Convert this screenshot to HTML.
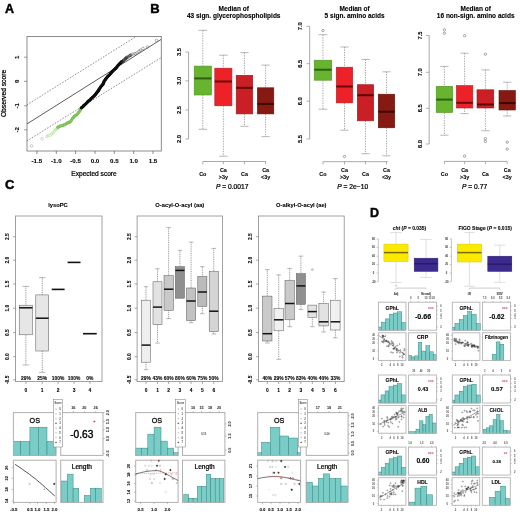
<!DOCTYPE html>
<html><head><meta charset="utf-8"><style>
html,body{margin:0;padding:0;background:#fff;}
svg{display:block;will-change:transform;font-family:"Liberation Sans",sans-serif;}
</style></head><body>
<svg width="520" height="515" viewBox="0 0 520 515">
<rect width="520" height="515" fill="#fff"/>
<text x="9.6" y="13.4" font-size="12.5" font-weight="bold" text-anchor="middle" fill="#000" stroke="#000" stroke-width="0.446">A</text>
<rect x="27" y="36.5" width="134.3" height="114.5" fill="none" stroke="#808080" stroke-width="0.9"/>
<line x1="24" y1="57.2" x2="27" y2="57.2" stroke="#555" stroke-width="0.6"/>
<text x="18.8" y="57.2" font-size="6.2" font-weight="bold" text-anchor="middle" fill="#000" stroke="#000" stroke-width="0.100" transform="rotate(-90 18.8 57.2)">1</text>
<line x1="24" y1="81.3" x2="27" y2="81.3" stroke="#555" stroke-width="0.6"/>
<text x="18.8" y="81.3" font-size="6.2" font-weight="bold" text-anchor="middle" fill="#000" stroke="#000" stroke-width="0.100" transform="rotate(-90 18.8 81.3)">0</text>
<line x1="24" y1="105.8" x2="27" y2="105.8" stroke="#555" stroke-width="0.6"/>
<text x="18.8" y="105.8" font-size="6.2" font-weight="bold" text-anchor="middle" fill="#000" stroke="#000" stroke-width="0.100" transform="rotate(-90 18.8 105.8)">-1</text>
<line x1="24" y1="129.8" x2="27" y2="129.8" stroke="#555" stroke-width="0.6"/>
<text x="18.8" y="129.8" font-size="6.2" font-weight="bold" text-anchor="middle" fill="#000" stroke="#000" stroke-width="0.100" transform="rotate(-90 18.8 129.8)">-2</text>
<line x1="36.9" y1="151" x2="36.9" y2="154" stroke="#444" stroke-width="0.6"/>
<text x="36.9" y="163.2" font-size="6.2" font-weight="bold" text-anchor="middle" fill="#000" stroke="#000" stroke-width="0.100">-1.5</text>
<line x1="56.3" y1="151" x2="56.3" y2="154" stroke="#444" stroke-width="0.6"/>
<text x="56.3" y="163.2" font-size="6.2" font-weight="bold" text-anchor="middle" fill="#000" stroke="#000" stroke-width="0.100">-1.0</text>
<line x1="75.6" y1="151" x2="75.6" y2="154" stroke="#444" stroke-width="0.6"/>
<text x="75.6" y="163.2" font-size="6.2" font-weight="bold" text-anchor="middle" fill="#000" stroke="#000" stroke-width="0.100">-0.5</text>
<line x1="95" y1="151" x2="95" y2="154" stroke="#444" stroke-width="0.6"/>
<text x="95" y="163.2" font-size="6.2" font-weight="bold" text-anchor="middle" fill="#000" stroke="#000" stroke-width="0.100">0.0</text>
<line x1="114.3" y1="151" x2="114.3" y2="154" stroke="#444" stroke-width="0.6"/>
<text x="114.3" y="163.2" font-size="6.2" font-weight="bold" text-anchor="middle" fill="#000" stroke="#000" stroke-width="0.100">0.5</text>
<line x1="133.7" y1="151" x2="133.7" y2="154" stroke="#444" stroke-width="0.6"/>
<text x="133.7" y="163.2" font-size="6.2" font-weight="bold" text-anchor="middle" fill="#000" stroke="#000" stroke-width="0.100">1.0</text>
<line x1="153" y1="151" x2="153" y2="154" stroke="#444" stroke-width="0.6"/>
<text x="153" y="163.2" font-size="6.2" font-weight="bold" text-anchor="middle" fill="#000" stroke="#000" stroke-width="0.100">1.5</text>
<text x="94" y="175.7" font-size="6.6" text-anchor="middle" fill="#000" stroke="#000" stroke-width="0.236">Expected score</text>
<text x="6.3" y="93.5" font-size="6.7" text-anchor="middle" fill="#000" stroke="#000" stroke-width="0.239" transform="rotate(-90 6.3 93.5)">Observed score</text>
<clipPath id="ca"><rect x="27" y="37" width="134" height="113.6"/></clipPath>
<g clip-path="url(#ca)">
<line x1="26.7" y1="124.1" x2="161.6" y2="39.1" stroke="#333" stroke-width="0.8"/>
<line x1="26.7" y1="105" x2="137" y2="36" stroke="#444" stroke-width="0.6" stroke-dasharray="1.6 1.4"/>
<line x1="26.7" y1="141" x2="161.3" y2="57.5" stroke="#444" stroke-width="0.6" stroke-dasharray="1.6 1.4"/>
<circle cx="46.77" cy="136.67" r="1.25" fill="none" stroke="#a8d890" stroke-width="0.55"/>
<circle cx="48.03" cy="135.55" r="1.25" fill="none" stroke="#a8d890" stroke-width="0.55"/>
<circle cx="50.3" cy="135.34" r="1.25" fill="none" stroke="#a8d890" stroke-width="0.55"/>
<circle cx="51.65" cy="133.88" r="1.25" fill="none" stroke="#a8d890" stroke-width="0.55"/>
<circle cx="53.06" cy="132.86" r="1.25" fill="none" stroke="#a8d890" stroke-width="0.55"/>
<circle cx="54.25" cy="131.1" r="1.25" fill="none" stroke="#a8d890" stroke-width="0.55"/>
<circle cx="55.36" cy="129.74" r="1.25" fill="none" stroke="#a8d890" stroke-width="0.55"/>
<circle cx="56.73" cy="128.9" r="1.25" fill="none" stroke="#a8d890" stroke-width="0.55"/>
<circle cx="57.8" cy="127.4" r="1.25" fill="none" stroke="#a8d890" stroke-width="0.55"/>
<circle cx="57.64" cy="127.43" r="1.2" fill="#a6d985" stroke="#5aaa30" stroke-width="0.5"/>
<circle cx="58.52" cy="127.06" r="1.2" fill="#a6d985" stroke="#5aaa30" stroke-width="0.5"/>
<circle cx="59.48" cy="126.34" r="1.2" fill="#a6d985" stroke="#5aaa30" stroke-width="0.5"/>
<circle cx="59.91" cy="126.4" r="1.2" fill="#a6d985" stroke="#5aaa30" stroke-width="0.5"/>
<circle cx="60.96" cy="125.74" r="1.2" fill="#a6d985" stroke="#5aaa30" stroke-width="0.5"/>
<circle cx="62.3" cy="125.58" r="1.2" fill="#a6d985" stroke="#5aaa30" stroke-width="0.5"/>
<circle cx="63.1" cy="125.29" r="1.2" fill="#a6d985" stroke="#5aaa30" stroke-width="0.5"/>
<circle cx="63.88" cy="124.79" r="1.2" fill="#a6d985" stroke="#5aaa30" stroke-width="0.5"/>
<circle cx="64.76" cy="124.77" r="1.2" fill="#a6d985" stroke="#5aaa30" stroke-width="0.5"/>
<circle cx="65.56" cy="124.24" r="1.2" fill="#a6d985" stroke="#5aaa30" stroke-width="0.5"/>
<circle cx="66.53" cy="123.39" r="1.2" fill="#a6d985" stroke="#5aaa30" stroke-width="0.5"/>
<circle cx="67.45" cy="123.25" r="1.2" fill="#a6d985" stroke="#5aaa30" stroke-width="0.5"/>
<circle cx="67.93" cy="122.49" r="1.2" fill="#a6d985" stroke="#5aaa30" stroke-width="0.5"/>
<circle cx="69.02" cy="122.33" r="1.2" fill="#a6d985" stroke="#5aaa30" stroke-width="0.5"/>
<circle cx="69.68" cy="122.15" r="1.2" fill="#a6d985" stroke="#5aaa30" stroke-width="0.5"/>
<circle cx="70.43" cy="121.75" r="1.2" fill="#a6d985" stroke="#5aaa30" stroke-width="0.5"/>
<circle cx="70.84" cy="120.88" r="1.2" fill="#a6d985" stroke="#5aaa30" stroke-width="0.5"/>
<circle cx="71.47" cy="120.16" r="1.2" fill="#a6d985" stroke="#5aaa30" stroke-width="0.5"/>
<circle cx="72.33" cy="118.86" r="1.2" fill="#a6d985" stroke="#5aaa30" stroke-width="0.5"/>
<circle cx="72.48" cy="118.13" r="1.2" fill="#a6d985" stroke="#5aaa30" stroke-width="0.5"/>
<circle cx="73.58" cy="117.46" r="1.2" fill="#a6d985" stroke="#5aaa30" stroke-width="0.5"/>
<circle cx="73.98" cy="116.58" r="1.2" fill="#a6d985" stroke="#5aaa30" stroke-width="0.5"/>
<circle cx="74.65" cy="116.03" r="1.2" fill="#a6d985" stroke="#5aaa30" stroke-width="0.5"/>
<circle cx="75.31" cy="115.55" r="1.2" fill="#a6d985" stroke="#5aaa30" stroke-width="0.5"/>
<circle cx="76.2" cy="115.14" r="1.2" fill="#a6d985" stroke="#5aaa30" stroke-width="0.5"/>
<circle cx="77.01" cy="114.56" r="1.2" fill="#a6d985" stroke="#5aaa30" stroke-width="0.5"/>
<circle cx="77.71" cy="113.82" r="1.2" fill="#a6d985" stroke="#5aaa30" stroke-width="0.5"/>
<circle cx="78.2" cy="112.55" r="1.2" fill="#a6d985" stroke="#5aaa30" stroke-width="0.5"/>
<circle cx="78.92" cy="112.25" r="1.2" fill="#a6d985" stroke="#5aaa30" stroke-width="0.5"/>
<circle cx="79.54" cy="111.24" r="1.2" fill="#a6d985" stroke="#5aaa30" stroke-width="0.5"/>
<circle cx="79.95" cy="110.25" r="1.2" fill="#a6d985" stroke="#5aaa30" stroke-width="0.5"/>
<circle cx="80.55" cy="109.69" r="1.2" fill="#a6d985" stroke="#5aaa30" stroke-width="0.5"/>
<circle cx="80.75" cy="108.61" r="1.2" fill="#a6d985" stroke="#5aaa30" stroke-width="0.5"/>
<circle cx="81.4" cy="108.1" r="1.2" fill="#a6d985" stroke="#5aaa30" stroke-width="0.5"/>
<circle cx="81.27" cy="107.9" r="1.2" fill="#222" stroke="#000" stroke-width="0.5"/>
<circle cx="81.79" cy="107.48" r="1.2" fill="#222" stroke="#000" stroke-width="0.5"/>
<circle cx="82.07" cy="107.17" r="1.2" fill="#222" stroke="#000" stroke-width="0.5"/>
<circle cx="82.94" cy="106.92" r="1.2" fill="#222" stroke="#000" stroke-width="0.5"/>
<circle cx="83.3" cy="106.19" r="1.2" fill="#222" stroke="#000" stroke-width="0.5"/>
<circle cx="83.63" cy="105.77" r="1.2" fill="#222" stroke="#000" stroke-width="0.5"/>
<circle cx="83.89" cy="105.25" r="1.2" fill="#222" stroke="#000" stroke-width="0.5"/>
<circle cx="84.36" cy="105.21" r="1.2" fill="#222" stroke="#000" stroke-width="0.5"/>
<circle cx="85.14" cy="104.68" r="1.2" fill="#222" stroke="#000" stroke-width="0.5"/>
<circle cx="85.59" cy="103.9" r="1.2" fill="#222" stroke="#000" stroke-width="0.5"/>
<circle cx="85.82" cy="103.65" r="1.2" fill="#222" stroke="#000" stroke-width="0.5"/>
<circle cx="86.5" cy="103.29" r="1.2" fill="#222" stroke="#000" stroke-width="0.5"/>
<circle cx="87.05" cy="102.44" r="1.2" fill="#222" stroke="#000" stroke-width="0.5"/>
<circle cx="87.38" cy="102.26" r="1.2" fill="#222" stroke="#000" stroke-width="0.5"/>
<circle cx="87.8" cy="101.54" r="1.2" fill="#222" stroke="#000" stroke-width="0.5"/>
<circle cx="88.24" cy="101.09" r="1.2" fill="#222" stroke="#000" stroke-width="0.5"/>
<circle cx="88.92" cy="101.08" r="1.2" fill="#222" stroke="#000" stroke-width="0.5"/>
<circle cx="89.17" cy="100.4" r="1.2" fill="#222" stroke="#000" stroke-width="0.5"/>
<circle cx="89.8" cy="100.14" r="1.2" fill="#222" stroke="#000" stroke-width="0.5"/>
<circle cx="90.24" cy="99.87" r="1.2" fill="#222" stroke="#000" stroke-width="0.5"/>
<circle cx="90.5" cy="99.26" r="1.2" fill="#222" stroke="#000" stroke-width="0.5"/>
<circle cx="91" cy="98.87" r="1.2" fill="#222" stroke="#000" stroke-width="0.5"/>
<circle cx="91.23" cy="98.4" r="1.2" fill="#222" stroke="#000" stroke-width="0.5"/>
<circle cx="92.01" cy="97.87" r="1.2" fill="#222" stroke="#000" stroke-width="0.5"/>
<circle cx="92.07" cy="97.76" r="1.2" fill="#222" stroke="#000" stroke-width="0.5"/>
<circle cx="92.64" cy="97.32" r="1.2" fill="#222" stroke="#000" stroke-width="0.5"/>
<circle cx="93.19" cy="96.82" r="1.2" fill="#222" stroke="#000" stroke-width="0.5"/>
<circle cx="93.91" cy="96.27" r="1.2" fill="#222" stroke="#000" stroke-width="0.5"/>
<circle cx="94.08" cy="95.79" r="1.2" fill="#222" stroke="#000" stroke-width="0.5"/>
<circle cx="94.65" cy="95.35" r="1.2" fill="#222" stroke="#000" stroke-width="0.5"/>
<circle cx="94.97" cy="95.1" r="1.2" fill="#222" stroke="#000" stroke-width="0.5"/>
<circle cx="95.41" cy="94.53" r="1.2" fill="#222" stroke="#000" stroke-width="0.5"/>
<circle cx="96.08" cy="93.8" r="1.2" fill="#222" stroke="#000" stroke-width="0.5"/>
<circle cx="96.04" cy="93.36" r="1.2" fill="#222" stroke="#000" stroke-width="0.5"/>
<circle cx="96.77" cy="93.06" r="1.2" fill="#222" stroke="#000" stroke-width="0.5"/>
<circle cx="96.89" cy="92.42" r="1.2" fill="#222" stroke="#000" stroke-width="0.5"/>
<circle cx="97.24" cy="91.98" r="1.2" fill="#222" stroke="#000" stroke-width="0.5"/>
<circle cx="97.51" cy="91.57" r="1.2" fill="#222" stroke="#000" stroke-width="0.5"/>
<circle cx="98.27" cy="91.18" r="1.2" fill="#222" stroke="#000" stroke-width="0.5"/>
<circle cx="98.53" cy="90.65" r="1.2" fill="#222" stroke="#000" stroke-width="0.5"/>
<circle cx="98.51" cy="89.79" r="1.2" fill="#222" stroke="#000" stroke-width="0.5"/>
<circle cx="99.32" cy="89.51" r="1.2" fill="#222" stroke="#000" stroke-width="0.5"/>
<circle cx="99.38" cy="89.07" r="1.2" fill="#222" stroke="#000" stroke-width="0.5"/>
<circle cx="99.82" cy="88.48" r="1.2" fill="#222" stroke="#000" stroke-width="0.5"/>
<circle cx="100" cy="87.65" r="1.2" fill="#222" stroke="#000" stroke-width="0.5"/>
<circle cx="100.47" cy="87.14" r="1.2" fill="#222" stroke="#000" stroke-width="0.5"/>
<circle cx="100.84" cy="87.08" r="1.2" fill="#222" stroke="#000" stroke-width="0.5"/>
<circle cx="101.22" cy="86.13" r="1.2" fill="#222" stroke="#000" stroke-width="0.5"/>
<circle cx="101.47" cy="85.73" r="1.2" fill="#222" stroke="#000" stroke-width="0.5"/>
<circle cx="102.24" cy="85.36" r="1.2" fill="#222" stroke="#000" stroke-width="0.5"/>
<circle cx="102.4" cy="84.75" r="1.2" fill="#222" stroke="#000" stroke-width="0.5"/>
<circle cx="103.14" cy="84.44" r="1.2" fill="#222" stroke="#000" stroke-width="0.5"/>
<circle cx="103.15" cy="83.78" r="1.2" fill="#222" stroke="#000" stroke-width="0.5"/>
<circle cx="103.3" cy="83.19" r="1.2" fill="#222" stroke="#000" stroke-width="0.5"/>
<circle cx="103.83" cy="82.54" r="1.2" fill="#222" stroke="#000" stroke-width="0.5"/>
<circle cx="103.73" cy="82.08" r="1.2" fill="#222" stroke="#000" stroke-width="0.5"/>
<circle cx="104.05" cy="81.69" r="1.2" fill="#222" stroke="#000" stroke-width="0.5"/>
<circle cx="104.21" cy="80.81" r="1.2" fill="#222" stroke="#000" stroke-width="0.5"/>
<circle cx="104.94" cy="80.23" r="1.2" fill="#222" stroke="#000" stroke-width="0.5"/>
<circle cx="105.44" cy="79.74" r="1.2" fill="#222" stroke="#000" stroke-width="0.5"/>
<circle cx="105.47" cy="79.18" r="1.2" fill="#222" stroke="#000" stroke-width="0.5"/>
<circle cx="105.77" cy="78.66" r="1.2" fill="#222" stroke="#000" stroke-width="0.5"/>
<circle cx="106.27" cy="78.43" r="1.2" fill="#222" stroke="#000" stroke-width="0.5"/>
<circle cx="106.97" cy="77.77" r="1.2" fill="#222" stroke="#000" stroke-width="0.5"/>
<circle cx="106.97" cy="77.19" r="1.2" fill="#222" stroke="#000" stroke-width="0.5"/>
<circle cx="107.47" cy="76.7" r="1.2" fill="#222" stroke="#000" stroke-width="0.5"/>
<circle cx="107.87" cy="76.57" r="1.2" fill="#222" stroke="#000" stroke-width="0.5"/>
<circle cx="108.22" cy="75.7" r="1.2" fill="#222" stroke="#000" stroke-width="0.5"/>
<circle cx="109.01" cy="75.5" r="1.2" fill="#222" stroke="#000" stroke-width="0.5"/>
<circle cx="109.45" cy="74.95" r="1.2" fill="#222" stroke="#000" stroke-width="0.5"/>
<circle cx="109.8" cy="74.6" r="1.2" fill="#222" stroke="#000" stroke-width="0.5"/>
<circle cx="110.15" cy="74.17" r="1.2" fill="#222" stroke="#000" stroke-width="0.5"/>
<circle cx="110.4" cy="73.37" r="1.2" fill="#222" stroke="#000" stroke-width="0.5"/>
<circle cx="110.66" cy="73.29" r="1.2" fill="#222" stroke="#000" stroke-width="0.5"/>
<circle cx="111.4" cy="72.84" r="1.2" fill="#222" stroke="#000" stroke-width="0.5"/>
<circle cx="111.52" cy="72.23" r="1.2" fill="#222" stroke="#000" stroke-width="0.5"/>
<circle cx="112.15" cy="71.75" r="1.2" fill="#222" stroke="#000" stroke-width="0.5"/>
<circle cx="112.56" cy="71.21" r="1.2" fill="#222" stroke="#000" stroke-width="0.5"/>
<circle cx="112.94" cy="70.89" r="1.2" fill="#222" stroke="#000" stroke-width="0.5"/>
<circle cx="113.21" cy="70.61" r="1.2" fill="#222" stroke="#000" stroke-width="0.5"/>
<circle cx="114.02" cy="69.79" r="1.2" fill="#222" stroke="#000" stroke-width="0.5"/>
<circle cx="114.49" cy="69.83" r="1.2" fill="#222" stroke="#000" stroke-width="0.5"/>
<circle cx="114.8" cy="68.97" r="1.2" fill="#222" stroke="#000" stroke-width="0.5"/>
<circle cx="115.37" cy="68.61" r="1.2" fill="#222" stroke="#000" stroke-width="0.5"/>
<circle cx="115.87" cy="68.48" r="1.2" fill="#222" stroke="#000" stroke-width="0.5"/>
<circle cx="115.88" cy="67.83" r="1.2" fill="#222" stroke="#000" stroke-width="0.5"/>
<circle cx="116.55" cy="67.51" r="1.2" fill="#222" stroke="#000" stroke-width="0.5"/>
<circle cx="116.99" cy="67.16" r="1.2" fill="#222" stroke="#000" stroke-width="0.5"/>
<circle cx="117.12" cy="66.17" r="1.2" fill="#222" stroke="#000" stroke-width="0.5"/>
<circle cx="117.85" cy="65.64" r="1.2" fill="#222" stroke="#000" stroke-width="0.5"/>
<circle cx="118.22" cy="65.17" r="1.2" fill="#222" stroke="#000" stroke-width="0.5"/>
<circle cx="118.57" cy="64.97" r="1.2" fill="#222" stroke="#000" stroke-width="0.5"/>
<circle cx="118.99" cy="64.33" r="1.2" fill="#222" stroke="#000" stroke-width="0.5"/>
<circle cx="119.52" cy="63.7" r="1.2" fill="#222" stroke="#000" stroke-width="0.5"/>
<circle cx="119.95" cy="63.32" r="1.2" fill="#222" stroke="#000" stroke-width="0.5"/>
<circle cx="120.6" cy="63.09" r="1.2" fill="#222" stroke="#000" stroke-width="0.5"/>
<circle cx="120.92" cy="62.51" r="1.2" fill="#222" stroke="#000" stroke-width="0.5"/>
<circle cx="121.23" cy="61.82" r="1.2" fill="#222" stroke="#000" stroke-width="0.5"/>
<circle cx="122" cy="61.6" r="1.2" fill="#222" stroke="#000" stroke-width="0.5"/>
<circle cx="122.07" cy="61.75" r="1.25" fill="none" stroke="#222" stroke-width="0.55"/>
<circle cx="122.8" cy="61.34" r="1.25" fill="none" stroke="#222" stroke-width="0.55"/>
<circle cx="123.39" cy="60.8" r="1.25" fill="none" stroke="#222" stroke-width="0.55"/>
<circle cx="123.59" cy="60" r="1.25" fill="none" stroke="#222" stroke-width="0.55"/>
<circle cx="124.77" cy="59.59" r="1.25" fill="none" stroke="#222" stroke-width="0.55"/>
<circle cx="125.37" cy="58.77" r="1.25" fill="none" stroke="#222" stroke-width="0.55"/>
<circle cx="125.73" cy="58.35" r="1.25" fill="none" stroke="#222" stroke-width="0.55"/>
<circle cx="126.4" cy="58.04" r="1.25" fill="none" stroke="#222" stroke-width="0.55"/>
<circle cx="126.71" cy="57.33" r="1.25" fill="none" stroke="#222" stroke-width="0.55"/>
<circle cx="127.87" cy="57.1" r="1.25" fill="none" stroke="#222" stroke-width="0.55"/>
<circle cx="129.16" cy="56" r="1.25" fill="none" stroke="#222" stroke-width="0.55"/>
<circle cx="130.18" cy="55.38" r="1.25" fill="none" stroke="#222" stroke-width="0.55"/>
<circle cx="131" cy="55" r="1.25" fill="none" stroke="#222" stroke-width="0.55"/>
<circle cx="133" cy="54" r="1.3" fill="none" stroke="#666" stroke-width="0.5"/>
<circle cx="135" cy="53.6" r="1.3" fill="none" stroke="#666" stroke-width="0.5"/>
<circle cx="137" cy="53" r="1.3" fill="none" stroke="#666" stroke-width="0.5"/>
<circle cx="139" cy="51.2" r="1.3" fill="none" stroke="#666" stroke-width="0.5"/>
<circle cx="140.5" cy="50" r="1.3" fill="none" stroke="#666" stroke-width="0.5"/>
<circle cx="143" cy="48.5" r="1.3" fill="none" stroke="#666" stroke-width="0.5"/>
<circle cx="147.5" cy="47" r="1.3" fill="none" stroke="#666" stroke-width="0.5"/>
<circle cx="156.5" cy="40.5" r="1.3" fill="none" stroke="#666" stroke-width="0.5"/>
<circle cx="31.6" cy="145.9" r="1.35" fill="none" stroke="#999" stroke-width="0.5"/>
<circle cx="42.1" cy="138.8" r="1.35" fill="none" stroke="#b0c8a8" stroke-width="0.6"/>
</g>
<text x="154.9" y="13.3" font-size="13" font-weight="bold" text-anchor="middle" fill="#000" stroke="#000" stroke-width="0.464">B</text>
<text x="233.7" y="10.6" font-size="6.5" font-weight="bold" text-anchor="middle" fill="#000" stroke="#000" stroke-width="0.104">Median of</text>
<text x="233.7" y="18" font-size="6.5" font-weight="bold" text-anchor="middle" fill="#000" stroke="#000" stroke-width="0.104">43 sign. glycerophospholipids</text>
<line x1="188.6" y1="52" x2="188.6" y2="139" stroke="#a8a8a8" stroke-width="1.0"/>
<line x1="185.4" y1="52" x2="188.6" y2="52" stroke="#999" stroke-width="0.8"/>
<text x="181.3" y="52" font-size="5.8" font-weight="bold" text-anchor="middle" fill="#000" stroke="#000" stroke-width="0.093" transform="rotate(-90 181.3 52)">3.5</text>
<line x1="185.4" y1="80.8" x2="188.6" y2="80.8" stroke="#999" stroke-width="0.8"/>
<text x="181.3" y="80.8" font-size="5.8" font-weight="bold" text-anchor="middle" fill="#000" stroke="#000" stroke-width="0.093" transform="rotate(-90 181.3 80.8)">3.0</text>
<line x1="185.4" y1="110" x2="188.6" y2="110" stroke="#999" stroke-width="0.8"/>
<text x="181.3" y="110" font-size="5.8" font-weight="bold" text-anchor="middle" fill="#000" stroke="#000" stroke-width="0.093" transform="rotate(-90 181.3 110)">2.5</text>
<line x1="185.4" y1="139" x2="188.6" y2="139" stroke="#999" stroke-width="0.8"/>
<text x="181.3" y="139" font-size="5.8" font-weight="bold" text-anchor="middle" fill="#000" stroke="#000" stroke-width="0.093" transform="rotate(-90 181.3 139)">2.0</text>
<line x1="202.8" y1="30.3" x2="202.8" y2="66.1" stroke="#707070" stroke-width="0.6" stroke-dasharray="1.4 1.1"/>
<line x1="198.5" y1="30.3" x2="207.1" y2="30.3" stroke="#888" stroke-width="0.6"/>
<line x1="202.8" y1="95" x2="202.8" y2="129.3" stroke="#707070" stroke-width="0.6" stroke-dasharray="1.4 1.1"/>
<line x1="198.5" y1="129.3" x2="207.1" y2="129.3" stroke="#888" stroke-width="0.6"/>
<rect x="194.2" y="66.1" width="17.2" height="28.9" fill="#67b52f" stroke="#4f8f22" stroke-width="0.6"/>
<line x1="194.2" y1="78.4" x2="211.4" y2="78.4" stroke="#2f5e12" stroke-width="2.0"/>
<line x1="223.35" y1="55.2" x2="223.35" y2="68.2" stroke="#707070" stroke-width="0.6" stroke-dasharray="1.4 1.1"/>
<line x1="219.08" y1="55.2" x2="227.63" y2="55.2" stroke="#888" stroke-width="0.6"/>
<line x1="223.35" y1="105.8" x2="223.35" y2="156.2" stroke="#707070" stroke-width="0.6" stroke-dasharray="1.4 1.1"/>
<line x1="219.08" y1="156.2" x2="227.63" y2="156.2" stroke="#888" stroke-width="0.6"/>
<rect x="214.8" y="68.2" width="17.1" height="37.6" fill="#ec2228" stroke="#b81a1e" stroke-width="0.6"/>
<line x1="214.8" y1="81.5" x2="231.9" y2="81.5" stroke="#6a0808" stroke-width="2.0"/>
<line x1="244.45" y1="52.6" x2="244.45" y2="75.3" stroke="#707070" stroke-width="0.6" stroke-dasharray="1.4 1.1"/>
<line x1="240.32" y1="52.6" x2="248.57" y2="52.6" stroke="#888" stroke-width="0.6"/>
<line x1="244.45" y1="113.9" x2="244.45" y2="126.3" stroke="#707070" stroke-width="0.6" stroke-dasharray="1.4 1.1"/>
<line x1="240.32" y1="126.3" x2="248.57" y2="126.3" stroke="#888" stroke-width="0.6"/>
<rect x="236.2" y="75.3" width="16.5" height="38.6" fill="#cb1f26" stroke="#9c161c" stroke-width="0.6"/>
<line x1="236.2" y1="87.8" x2="252.7" y2="87.8" stroke="#5a0606" stroke-width="2.0"/>
<line x1="265.6" y1="65.1" x2="265.6" y2="87.8" stroke="#707070" stroke-width="0.6" stroke-dasharray="1.4 1.1"/>
<line x1="261.5" y1="65.1" x2="269.7" y2="65.1" stroke="#888" stroke-width="0.6"/>
<line x1="265.6" y1="113.9" x2="265.6" y2="136.6" stroke="#707070" stroke-width="0.6" stroke-dasharray="1.4 1.1"/>
<line x1="261.5" y1="136.6" x2="269.7" y2="136.6" stroke="#888" stroke-width="0.6"/>
<rect x="257.4" y="87.8" width="16.4" height="26.1" fill="#861a12" stroke="#5e120c" stroke-width="0.6"/>
<line x1="257.4" y1="103.9" x2="273.8" y2="103.9" stroke="#3a0804" stroke-width="2.0"/>
<line x1="203" y1="161.5" x2="265.8" y2="161.5" stroke="#a8a8a8" stroke-width="1.0"/>
<line x1="202.8" y1="161.5" x2="202.8" y2="164.3" stroke="#999" stroke-width="0.8"/>
<line x1="223.35" y1="161.5" x2="223.35" y2="164.3" stroke="#999" stroke-width="0.8"/>
<line x1="244.45" y1="161.5" x2="244.45" y2="164.3" stroke="#999" stroke-width="0.8"/>
<line x1="265.6" y1="161.5" x2="265.6" y2="164.3" stroke="#999" stroke-width="0.8"/>
<text x="202.8" y="175.6" font-size="5.4" font-weight="bold" text-anchor="middle" fill="#000" stroke="#000" stroke-width="0.087">Co</text>
<text x="223.35" y="172.1" font-size="5.4" font-weight="bold" text-anchor="middle" fill="#000" stroke="#000" stroke-width="0.087">Ca</text>
<text x="223.35" y="179.2" font-size="5.4" font-weight="bold" text-anchor="middle" fill="#000" stroke="#000" stroke-width="0.087">&gt;3y</text>
<text x="244.45" y="175.6" font-size="5.4" font-weight="bold" text-anchor="middle" fill="#000" stroke="#000" stroke-width="0.087">Ca</text>
<text x="265.6" y="172.1" font-size="5.4" font-weight="bold" text-anchor="middle" fill="#000" stroke="#000" stroke-width="0.087">Ca</text>
<text x="265.6" y="179.2" font-size="5.4" font-weight="bold" text-anchor="middle" fill="#000" stroke="#000" stroke-width="0.087">&lt;3y</text>
<text x="232.2" y="188.7" font-size="6.7" text-anchor="middle" stroke="#000" stroke-width="0.24"><tspan font-style="italic">P</tspan> = 0.0017</text>
<text x="354.6" y="10.6" font-size="6.5" font-weight="bold" text-anchor="middle" fill="#000" stroke="#000" stroke-width="0.104">Median of</text>
<text x="354.6" y="18" font-size="6.5" font-weight="bold" text-anchor="middle" fill="#000" stroke="#000" stroke-width="0.104">5 sign. amino acids</text>
<line x1="309.7" y1="26.3" x2="309.7" y2="139" stroke="#a8a8a8" stroke-width="1.0"/>
<line x1="306.5" y1="26.3" x2="309.7" y2="26.3" stroke="#999" stroke-width="0.8"/>
<text x="302.4" y="26.3" font-size="5.8" font-weight="bold" text-anchor="middle" fill="#000" stroke="#000" stroke-width="0.093" transform="rotate(-90 302.4 26.3)">7.0</text>
<line x1="306.5" y1="63.7" x2="309.7" y2="63.7" stroke="#999" stroke-width="0.8"/>
<text x="302.4" y="63.7" font-size="5.8" font-weight="bold" text-anchor="middle" fill="#000" stroke="#000" stroke-width="0.093" transform="rotate(-90 302.4 63.7)">6.5</text>
<line x1="306.5" y1="101.2" x2="309.7" y2="101.2" stroke="#999" stroke-width="0.8"/>
<text x="302.4" y="101.2" font-size="5.8" font-weight="bold" text-anchor="middle" fill="#000" stroke="#000" stroke-width="0.093" transform="rotate(-90 302.4 101.2)">6.0</text>
<line x1="306.5" y1="139" x2="309.7" y2="139" stroke="#999" stroke-width="0.8"/>
<text x="302.4" y="139" font-size="5.8" font-weight="bold" text-anchor="middle" fill="#000" stroke="#000" stroke-width="0.093" transform="rotate(-90 302.4 139)">5.5</text>
<line x1="322.95" y1="34.7" x2="322.95" y2="60.2" stroke="#707070" stroke-width="0.6" stroke-dasharray="1.4 1.1"/>
<line x1="318.57" y1="34.7" x2="327.32" y2="34.7" stroke="#888" stroke-width="0.6"/>
<line x1="322.95" y1="80.2" x2="322.95" y2="109.2" stroke="#707070" stroke-width="0.6" stroke-dasharray="1.4 1.1"/>
<line x1="318.57" y1="109.2" x2="327.32" y2="109.2" stroke="#888" stroke-width="0.6"/>
<rect x="314.2" y="60.2" width="17.5" height="20" fill="#67b52f" stroke="#4f8f22" stroke-width="0.6"/>
<line x1="314.2" y1="69.7" x2="331.7" y2="69.7" stroke="#2f5e12" stroke-width="2.0"/>
<circle cx="322.95" cy="30.5" r="1.2" fill="none" stroke="#555" stroke-width="0.5"/>
<line x1="344.5" y1="47" x2="344.5" y2="67.2" stroke="#707070" stroke-width="0.6" stroke-dasharray="1.4 1.1"/>
<line x1="340.4" y1="47" x2="348.6" y2="47" stroke="#888" stroke-width="0.6"/>
<line x1="344.5" y1="102.9" x2="344.5" y2="130.2" stroke="#707070" stroke-width="0.6" stroke-dasharray="1.4 1.1"/>
<line x1="340.4" y1="130.2" x2="348.6" y2="130.2" stroke="#888" stroke-width="0.6"/>
<rect x="336.3" y="67.2" width="16.4" height="35.7" fill="#ec2228" stroke="#b81a1e" stroke-width="0.6"/>
<line x1="336.3" y1="86.5" x2="352.7" y2="86.5" stroke="#6a0808" stroke-width="2.0"/>
<circle cx="344.5" cy="156.5" r="1.2" fill="none" stroke="#555" stroke-width="0.5"/>
<line x1="365.5" y1="59.5" x2="365.5" y2="84.7" stroke="#707070" stroke-width="0.6" stroke-dasharray="1.4 1.1"/>
<line x1="361.4" y1="59.5" x2="369.6" y2="59.5" stroke="#888" stroke-width="0.6"/>
<line x1="365.5" y1="120.8" x2="365.5" y2="153.7" stroke="#707070" stroke-width="0.6" stroke-dasharray="1.4 1.1"/>
<line x1="361.4" y1="153.7" x2="369.6" y2="153.7" stroke="#888" stroke-width="0.6"/>
<rect x="357.3" y="84.7" width="16.4" height="36.1" fill="#cb1f26" stroke="#9c161c" stroke-width="0.6"/>
<line x1="357.3" y1="95.2" x2="373.7" y2="95.2" stroke="#5a0606" stroke-width="2.0"/>
<line x1="386.5" y1="71.8" x2="386.5" y2="94.2" stroke="#707070" stroke-width="0.6" stroke-dasharray="1.4 1.1"/>
<line x1="382.4" y1="71.8" x2="390.6" y2="71.8" stroke="#888" stroke-width="0.6"/>
<line x1="386.5" y1="127.8" x2="386.5" y2="155.8" stroke="#707070" stroke-width="0.6" stroke-dasharray="1.4 1.1"/>
<line x1="382.4" y1="155.8" x2="390.6" y2="155.8" stroke="#888" stroke-width="0.6"/>
<rect x="378.3" y="94.2" width="16.4" height="33.6" fill="#861a12" stroke="#5e120c" stroke-width="0.6"/>
<line x1="378.3" y1="111.7" x2="394.7" y2="111.7" stroke="#3a0804" stroke-width="2.0"/>
<line x1="323" y1="161.7" x2="387.7" y2="161.7" stroke="#a8a8a8" stroke-width="1.0"/>
<line x1="322.95" y1="161.7" x2="322.95" y2="164.5" stroke="#999" stroke-width="0.8"/>
<line x1="344.5" y1="161.7" x2="344.5" y2="164.5" stroke="#999" stroke-width="0.8"/>
<line x1="365.5" y1="161.7" x2="365.5" y2="164.5" stroke="#999" stroke-width="0.8"/>
<line x1="386.5" y1="161.7" x2="386.5" y2="164.5" stroke="#999" stroke-width="0.8"/>
<text x="322.95" y="175.6" font-size="5.4" font-weight="bold" text-anchor="middle" fill="#000" stroke="#000" stroke-width="0.087">Co</text>
<text x="344.5" y="172.1" font-size="5.4" font-weight="bold" text-anchor="middle" fill="#000" stroke="#000" stroke-width="0.087">Ca</text>
<text x="344.5" y="179.2" font-size="5.4" font-weight="bold" text-anchor="middle" fill="#000" stroke="#000" stroke-width="0.087">&gt;3y</text>
<text x="365.5" y="175.6" font-size="5.4" font-weight="bold" text-anchor="middle" fill="#000" stroke="#000" stroke-width="0.087">Ca</text>
<text x="386.5" y="172.1" font-size="5.4" font-weight="bold" text-anchor="middle" fill="#000" stroke="#000" stroke-width="0.087">Ca</text>
<text x="386.5" y="179.2" font-size="5.4" font-weight="bold" text-anchor="middle" fill="#000" stroke="#000" stroke-width="0.087">&lt;3y</text>
<text x="352.7" y="188.7" font-size="6.7" text-anchor="middle" stroke="#000" stroke-width="0.24"><tspan font-style="italic">P</tspan> = 2e−10</text>
<text x="475.7" y="10.6" font-size="6.5" font-weight="bold" text-anchor="middle" fill="#000" stroke="#000" stroke-width="0.104">Median of</text>
<text x="475.7" y="18" font-size="6.5" font-weight="bold" text-anchor="middle" fill="#000" stroke="#000" stroke-width="0.104">16 non-sign. amino acids</text>
<line x1="429.2" y1="35.5" x2="429.2" y2="144" stroke="#a8a8a8" stroke-width="1.0"/>
<line x1="426" y1="35.5" x2="429.2" y2="35.5" stroke="#999" stroke-width="0.8"/>
<text x="421.9" y="35.5" font-size="5.8" font-weight="bold" text-anchor="middle" fill="#000" stroke="#000" stroke-width="0.093" transform="rotate(-90 421.9 35.5)">7.5</text>
<line x1="426" y1="72.3" x2="429.2" y2="72.3" stroke="#999" stroke-width="0.8"/>
<text x="421.9" y="72.3" font-size="5.8" font-weight="bold" text-anchor="middle" fill="#000" stroke="#000" stroke-width="0.093" transform="rotate(-90 421.9 72.3)">7.0</text>
<line x1="426" y1="108.3" x2="429.2" y2="108.3" stroke="#999" stroke-width="0.8"/>
<text x="421.9" y="108.3" font-size="5.8" font-weight="bold" text-anchor="middle" fill="#000" stroke="#000" stroke-width="0.093" transform="rotate(-90 421.9 108.3)">6.5</text>
<line x1="426" y1="144" x2="429.2" y2="144" stroke="#999" stroke-width="0.8"/>
<text x="421.9" y="144" font-size="5.8" font-weight="bold" text-anchor="middle" fill="#000" stroke="#000" stroke-width="0.093" transform="rotate(-90 421.9 144)">6.0</text>
<line x1="444.4" y1="66.4" x2="444.4" y2="86.3" stroke="#707070" stroke-width="0.6" stroke-dasharray="1.4 1.1"/>
<line x1="440.3" y1="66.4" x2="448.5" y2="66.4" stroke="#888" stroke-width="0.6"/>
<line x1="444.4" y1="112.5" x2="444.4" y2="135.2" stroke="#707070" stroke-width="0.6" stroke-dasharray="1.4 1.1"/>
<line x1="440.3" y1="135.2" x2="448.5" y2="135.2" stroke="#888" stroke-width="0.6"/>
<rect x="436.2" y="86.3" width="16.4" height="26.2" fill="#67b52f" stroke="#4f8f22" stroke-width="0.6"/>
<line x1="436.2" y1="99.6" x2="452.6" y2="99.6" stroke="#2f5e12" stroke-width="2.0"/>
<circle cx="444.4" cy="29.8" r="1.2" fill="none" stroke="#555" stroke-width="0.5"/>
<circle cx="444.4" cy="33.3" r="1.2" fill="none" stroke="#555" stroke-width="0.5"/>
<line x1="464.6" y1="53.2" x2="464.6" y2="85.6" stroke="#707070" stroke-width="0.6" stroke-dasharray="1.4 1.1"/>
<line x1="460.5" y1="53.2" x2="468.7" y2="53.2" stroke="#888" stroke-width="0.6"/>
<line x1="464.6" y1="108" x2="464.6" y2="113.6" stroke="#707070" stroke-width="0.6" stroke-dasharray="1.4 1.1"/>
<line x1="460.5" y1="113.6" x2="468.7" y2="113.6" stroke="#888" stroke-width="0.6"/>
<rect x="456.4" y="85.6" width="16.4" height="22.4" fill="#ec2228" stroke="#b81a1e" stroke-width="0.6"/>
<line x1="456.4" y1="102.8" x2="472.8" y2="102.8" stroke="#6a0808" stroke-width="2.0"/>
<circle cx="464.6" cy="35.7" r="1.2" fill="none" stroke="#555" stroke-width="0.5"/>
<circle cx="464.6" cy="156.2" r="1.2" fill="none" stroke="#555" stroke-width="0.5"/>
<line x1="485.4" y1="69.9" x2="485.4" y2="89.8" stroke="#707070" stroke-width="0.6" stroke-dasharray="1.4 1.1"/>
<line x1="481.2" y1="69.9" x2="489.6" y2="69.9" stroke="#888" stroke-width="0.6"/>
<line x1="485.4" y1="108" x2="485.4" y2="130.7" stroke="#707070" stroke-width="0.6" stroke-dasharray="1.4 1.1"/>
<line x1="481.2" y1="130.7" x2="489.6" y2="130.7" stroke="#888" stroke-width="0.6"/>
<rect x="477" y="89.8" width="16.8" height="18.2" fill="#cb1f26" stroke="#9c161c" stroke-width="0.6"/>
<line x1="477" y1="104.5" x2="493.8" y2="104.5" stroke="#5a0606" stroke-width="2.0"/>
<circle cx="485.4" cy="54.2" r="1.2" fill="none" stroke="#555" stroke-width="0.5"/>
<circle cx="485.4" cy="138.7" r="1.2" fill="none" stroke="#555" stroke-width="0.5"/>
<circle cx="485.4" cy="141.5" r="1.2" fill="none" stroke="#555" stroke-width="0.5"/>
<line x1="507.2" y1="82.2" x2="507.2" y2="90.5" stroke="#707070" stroke-width="0.6" stroke-dasharray="1.4 1.1"/>
<line x1="503.1" y1="82.2" x2="511.3" y2="82.2" stroke="#888" stroke-width="0.6"/>
<line x1="507.2" y1="110" x2="507.2" y2="116" stroke="#707070" stroke-width="0.6" stroke-dasharray="1.4 1.1"/>
<line x1="503.1" y1="116" x2="511.3" y2="116" stroke="#888" stroke-width="0.6"/>
<rect x="499" y="90.5" width="16.4" height="19.5" fill="#861a12" stroke="#5e120c" stroke-width="0.6"/>
<line x1="499" y1="103.1" x2="515.4" y2="103.1" stroke="#3a0804" stroke-width="2.0"/>
<circle cx="507.2" cy="142.2" r="1.2" fill="none" stroke="#555" stroke-width="0.5"/>
<circle cx="507.2" cy="149.2" r="1.2" fill="none" stroke="#555" stroke-width="0.5"/>
<line x1="444.2" y1="161.4" x2="507" y2="161.4" stroke="#a8a8a8" stroke-width="1.0"/>
<line x1="444.4" y1="161.4" x2="444.4" y2="164.2" stroke="#999" stroke-width="0.8"/>
<line x1="464.6" y1="161.4" x2="464.6" y2="164.2" stroke="#999" stroke-width="0.8"/>
<line x1="485.4" y1="161.4" x2="485.4" y2="164.2" stroke="#999" stroke-width="0.8"/>
<line x1="507.2" y1="161.4" x2="507.2" y2="164.2" stroke="#999" stroke-width="0.8"/>
<text x="444.4" y="175.6" font-size="5.4" font-weight="bold" text-anchor="middle" fill="#000" stroke="#000" stroke-width="0.087">Co</text>
<text x="464.6" y="172.1" font-size="5.4" font-weight="bold" text-anchor="middle" fill="#000" stroke="#000" stroke-width="0.087">Ca</text>
<text x="464.6" y="179.2" font-size="5.4" font-weight="bold" text-anchor="middle" fill="#000" stroke="#000" stroke-width="0.087">&gt;3y</text>
<text x="485.4" y="175.6" font-size="5.4" font-weight="bold" text-anchor="middle" fill="#000" stroke="#000" stroke-width="0.087">Ca</text>
<text x="507.2" y="172.1" font-size="5.4" font-weight="bold" text-anchor="middle" fill="#000" stroke="#000" stroke-width="0.087">Ca</text>
<text x="507.2" y="179.2" font-size="5.4" font-weight="bold" text-anchor="middle" fill="#000" stroke="#000" stroke-width="0.087">&lt;3y</text>
<text x="474.6" y="188.7" font-size="6.7" text-anchor="middle" stroke="#000" stroke-width="0.24"><tspan font-style="italic">P</tspan> = 0.77</text>
<text x="9.8" y="188.6" font-size="13" font-weight="bold" text-anchor="middle" fill="#000" stroke="#000" stroke-width="0.464">C</text>
<text x="58" y="206.8" font-size="5.75" font-weight="bold" text-anchor="middle" fill="#000" stroke="#000" stroke-width="0.092">lysoPC</text>
<rect x="15.5" y="216" width="86.5" height="165.6" fill="none" stroke="#8a8a8a" stroke-width="0.8"/>
<line x1="13" y1="236.7" x2="15.5" y2="236.7" stroke="#555" stroke-width="0.5"/>
<text x="9.2" y="236.7" font-size="4.9" font-weight="bold" text-anchor="middle" fill="#000" stroke="#000" stroke-width="0.079" transform="rotate(-90 9.2 236.7)">2.5</text>
<line x1="13" y1="260.2" x2="15.5" y2="260.2" stroke="#555" stroke-width="0.5"/>
<text x="9.2" y="260.2" font-size="4.9" font-weight="bold" text-anchor="middle" fill="#000" stroke="#000" stroke-width="0.079" transform="rotate(-90 9.2 260.2)">2.0</text>
<line x1="13" y1="284" x2="15.5" y2="284" stroke="#555" stroke-width="0.5"/>
<text x="9.2" y="284" font-size="4.9" font-weight="bold" text-anchor="middle" fill="#000" stroke="#000" stroke-width="0.079" transform="rotate(-90 9.2 284)">1.5</text>
<line x1="13" y1="308.2" x2="15.5" y2="308.2" stroke="#555" stroke-width="0.5"/>
<text x="9.2" y="308.2" font-size="4.9" font-weight="bold" text-anchor="middle" fill="#000" stroke="#000" stroke-width="0.079" transform="rotate(-90 9.2 308.2)">1.0</text>
<line x1="13" y1="332.6" x2="15.5" y2="332.6" stroke="#555" stroke-width="0.5"/>
<text x="9.2" y="332.6" font-size="4.9" font-weight="bold" text-anchor="middle" fill="#000" stroke="#000" stroke-width="0.079" transform="rotate(-90 9.2 332.6)">0.5</text>
<line x1="13" y1="356.7" x2="15.5" y2="356.7" stroke="#555" stroke-width="0.5"/>
<text x="9.2" y="356.7" font-size="4.9" font-weight="bold" text-anchor="middle" fill="#000" stroke="#000" stroke-width="0.079" transform="rotate(-90 9.2 356.7)">0.0</text>
<line x1="13" y1="379.8" x2="15.5" y2="379.8" stroke="#555" stroke-width="0.5"/>
<text x="9.2" y="379.8" font-size="4.9" font-weight="bold" text-anchor="middle" fill="#000" stroke="#000" stroke-width="0.079" transform="rotate(-90 9.2 379.8)">-0.5</text>
<line x1="25.85" y1="286.4" x2="25.85" y2="305.2" stroke="#555" stroke-width="0.6" stroke-dasharray="1 0.8"/>
<line x1="22.53" y1="286.4" x2="29.18" y2="286.4" stroke="#888" stroke-width="0.6"/>
<line x1="25.85" y1="334.8" x2="25.85" y2="365" stroke="#555" stroke-width="0.6" stroke-dasharray="1 0.8"/>
<line x1="22.53" y1="365" x2="29.18" y2="365" stroke="#888" stroke-width="0.6"/>
<rect x="19.2" y="305.2" width="13.3" height="29.6" fill="#e6e6e6" stroke="#555" stroke-width="0.5"/>
<line x1="19.2" y1="307.8" x2="32.5" y2="307.8" stroke="#111" stroke-width="1.5"/>
<line x1="42.25" y1="277.6" x2="42.25" y2="294.9" stroke="#555" stroke-width="0.6" stroke-dasharray="1 0.8"/>
<line x1="39.02" y1="277.6" x2="45.48" y2="277.6" stroke="#888" stroke-width="0.6"/>
<line x1="42.25" y1="351" x2="42.25" y2="372.4" stroke="#555" stroke-width="0.6" stroke-dasharray="1 0.8"/>
<line x1="39.02" y1="372.4" x2="45.48" y2="372.4" stroke="#888" stroke-width="0.6"/>
<rect x="35.8" y="294.9" width="12.9" height="56.1" fill="#e6e6e6" stroke="#555" stroke-width="0.5"/>
<line x1="35.8" y1="318.2" x2="48.7" y2="318.2" stroke="#111" stroke-width="1.5"/>
<line x1="51.7" y1="289.4" x2="64.6" y2="289.4" stroke="#111" stroke-width="1.6"/>
<line x1="67.6" y1="262.4" x2="80.5" y2="262.4" stroke="#111" stroke-width="1.6"/>
<line x1="83" y1="333.7" x2="96.7" y2="333.7" stroke="#111" stroke-width="1.6"/>
<text x="25.9" y="380" font-size="4.9" font-weight="bold" text-anchor="middle" fill="#000" stroke="#000" stroke-width="0.079">29%</text>
<line x1="25.9" y1="381.6" x2="25.9" y2="384" stroke="#555" stroke-width="0.5"/>
<text x="25.9" y="392.4" font-size="4.9" font-weight="bold" text-anchor="middle" fill="#000" stroke="#000" stroke-width="0.079">0</text>
<text x="42.2" y="380" font-size="4.9" font-weight="bold" text-anchor="middle" fill="#000" stroke="#000" stroke-width="0.079">25%</text>
<line x1="42.2" y1="381.6" x2="42.2" y2="384" stroke="#555" stroke-width="0.5"/>
<text x="42.2" y="392.4" font-size="4.9" font-weight="bold" text-anchor="middle" fill="#000" stroke="#000" stroke-width="0.079">1</text>
<text x="58.1" y="380" font-size="4.9" font-weight="bold" text-anchor="middle" fill="#000" stroke="#000" stroke-width="0.079">100%</text>
<line x1="58.1" y1="381.6" x2="58.1" y2="384" stroke="#555" stroke-width="0.5"/>
<text x="58.1" y="392.4" font-size="4.9" font-weight="bold" text-anchor="middle" fill="#000" stroke="#000" stroke-width="0.079">2</text>
<text x="74" y="380" font-size="4.9" font-weight="bold" text-anchor="middle" fill="#000" stroke="#000" stroke-width="0.079">100%</text>
<line x1="74" y1="381.6" x2="74" y2="384" stroke="#555" stroke-width="0.5"/>
<text x="74" y="392.4" font-size="4.9" font-weight="bold" text-anchor="middle" fill="#000" stroke="#000" stroke-width="0.079">3</text>
<text x="89.9" y="380" font-size="4.9" font-weight="bold" text-anchor="middle" fill="#000" stroke="#000" stroke-width="0.079">0%</text>
<line x1="89.9" y1="381.6" x2="89.9" y2="384" stroke="#555" stroke-width="0.5"/>
<text x="89.9" y="392.4" font-size="4.9" font-weight="bold" text-anchor="middle" fill="#000" stroke="#000" stroke-width="0.079">4</text>
<text x="179.8" y="206.8" font-size="5.75" font-weight="bold" text-anchor="middle" fill="#000" stroke="#000" stroke-width="0.092">O-acyl-O-acyl (aa)</text>
<rect x="137.1" y="216" width="85.3" height="165.6" fill="none" stroke="#8a8a8a" stroke-width="0.8"/>
<line x1="134.6" y1="236.7" x2="137.1" y2="236.7" stroke="#555" stroke-width="0.5"/>
<text x="130.8" y="236.7" font-size="4.9" font-weight="bold" text-anchor="middle" fill="#000" stroke="#000" stroke-width="0.079" transform="rotate(-90 130.8 236.7)">2.5</text>
<line x1="134.6" y1="260.2" x2="137.1" y2="260.2" stroke="#555" stroke-width="0.5"/>
<text x="130.8" y="260.2" font-size="4.9" font-weight="bold" text-anchor="middle" fill="#000" stroke="#000" stroke-width="0.079" transform="rotate(-90 130.8 260.2)">2.0</text>
<line x1="134.6" y1="284" x2="137.1" y2="284" stroke="#555" stroke-width="0.5"/>
<text x="130.8" y="284" font-size="4.9" font-weight="bold" text-anchor="middle" fill="#000" stroke="#000" stroke-width="0.079" transform="rotate(-90 130.8 284)">1.5</text>
<line x1="134.6" y1="308.2" x2="137.1" y2="308.2" stroke="#555" stroke-width="0.5"/>
<text x="130.8" y="308.2" font-size="4.9" font-weight="bold" text-anchor="middle" fill="#000" stroke="#000" stroke-width="0.079" transform="rotate(-90 130.8 308.2)">1.0</text>
<line x1="134.6" y1="332.6" x2="137.1" y2="332.6" stroke="#555" stroke-width="0.5"/>
<text x="130.8" y="332.6" font-size="4.9" font-weight="bold" text-anchor="middle" fill="#000" stroke="#000" stroke-width="0.079" transform="rotate(-90 130.8 332.6)">0.5</text>
<line x1="134.6" y1="356.7" x2="137.1" y2="356.7" stroke="#555" stroke-width="0.5"/>
<text x="130.8" y="356.7" font-size="4.9" font-weight="bold" text-anchor="middle" fill="#000" stroke="#000" stroke-width="0.079" transform="rotate(-90 130.8 356.7)">0.0</text>
<line x1="134.6" y1="379.8" x2="137.1" y2="379.8" stroke="#555" stroke-width="0.5"/>
<text x="130.8" y="379.8" font-size="4.9" font-weight="bold" text-anchor="middle" fill="#000" stroke="#000" stroke-width="0.079" transform="rotate(-90 130.8 379.8)">-0.5</text>
<line x1="146" y1="286.7" x2="146" y2="300.2" stroke="#555" stroke-width="0.6" stroke-dasharray="1 0.8"/>
<line x1="143.8" y1="286.7" x2="148.2" y2="286.7" stroke="#888" stroke-width="0.6"/>
<line x1="146" y1="362.2" x2="146" y2="369.6" stroke="#555" stroke-width="0.6" stroke-dasharray="1 0.8"/>
<line x1="143.8" y1="369.6" x2="148.2" y2="369.6" stroke="#888" stroke-width="0.6"/>
<rect x="141.6" y="300.2" width="8.8" height="62" fill="#eeeeee" stroke="#555" stroke-width="0.5"/>
<line x1="141.6" y1="345.1" x2="150.4" y2="345.1" stroke="#111" stroke-width="1.5"/>
<line x1="157.5" y1="268.8" x2="157.5" y2="281.8" stroke="#555" stroke-width="0.6" stroke-dasharray="1 0.8"/>
<line x1="155.25" y1="268.8" x2="159.75" y2="268.8" stroke="#888" stroke-width="0.6"/>
<line x1="157.5" y1="324.7" x2="157.5" y2="343.1" stroke="#555" stroke-width="0.6" stroke-dasharray="1 0.8"/>
<line x1="155.25" y1="343.1" x2="159.75" y2="343.1" stroke="#888" stroke-width="0.6"/>
<rect x="153" y="281.8" width="9" height="42.9" fill="#e2e2e2" stroke="#555" stroke-width="0.5"/>
<line x1="153" y1="307.1" x2="162" y2="307.1" stroke="#111" stroke-width="1.5"/>
<line x1="168.65" y1="227.6" x2="168.65" y2="275.7" stroke="#555" stroke-width="0.6" stroke-dasharray="1 0.8"/>
<line x1="166.32" y1="227.6" x2="170.98" y2="227.6" stroke="#888" stroke-width="0.6"/>
<line x1="168.65" y1="310.4" x2="168.65" y2="318.6" stroke="#555" stroke-width="0.6" stroke-dasharray="1 0.8"/>
<line x1="166.32" y1="318.6" x2="170.98" y2="318.6" stroke="#888" stroke-width="0.6"/>
<rect x="164" y="275.7" width="9.3" height="34.7" fill="#c9c9c9" stroke="#555" stroke-width="0.5"/>
<line x1="164" y1="289.2" x2="173.3" y2="289.2" stroke="#111" stroke-width="1.5"/>
<line x1="179.9" y1="250.4" x2="179.9" y2="266.7" stroke="#555" stroke-width="0.6" stroke-dasharray="1 0.8"/>
<line x1="177.65" y1="250.4" x2="182.15" y2="250.4" stroke="#888" stroke-width="0.6"/>
<rect x="175.4" y="266.7" width="9" height="31.5" fill="#8f8f8f" stroke="#555" stroke-width="0.5"/>
<line x1="175.4" y1="270.4" x2="184.4" y2="270.4" stroke="#111" stroke-width="1.5"/>
<line x1="191.1" y1="242.2" x2="191.1" y2="288" stroke="#555" stroke-width="0.6" stroke-dasharray="1 0.8"/>
<line x1="188.8" y1="242.2" x2="193.4" y2="242.2" stroke="#888" stroke-width="0.6"/>
<line x1="191.1" y1="320.6" x2="191.1" y2="322.7" stroke="#555" stroke-width="0.6" stroke-dasharray="1 0.8"/>
<line x1="188.8" y1="322.7" x2="193.4" y2="322.7" stroke="#888" stroke-width="0.6"/>
<rect x="186.5" y="288" width="9.2" height="32.6" fill="#c2c2c2" stroke="#555" stroke-width="0.5"/>
<line x1="186.5" y1="301" x2="195.7" y2="301" stroke="#111" stroke-width="1.5"/>
<line x1="202.35" y1="266.7" x2="202.35" y2="276.5" stroke="#555" stroke-width="0.6" stroke-dasharray="1 0.8"/>
<line x1="200.08" y1="266.7" x2="204.63" y2="266.7" stroke="#888" stroke-width="0.6"/>
<line x1="202.35" y1="306.3" x2="202.35" y2="313.7" stroke="#555" stroke-width="0.6" stroke-dasharray="1 0.8"/>
<line x1="200.08" y1="313.7" x2="204.63" y2="313.7" stroke="#888" stroke-width="0.6"/>
<rect x="197.8" y="276.5" width="9.1" height="29.8" fill="#bbbbbb" stroke="#555" stroke-width="0.5"/>
<line x1="197.8" y1="292" x2="206.9" y2="292" stroke="#111" stroke-width="1.5"/>
<line x1="213.75" y1="248.4" x2="213.75" y2="271.6" stroke="#555" stroke-width="0.6" stroke-dasharray="1 0.8"/>
<line x1="211.47" y1="248.4" x2="216.03" y2="248.4" stroke="#888" stroke-width="0.6"/>
<line x1="213.75" y1="331.6" x2="213.75" y2="334" stroke="#555" stroke-width="0.6" stroke-dasharray="1 0.8"/>
<line x1="211.47" y1="334" x2="216.03" y2="334" stroke="#888" stroke-width="0.6"/>
<rect x="209.2" y="271.6" width="9.1" height="60" fill="#d4d4d4" stroke="#555" stroke-width="0.5"/>
<line x1="209.2" y1="311.2" x2="218.3" y2="311.2" stroke="#111" stroke-width="1.5"/>
<text x="146" y="380" font-size="4.9" font-weight="bold" text-anchor="middle" fill="#000" stroke="#000" stroke-width="0.079">29%</text>
<line x1="146" y1="381.6" x2="146" y2="384" stroke="#555" stroke-width="0.5"/>
<text x="146" y="392.4" font-size="4.9" font-weight="bold" text-anchor="middle" fill="#000" stroke="#000" stroke-width="0.079">0</text>
<text x="157.5" y="380" font-size="4.9" font-weight="bold" text-anchor="middle" fill="#000" stroke="#000" stroke-width="0.079">43%</text>
<line x1="157.5" y1="381.6" x2="157.5" y2="384" stroke="#555" stroke-width="0.5"/>
<text x="157.5" y="392.4" font-size="4.9" font-weight="bold" text-anchor="middle" fill="#000" stroke="#000" stroke-width="0.079">1</text>
<text x="168.65" y="380" font-size="4.9" font-weight="bold" text-anchor="middle" fill="#000" stroke="#000" stroke-width="0.079">60%</text>
<line x1="168.65" y1="381.6" x2="168.65" y2="384" stroke="#555" stroke-width="0.5"/>
<text x="168.65" y="392.4" font-size="4.9" font-weight="bold" text-anchor="middle" fill="#000" stroke="#000" stroke-width="0.079">2</text>
<text x="179.9" y="380" font-size="4.9" font-weight="bold" text-anchor="middle" fill="#000" stroke="#000" stroke-width="0.079">80%</text>
<line x1="179.9" y1="381.6" x2="179.9" y2="384" stroke="#555" stroke-width="0.5"/>
<text x="179.9" y="392.4" font-size="4.9" font-weight="bold" text-anchor="middle" fill="#000" stroke="#000" stroke-width="0.079">3</text>
<text x="191.1" y="380" font-size="4.9" font-weight="bold" text-anchor="middle" fill="#000" stroke="#000" stroke-width="0.079">60%</text>
<line x1="191.1" y1="381.6" x2="191.1" y2="384" stroke="#555" stroke-width="0.5"/>
<text x="191.1" y="392.4" font-size="4.9" font-weight="bold" text-anchor="middle" fill="#000" stroke="#000" stroke-width="0.079">4</text>
<text x="202.35" y="380" font-size="4.9" font-weight="bold" text-anchor="middle" fill="#000" stroke="#000" stroke-width="0.079">75%</text>
<line x1="202.35" y1="381.6" x2="202.35" y2="384" stroke="#555" stroke-width="0.5"/>
<text x="202.35" y="392.4" font-size="4.9" font-weight="bold" text-anchor="middle" fill="#000" stroke="#000" stroke-width="0.079">5</text>
<text x="213.75" y="380" font-size="4.9" font-weight="bold" text-anchor="middle" fill="#000" stroke="#000" stroke-width="0.079">50%</text>
<line x1="213.75" y1="381.6" x2="213.75" y2="384" stroke="#555" stroke-width="0.5"/>
<text x="213.75" y="392.4" font-size="4.9" font-weight="bold" text-anchor="middle" fill="#000" stroke="#000" stroke-width="0.079">6</text>
<text x="301.3" y="206.8" font-size="5.75" font-weight="bold" text-anchor="middle" fill="#000" stroke="#000" stroke-width="0.092">O-alkyl-O-acyl (ae)</text>
<rect x="258.5" y="216" width="85.7" height="165.6" fill="none" stroke="#8a8a8a" stroke-width="0.8"/>
<line x1="256" y1="236.7" x2="258.5" y2="236.7" stroke="#555" stroke-width="0.5"/>
<text x="252.2" y="236.7" font-size="4.9" font-weight="bold" text-anchor="middle" fill="#000" stroke="#000" stroke-width="0.079" transform="rotate(-90 252.2 236.7)">2.5</text>
<line x1="256" y1="260.2" x2="258.5" y2="260.2" stroke="#555" stroke-width="0.5"/>
<text x="252.2" y="260.2" font-size="4.9" font-weight="bold" text-anchor="middle" fill="#000" stroke="#000" stroke-width="0.079" transform="rotate(-90 252.2 260.2)">2.0</text>
<line x1="256" y1="284" x2="258.5" y2="284" stroke="#555" stroke-width="0.5"/>
<text x="252.2" y="284" font-size="4.9" font-weight="bold" text-anchor="middle" fill="#000" stroke="#000" stroke-width="0.079" transform="rotate(-90 252.2 284)">1.5</text>
<line x1="256" y1="308.2" x2="258.5" y2="308.2" stroke="#555" stroke-width="0.5"/>
<text x="252.2" y="308.2" font-size="4.9" font-weight="bold" text-anchor="middle" fill="#000" stroke="#000" stroke-width="0.079" transform="rotate(-90 252.2 308.2)">1.0</text>
<line x1="256" y1="332.6" x2="258.5" y2="332.6" stroke="#555" stroke-width="0.5"/>
<text x="252.2" y="332.6" font-size="4.9" font-weight="bold" text-anchor="middle" fill="#000" stroke="#000" stroke-width="0.079" transform="rotate(-90 252.2 332.6)">0.5</text>
<line x1="256" y1="356.7" x2="258.5" y2="356.7" stroke="#555" stroke-width="0.5"/>
<text x="252.2" y="356.7" font-size="4.9" font-weight="bold" text-anchor="middle" fill="#000" stroke="#000" stroke-width="0.079" transform="rotate(-90 252.2 356.7)">0.0</text>
<line x1="256" y1="379.8" x2="258.5" y2="379.8" stroke="#555" stroke-width="0.5"/>
<text x="252.2" y="379.8" font-size="4.9" font-weight="bold" text-anchor="middle" fill="#000" stroke="#000" stroke-width="0.079" transform="rotate(-90 252.2 379.8)">-0.5</text>
<line x1="267.3" y1="269.6" x2="267.3" y2="296.1" stroke="#555" stroke-width="0.6" stroke-dasharray="1 0.8"/>
<line x1="264.95" y1="269.6" x2="269.65" y2="269.6" stroke="#888" stroke-width="0.6"/>
<line x1="267.3" y1="341" x2="267.3" y2="343" stroke="#555" stroke-width="0.6" stroke-dasharray="1 0.8"/>
<line x1="264.95" y1="343" x2="269.65" y2="343" stroke="#888" stroke-width="0.6"/>
<rect x="262.6" y="296.1" width="9.4" height="44.9" fill="#cacaca" stroke="#555" stroke-width="0.5"/>
<line x1="262.6" y1="333.7" x2="272" y2="333.7" stroke="#111" stroke-width="1.5"/>
<line x1="278.7" y1="274.9" x2="278.7" y2="308.4" stroke="#555" stroke-width="0.6" stroke-dasharray="1 0.8"/>
<line x1="276.35" y1="274.9" x2="281.05" y2="274.9" stroke="#888" stroke-width="0.6"/>
<line x1="278.7" y1="330.8" x2="278.7" y2="359.4" stroke="#555" stroke-width="0.6" stroke-dasharray="1 0.8"/>
<line x1="276.35" y1="359.4" x2="281.05" y2="359.4" stroke="#888" stroke-width="0.6"/>
<rect x="274" y="308.4" width="9.4" height="22.4" fill="#f0f0f0" stroke="#555" stroke-width="0.5"/>
<line x1="274" y1="319.8" x2="283.4" y2="319.8" stroke="#111" stroke-width="1.5"/>
<line x1="289.7" y1="268.4" x2="289.7" y2="280.6" stroke="#555" stroke-width="0.6" stroke-dasharray="1 0.8"/>
<line x1="287.35" y1="268.4" x2="292.05" y2="268.4" stroke="#888" stroke-width="0.6"/>
<line x1="289.7" y1="319.8" x2="289.7" y2="326.7" stroke="#555" stroke-width="0.6" stroke-dasharray="1 0.8"/>
<line x1="287.35" y1="326.7" x2="292.05" y2="326.7" stroke="#888" stroke-width="0.6"/>
<rect x="285" y="280.6" width="9.4" height="39.2" fill="#cacaca" stroke="#555" stroke-width="0.5"/>
<line x1="285" y1="303.5" x2="294.4" y2="303.5" stroke="#111" stroke-width="1.5"/>
<line x1="300.9" y1="256.1" x2="300.9" y2="273.7" stroke="#555" stroke-width="0.6" stroke-dasharray="1 0.8"/>
<line x1="298.65" y1="256.1" x2="303.15" y2="256.1" stroke="#888" stroke-width="0.6"/>
<line x1="300.9" y1="304.3" x2="300.9" y2="309.6" stroke="#555" stroke-width="0.6" stroke-dasharray="1 0.8"/>
<line x1="298.65" y1="309.6" x2="303.15" y2="309.6" stroke="#888" stroke-width="0.6"/>
<rect x="296.4" y="273.7" width="9" height="30.6" fill="#8f8f8f" stroke="#555" stroke-width="0.5"/>
<line x1="296.4" y1="285.9" x2="305.4" y2="285.9" stroke="#111" stroke-width="1.5"/>
<line x1="312.35" y1="317.3" x2="312.35" y2="326.7" stroke="#555" stroke-width="0.6" stroke-dasharray="1 0.8"/>
<line x1="310.12" y1="326.7" x2="314.58" y2="326.7" stroke="#888" stroke-width="0.6"/>
<rect x="307.9" y="305.1" width="8.9" height="12.2" fill="#e2e2e2" stroke="#555" stroke-width="0.5"/>
<line x1="307.9" y1="311.6" x2="316.8" y2="311.6" stroke="#111" stroke-width="1.5"/>
<line x1="323.6" y1="292" x2="323.6" y2="303.5" stroke="#555" stroke-width="0.6" stroke-dasharray="1 0.8"/>
<line x1="321.25" y1="292" x2="325.95" y2="292" stroke="#888" stroke-width="0.6"/>
<line x1="323.6" y1="325.9" x2="323.6" y2="332" stroke="#555" stroke-width="0.6" stroke-dasharray="1 0.8"/>
<line x1="321.25" y1="332" x2="325.95" y2="332" stroke="#888" stroke-width="0.6"/>
<rect x="318.9" y="303.5" width="9.4" height="22.4" fill="#e2e2e2" stroke="#555" stroke-width="0.5"/>
<line x1="318.9" y1="321.8" x2="328.3" y2="321.8" stroke="#111" stroke-width="1.5"/>
<line x1="335.4" y1="278.6" x2="335.4" y2="300.2" stroke="#555" stroke-width="0.6" stroke-dasharray="1 0.8"/>
<line x1="333.05" y1="278.6" x2="337.75" y2="278.6" stroke="#888" stroke-width="0.6"/>
<line x1="335.4" y1="330" x2="335.4" y2="337.8" stroke="#555" stroke-width="0.6" stroke-dasharray="1 0.8"/>
<line x1="333.05" y1="337.8" x2="337.75" y2="337.8" stroke="#888" stroke-width="0.6"/>
<rect x="330.7" y="300.2" width="9.4" height="29.8" fill="#f0f0f0" stroke="#555" stroke-width="0.5"/>
<line x1="330.7" y1="321.8" x2="340.1" y2="321.8" stroke="#111" stroke-width="1.5"/>
<circle cx="312.35" cy="269.6" r="0.9" fill="none" stroke="#555" stroke-width="0.4"/>
<text x="267.3" y="380" font-size="4.9" font-weight="bold" text-anchor="middle" fill="#000" stroke="#000" stroke-width="0.079">40%</text>
<line x1="267.3" y1="381.6" x2="267.3" y2="384" stroke="#555" stroke-width="0.5"/>
<text x="267.3" y="392.4" font-size="4.9" font-weight="bold" text-anchor="middle" fill="#000" stroke="#000" stroke-width="0.079">0</text>
<text x="278.7" y="380" font-size="4.9" font-weight="bold" text-anchor="middle" fill="#000" stroke="#000" stroke-width="0.079">29%</text>
<line x1="278.7" y1="381.6" x2="278.7" y2="384" stroke="#555" stroke-width="0.5"/>
<text x="278.7" y="392.4" font-size="4.9" font-weight="bold" text-anchor="middle" fill="#000" stroke="#000" stroke-width="0.079">1</text>
<text x="289.7" y="380" font-size="4.9" font-weight="bold" text-anchor="middle" fill="#000" stroke="#000" stroke-width="0.079">57%</text>
<line x1="289.7" y1="381.6" x2="289.7" y2="384" stroke="#555" stroke-width="0.5"/>
<text x="289.7" y="392.4" font-size="4.9" font-weight="bold" text-anchor="middle" fill="#000" stroke="#000" stroke-width="0.079">2</text>
<text x="300.9" y="380" font-size="4.9" font-weight="bold" text-anchor="middle" fill="#000" stroke="#000" stroke-width="0.079">83%</text>
<line x1="300.9" y1="381.6" x2="300.9" y2="384" stroke="#555" stroke-width="0.5"/>
<text x="300.9" y="392.4" font-size="4.9" font-weight="bold" text-anchor="middle" fill="#000" stroke="#000" stroke-width="0.079">3</text>
<text x="312.35" y="380" font-size="4.9" font-weight="bold" text-anchor="middle" fill="#000" stroke="#000" stroke-width="0.079">40%</text>
<line x1="312.35" y1="381.6" x2="312.35" y2="384" stroke="#555" stroke-width="0.5"/>
<text x="312.35" y="392.4" font-size="4.9" font-weight="bold" text-anchor="middle" fill="#000" stroke="#000" stroke-width="0.079">4</text>
<text x="323.6" y="380" font-size="4.9" font-weight="bold" text-anchor="middle" fill="#000" stroke="#000" stroke-width="0.079">40%</text>
<line x1="323.6" y1="381.6" x2="323.6" y2="384" stroke="#555" stroke-width="0.5"/>
<text x="323.6" y="392.4" font-size="4.9" font-weight="bold" text-anchor="middle" fill="#000" stroke="#000" stroke-width="0.079">5</text>
<text x="335.4" y="380" font-size="4.9" font-weight="bold" text-anchor="middle" fill="#000" stroke="#000" stroke-width="0.079">33%</text>
<line x1="335.4" y1="381.6" x2="335.4" y2="384" stroke="#555" stroke-width="0.5"/>
<text x="335.4" y="392.4" font-size="4.9" font-weight="bold" text-anchor="middle" fill="#000" stroke="#000" stroke-width="0.079">6</text>
<rect x="13.4" y="441.4" width="7.4" height="14" fill="#7accc6" stroke="#2f7f7a" stroke-width="0.45"/>
<rect x="20.8" y="441.4" width="9.1" height="14" fill="#7accc6" stroke="#2f7f7a" stroke-width="0.45"/>
<rect x="29.9" y="427.2" width="8.6" height="28.2" fill="#7accc6" stroke="#2f7f7a" stroke-width="0.45"/>
<rect x="38.5" y="427.2" width="8.5" height="28.2" fill="#7accc6" stroke="#2f7f7a" stroke-width="0.45"/>
<rect x="47" y="441.4" width="8.6" height="14" fill="#7accc6" stroke="#2f7f7a" stroke-width="0.45"/>
<rect x="13.4" y="412.6" width="42.7" height="42.8" fill="none" stroke="#b0b0b0" stroke-width="1.0"/>
<text x="34.75" y="422.7" font-size="7.2" text-anchor="middle" fill="#000" stroke="#000" stroke-width="0.257">OS</text>
<rect x="60.7" y="412.6" width="42.3" height="42.8" fill="none" stroke="#b0b0b0" stroke-width="1.0"/>
<text x="81.85" y="437.7" font-size="10.2" text-anchor="middle" fill="#000" stroke="#000" stroke-width="0.364">-0.63</text>
<line x1="73.3" y1="412.6" x2="73.3" y2="410.8" stroke="#777" stroke-width="0.4"/>
<text x="73.3" y="408.6" font-size="3.8" font-weight="bold" text-anchor="middle" fill="#333" stroke="#333" stroke-width="0.061">16</text>
<line x1="84.3" y1="412.6" x2="84.3" y2="410.8" stroke="#777" stroke-width="0.4"/>
<text x="84.3" y="408.6" font-size="3.8" font-weight="bold" text-anchor="middle" fill="#333" stroke="#333" stroke-width="0.061">20</text>
<line x1="95.7" y1="412.6" x2="95.7" y2="410.8" stroke="#777" stroke-width="0.4"/>
<text x="95.7" y="408.6" font-size="3.8" font-weight="bold" text-anchor="middle" fill="#333" stroke="#333" stroke-width="0.061">26</text>
<line x1="103" y1="412.7" x2="104.8" y2="412.7" stroke="#777" stroke-width="0.4"/>
<text x="109" y="412.7" font-size="3.8" font-weight="bold" text-anchor="middle" fill="#333" stroke="#333" stroke-width="0.061" transform="rotate(-90 109 412.7)">2.0</text>
<line x1="103" y1="421.5" x2="104.8" y2="421.5" stroke="#777" stroke-width="0.4"/>
<text x="109" y="421.5" font-size="3.8" font-weight="bold" text-anchor="middle" fill="#333" stroke="#333" stroke-width="0.061" transform="rotate(-90 109 421.5)">1.5</text>
<line x1="103" y1="429.7" x2="104.8" y2="429.7" stroke="#777" stroke-width="0.4"/>
<text x="109" y="429.7" font-size="3.8" font-weight="bold" text-anchor="middle" fill="#333" stroke="#333" stroke-width="0.061" transform="rotate(-90 109 429.7)">1.0</text>
<line x1="103" y1="438.6" x2="104.8" y2="438.6" stroke="#777" stroke-width="0.4"/>
<text x="109" y="438.6" font-size="3.8" font-weight="bold" text-anchor="middle" fill="#333" stroke="#333" stroke-width="0.061" transform="rotate(-90 109 438.6)">0.5</text>
<line x1="103" y1="453.7" x2="104.8" y2="453.7" stroke="#777" stroke-width="0.4"/>
<text x="109" y="453.7" font-size="3.8" font-weight="bold" text-anchor="middle" fill="#333" stroke="#333" stroke-width="0.061" transform="rotate(-90 109 453.7)">-0.5</text>
<rect x="13.4" y="460.2" width="42.7" height="42.2" fill="none" stroke="#b0b0b0" stroke-width="1.0"/>
<path d="M15.1,464.3 C 25,471 35,478 42,484.5 C 47,489 51,492.5 54.8,496" stroke="#444" stroke-width="0.9" fill="none"/>
<circle cx="29.7" cy="483.9" r="0.7" fill="none" stroke="#888" stroke-width="0.4"/>
<circle cx="54.2" cy="483.9" r="0.8" fill="#333" stroke="#333" stroke-width="0.4"/>
<circle cx="44.3" cy="489.4" r="0.6" fill="none" stroke="#666" stroke-width="0.4"/>
<line x1="13.7" y1="502.4" x2="13.7" y2="504.2" stroke="#777" stroke-width="0.4"/>
<text x="13.7" y="510.6" font-size="4.3" font-weight="bold" text-anchor="middle" fill="#000" stroke="#000" stroke-width="0.069">-0.5</text>
<line x1="30" y1="502.4" x2="30" y2="504.2" stroke="#777" stroke-width="0.4"/>
<text x="30" y="510.6" font-size="4.3" font-weight="bold" text-anchor="middle" fill="#000" stroke="#000" stroke-width="0.069">0.5</text>
<line x1="37.5" y1="502.4" x2="37.5" y2="504.2" stroke="#777" stroke-width="0.4"/>
<text x="37.5" y="510.6" font-size="4.3" font-weight="bold" text-anchor="middle" fill="#000" stroke="#000" stroke-width="0.069">1.0</text>
<line x1="46.4" y1="502.4" x2="46.4" y2="504.2" stroke="#777" stroke-width="0.4"/>
<text x="46.4" y="510.6" font-size="4.3" font-weight="bold" text-anchor="middle" fill="#000" stroke="#000" stroke-width="0.069">1.5</text>
<line x1="54.5" y1="502.4" x2="54.5" y2="504.2" stroke="#777" stroke-width="0.4"/>
<text x="54.5" y="510.6" font-size="4.3" font-weight="bold" text-anchor="middle" fill="#000" stroke="#000" stroke-width="0.069">2.0</text>
<line x1="13.4" y1="467.8" x2="11.6" y2="467.8" stroke="#777" stroke-width="0.4"/>
<text x="7.6" y="467.8" font-size="4.0" font-weight="bold" text-anchor="middle" fill="#000" stroke="#000" stroke-width="0.064" transform="rotate(-90 7.6 467.8)">26</text>
<line x1="13.4" y1="478.3" x2="11.6" y2="478.3" stroke="#777" stroke-width="0.4"/>
<text x="7.6" y="478.3" font-size="4.0" font-weight="bold" text-anchor="middle" fill="#000" stroke="#000" stroke-width="0.064" transform="rotate(-90 7.6 478.3)">22</text>
<line x1="13.4" y1="489.4" x2="11.6" y2="489.4" stroke="#777" stroke-width="0.4"/>
<text x="7.6" y="489.4" font-size="4.0" font-weight="bold" text-anchor="middle" fill="#000" stroke="#000" stroke-width="0.064" transform="rotate(-90 7.6 489.4)">18</text>
<line x1="13.4" y1="501" x2="11.6" y2="501" stroke="#777" stroke-width="0.4"/>
<text x="7.6" y="501" font-size="4.0" font-weight="bold" text-anchor="middle" fill="#000" stroke="#000" stroke-width="0.064" transform="rotate(-90 7.6 501)">14</text>
<rect x="61.5" y="481" width="5.9" height="21.4" fill="#7accc6" stroke="#2f7f7a" stroke-width="0.45"/>
<rect x="67.4" y="474.1" width="5.7" height="28.3" fill="#7accc6" stroke="#2f7f7a" stroke-width="0.45"/>
<rect x="73.1" y="488.2" width="5.7" height="14.2" fill="#7accc6" stroke="#2f7f7a" stroke-width="0.45"/>
<rect x="84.2" y="495.4" width="6.1" height="7" fill="#7accc6" stroke="#2f7f7a" stroke-width="0.45"/>
<rect x="90.3" y="488.2" width="5.3" height="14.2" fill="#7accc6" stroke="#2f7f7a" stroke-width="0.45"/>
<rect x="95.6" y="488.2" width="5.7" height="14.2" fill="#7accc6" stroke="#2f7f7a" stroke-width="0.45"/>
<rect x="60.7" y="460.2" width="42.3" height="42.2" fill="none" stroke="#b0b0b0" stroke-width="1.0"/>
<text x="81.85" y="468.8" font-size="6.6" text-anchor="middle" fill="#000" stroke="#000" stroke-width="0.236">Length</text>
<rect x="53.4" y="399.5" width="9.3" height="47.5" fill="#fff" stroke="#777" stroke-width="0.5"/>
<text x="58.05" y="404" font-size="2.6" font-weight="bold" text-anchor="middle" fill="#555" stroke="#555" stroke-width="0.042">Score</text>
<circle cx="56" cy="409" r="0.4" fill="none" stroke="#777" stroke-width="0.35"/>
<text x="60" y="410" font-size="2.8" font-weight="bold" text-anchor="middle" fill="#666" stroke="#666" stroke-width="0.045">0</text>
<circle cx="56" cy="413.77" r="0.4" fill="none" stroke="#777" stroke-width="0.35"/>
<text x="60" y="414.77" font-size="2.8" font-weight="bold" text-anchor="middle" fill="#666" stroke="#666" stroke-width="0.045">1</text>
<circle cx="56" cy="418.54" r="0.4" fill="none" stroke="#777" stroke-width="0.35"/>
<text x="60" y="419.54" font-size="2.8" font-weight="bold" text-anchor="middle" fill="#666" stroke="#666" stroke-width="0.045">2</text>
<circle cx="56" cy="423.31" r="0.6" fill="#333" stroke="#777" stroke-width="0.35"/>
<text x="60" y="424.31" font-size="2.8" font-weight="bold" text-anchor="middle" fill="#666" stroke="#666" stroke-width="0.045">3</text>
<circle cx="56" cy="428.08" r="0.4" fill="none" stroke="#777" stroke-width="0.35"/>
<text x="60" y="429.08" font-size="2.8" font-weight="bold" text-anchor="middle" fill="#666" stroke="#666" stroke-width="0.045">4</text>
<circle cx="56" cy="432.85" r="0.4" fill="none" stroke="#777" stroke-width="0.35"/>
<text x="60" y="433.85" font-size="2.8" font-weight="bold" text-anchor="middle" fill="#666" stroke="#666" stroke-width="0.045">5</text>
<circle cx="56" cy="437.62" r="0.4" fill="none" stroke="#777" stroke-width="0.35"/>
<text x="60" y="438.62" font-size="2.8" font-weight="bold" text-anchor="middle" fill="#666" stroke="#666" stroke-width="0.045">6</text>
<circle cx="56" cy="442.39" r="0.6" fill="#333" stroke="#777" stroke-width="0.35"/>
<text x="60" y="443.39" font-size="2.8" font-weight="bold" text-anchor="middle" fill="#666" stroke="#666" stroke-width="0.045">7</text>
<circle cx="94.4" cy="421.5" r="0.8" fill="#d44" stroke="#c33" stroke-width="0.3"/>
<rect x="135.7" y="448.1" width="5.8" height="7.3" fill="#7accc6" stroke="#2f7f7a" stroke-width="0.45"/>
<rect x="141.5" y="448.1" width="6.3" height="7.3" fill="#7accc6" stroke="#2f7f7a" stroke-width="0.45"/>
<rect x="147.8" y="434.2" width="6.3" height="21.2" fill="#7accc6" stroke="#2f7f7a" stroke-width="0.45"/>
<rect x="154.1" y="427.2" width="6.9" height="28.2" fill="#7accc6" stroke="#2f7f7a" stroke-width="0.45"/>
<rect x="161" y="441.1" width="6.3" height="14.3" fill="#7accc6" stroke="#2f7f7a" stroke-width="0.45"/>
<rect x="167.3" y="448.1" width="6.3" height="7.3" fill="#7accc6" stroke="#2f7f7a" stroke-width="0.45"/>
<rect x="173.6" y="452.7" width="4.5" height="2.7" fill="#7accc6" stroke="#2f7f7a" stroke-width="0.45"/>
<rect x="135.7" y="412.6" width="42.4" height="42.8" fill="none" stroke="#b0b0b0" stroke-width="1.0"/>
<text x="156.9" y="422.7" font-size="7.2" text-anchor="middle" fill="#000" stroke="#000" stroke-width="0.257">OS</text>
<rect x="182.5" y="412.6" width="42.4" height="42.8" fill="none" stroke="#b0b0b0" stroke-width="1.0"/>
<text x="203.7" y="435.2" font-size="2.6" text-anchor="middle" fill="#555" stroke="#555" stroke-width="0.093">0.18</text>
<line x1="193.1" y1="412.6" x2="193.1" y2="410.8" stroke="#777" stroke-width="0.4"/>
<text x="193.1" y="408.6" font-size="3.8" font-weight="bold" text-anchor="middle" fill="#333" stroke="#333" stroke-width="0.061">10</text>
<line x1="201.6" y1="412.6" x2="201.6" y2="410.8" stroke="#777" stroke-width="0.4"/>
<text x="201.6" y="408.6" font-size="3.8" font-weight="bold" text-anchor="middle" fill="#333" stroke="#333" stroke-width="0.061">15</text>
<line x1="210.1" y1="412.6" x2="210.1" y2="410.8" stroke="#777" stroke-width="0.4"/>
<text x="210.1" y="408.6" font-size="3.8" font-weight="bold" text-anchor="middle" fill="#333" stroke="#333" stroke-width="0.061">18</text>
<line x1="219.1" y1="412.6" x2="219.1" y2="410.8" stroke="#777" stroke-width="0.4"/>
<text x="219.1" y="408.6" font-size="3.8" font-weight="bold" text-anchor="middle" fill="#333" stroke="#333" stroke-width="0.061">20</text>
<line x1="224.9" y1="423.9" x2="226.7" y2="423.9" stroke="#777" stroke-width="0.4"/>
<text x="230.9" y="423.9" font-size="3.8" font-weight="bold" text-anchor="middle" fill="#333" stroke="#333" stroke-width="0.061" transform="rotate(-90 230.9 423.9)">2.0</text>
<line x1="224.9" y1="436" x2="226.7" y2="436" stroke="#777" stroke-width="0.4"/>
<text x="230.9" y="436" font-size="3.8" font-weight="bold" text-anchor="middle" fill="#333" stroke="#333" stroke-width="0.061" transform="rotate(-90 230.9 436)">1.5</text>
<line x1="224.9" y1="450.2" x2="226.7" y2="450.2" stroke="#777" stroke-width="0.4"/>
<text x="230.9" y="450.2" font-size="3.8" font-weight="bold" text-anchor="middle" fill="#333" stroke="#333" stroke-width="0.061" transform="rotate(-90 230.9 450.2)">0.5</text>
<rect x="135.7" y="460.2" width="42.4" height="42.2" fill="none" stroke="#b0b0b0" stroke-width="1.0"/>
<circle cx="151.2" cy="460.8" r="0.75" fill="none" stroke="#d88" stroke-width="0.45"/>
<circle cx="158.8" cy="460.8" r="0.75" fill="#a33" stroke="#a33" stroke-width="0.45"/>
<circle cx="145.4" cy="465.7" r="0.75" fill="none" stroke="#aaa" stroke-width="0.45"/>
<circle cx="148.9" cy="465.7" r="0.75" fill="none" stroke="#bbb" stroke-width="0.45"/>
<circle cx="151.8" cy="465.7" r="0.75" fill="none" stroke="#bbb" stroke-width="0.45"/>
<circle cx="157" cy="465.7" r="0.75" fill="#222" stroke="#222" stroke-width="0.45"/>
<circle cx="160" cy="465.7" r="0.75" fill="none" stroke="#d77" stroke-width="0.45"/>
<circle cx="147.1" cy="470.1" r="0.75" fill="none" stroke="#999" stroke-width="0.45"/>
<circle cx="155.9" cy="470.1" r="0.75" fill="none" stroke="#999" stroke-width="0.45"/>
<circle cx="160.5" cy="470.1" r="0.75" fill="none" stroke="#d88" stroke-width="0.45"/>
<circle cx="170.4" cy="470.1" r="0.75" fill="#222" stroke="#222" stroke-width="0.45"/>
<circle cx="136.1" cy="474.2" r="0.75" fill="none" stroke="#999" stroke-width="0.45"/>
<circle cx="150.6" cy="474.2" r="0.75" fill="none" stroke="#bbb" stroke-width="0.45"/>
<circle cx="153.5" cy="474.2" r="0.75" fill="none" stroke="#bbb" stroke-width="0.45"/>
<circle cx="165.8" cy="474.2" r="0.75" fill="#111" stroke="#111" stroke-width="0.45"/>
<circle cx="171.6" cy="474.2" r="0.75" fill="none" stroke="#999" stroke-width="0.45"/>
<circle cx="176.3" cy="474.2" r="0.75" fill="none" stroke="#d99" stroke-width="0.45"/>
<circle cx="150" cy="478.9" r="0.75" fill="none" stroke="#e99" stroke-width="0.45"/>
<circle cx="154.1" cy="478.9" r="0.75" fill="none" stroke="#bbb" stroke-width="0.45"/>
<circle cx="164.6" cy="478.9" r="0.75" fill="#222" stroke="#222" stroke-width="0.45"/>
<circle cx="172.8" cy="478.9" r="0.75" fill="none" stroke="#a44" stroke-width="0.45"/>
<circle cx="151.8" cy="483" r="0.75" fill="none" stroke="#888" stroke-width="0.45"/>
<circle cx="160" cy="483" r="0.75" fill="none" stroke="#ccc" stroke-width="0.45"/>
<circle cx="176.8" cy="483" r="0.75" fill="none" stroke="#999" stroke-width="0.45"/>
<circle cx="165.8" cy="492" r="1.2" fill="none" stroke="#ddd" stroke-width="0.6"/>
<line x1="135.7" y1="473.8" x2="178.1" y2="472.6" stroke="#d66" stroke-width="0.5" stroke-dasharray="1.2 0.8"/>
<path d="M135.7,474 C 142,472 150,470.5 157,470.6 C 163,471 170,476.5 178.1,480.5" stroke="#555" stroke-width="0.8" fill="none"/>
<line x1="140.6" y1="502.4" x2="140.6" y2="504.2" stroke="#777" stroke-width="0.4"/>
<text x="140.6" y="510.6" font-size="4.3" font-weight="bold" text-anchor="middle" fill="#000" stroke="#000" stroke-width="0.069">0.5</text>
<line x1="154" y1="502.4" x2="154" y2="504.2" stroke="#777" stroke-width="0.4"/>
<text x="154" y="510.6" font-size="4.3" font-weight="bold" text-anchor="middle" fill="#000" stroke="#000" stroke-width="0.069">1.0</text>
<line x1="167.5" y1="502.4" x2="167.5" y2="504.2" stroke="#777" stroke-width="0.4"/>
<text x="167.5" y="510.6" font-size="4.3" font-weight="bold" text-anchor="middle" fill="#000" stroke="#000" stroke-width="0.069">2.0</text>
<line x1="135.7" y1="466.1" x2="133.9" y2="466.1" stroke="#777" stroke-width="0.4"/>
<text x="129.9" y="466.1" font-size="4.0" font-weight="bold" text-anchor="middle" fill="#000" stroke="#000" stroke-width="0.064" transform="rotate(-90 129.9 466.1)">20</text>
<line x1="135.7" y1="474.8" x2="133.9" y2="474.8" stroke="#777" stroke-width="0.4"/>
<text x="129.9" y="474.8" font-size="4.0" font-weight="bold" text-anchor="middle" fill="#000" stroke="#000" stroke-width="0.064" transform="rotate(-90 129.9 474.8)">18</text>
<line x1="135.7" y1="483.5" x2="133.9" y2="483.5" stroke="#777" stroke-width="0.4"/>
<text x="129.9" y="483.5" font-size="4.0" font-weight="bold" text-anchor="middle" fill="#000" stroke="#000" stroke-width="0.064" transform="rotate(-90 129.9 483.5)">16</text>
<line x1="135.7" y1="492.3" x2="133.9" y2="492.3" stroke="#777" stroke-width="0.4"/>
<text x="129.9" y="492.3" font-size="4.0" font-weight="bold" text-anchor="middle" fill="#000" stroke="#000" stroke-width="0.064" transform="rotate(-90 129.9 492.3)">14</text>
<line x1="135.7" y1="501" x2="133.9" y2="501" stroke="#777" stroke-width="0.4"/>
<text x="129.9" y="501" font-size="4.0" font-weight="bold" text-anchor="middle" fill="#000" stroke="#000" stroke-width="0.064" transform="rotate(-90 129.9 501)">12</text>
<rect x="183.8" y="494.4" width="4.9" height="8" fill="#7accc6" stroke="#2f7f7a" stroke-width="0.45"/>
<rect x="188.7" y="498.3" width="4.4" height="4.1" fill="#7accc6" stroke="#2f7f7a" stroke-width="0.45"/>
<rect x="193.1" y="498.3" width="4.2" height="4.1" fill="#7accc6" stroke="#2f7f7a" stroke-width="0.45"/>
<rect x="197.3" y="486.2" width="4.2" height="16.2" fill="#7accc6" stroke="#2f7f7a" stroke-width="0.45"/>
<rect x="201.5" y="486.2" width="4.8" height="16.2" fill="#7accc6" stroke="#2f7f7a" stroke-width="0.45"/>
<rect x="206.3" y="474.2" width="4.5" height="28.2" fill="#7accc6" stroke="#2f7f7a" stroke-width="0.45"/>
<rect x="210.8" y="478.5" width="4.4" height="23.9" fill="#7accc6" stroke="#2f7f7a" stroke-width="0.45"/>
<rect x="215.2" y="478.5" width="4.2" height="23.9" fill="#7accc6" stroke="#2f7f7a" stroke-width="0.45"/>
<rect x="219.4" y="478.5" width="4.4" height="23.9" fill="#7accc6" stroke="#2f7f7a" stroke-width="0.45"/>
<rect x="182.5" y="460.2" width="42.4" height="42.2" fill="none" stroke="#b0b0b0" stroke-width="1.0"/>
<text x="204.6" y="468.8" font-size="6.6" text-anchor="middle" fill="#000" stroke="#000" stroke-width="0.236">Length</text>
<rect x="175.7" y="399.5" width="9.6" height="47.5" fill="#fff" stroke="#777" stroke-width="0.5"/>
<text x="180.5" y="404" font-size="2.6" font-weight="bold" text-anchor="middle" fill="#555" stroke="#555" stroke-width="0.042">Score</text>
<circle cx="178.3" cy="409" r="0.4" fill="none" stroke="#777" stroke-width="0.35"/>
<text x="182.3" y="410" font-size="2.8" font-weight="bold" text-anchor="middle" fill="#666" stroke="#666" stroke-width="0.045">0</text>
<circle cx="178.3" cy="413.77" r="0.4" fill="none" stroke="#777" stroke-width="0.35"/>
<text x="182.3" y="414.77" font-size="2.8" font-weight="bold" text-anchor="middle" fill="#666" stroke="#666" stroke-width="0.045">1</text>
<circle cx="178.3" cy="418.54" r="0.4" fill="none" stroke="#777" stroke-width="0.35"/>
<text x="182.3" y="419.54" font-size="2.8" font-weight="bold" text-anchor="middle" fill="#666" stroke="#666" stroke-width="0.045">2</text>
<circle cx="178.3" cy="423.31" r="0.6" fill="#333" stroke="#777" stroke-width="0.35"/>
<text x="182.3" y="424.31" font-size="2.8" font-weight="bold" text-anchor="middle" fill="#666" stroke="#666" stroke-width="0.045">3</text>
<circle cx="178.3" cy="428.08" r="0.4" fill="none" stroke="#777" stroke-width="0.35"/>
<text x="182.3" y="429.08" font-size="2.8" font-weight="bold" text-anchor="middle" fill="#666" stroke="#666" stroke-width="0.045">4</text>
<circle cx="178.3" cy="432.85" r="0.4" fill="none" stroke="#777" stroke-width="0.35"/>
<text x="182.3" y="433.85" font-size="2.8" font-weight="bold" text-anchor="middle" fill="#666" stroke="#666" stroke-width="0.045">5</text>
<circle cx="178.3" cy="437.62" r="0.4" fill="none" stroke="#777" stroke-width="0.35"/>
<text x="182.3" y="438.62" font-size="2.8" font-weight="bold" text-anchor="middle" fill="#666" stroke="#666" stroke-width="0.045">6</text>
<circle cx="178.3" cy="442.39" r="0.6" fill="#333" stroke="#777" stroke-width="0.35"/>
<text x="182.3" y="443.39" font-size="2.8" font-weight="bold" text-anchor="middle" fill="#666" stroke="#666" stroke-width="0.045">7</text>
<rect x="257.7" y="452.7" width="3.8" height="2.7" fill="#7accc6" stroke="#2f7f7a" stroke-width="0.45"/>
<rect x="261.5" y="442.3" width="8.8" height="13.1" fill="#7accc6" stroke="#2f7f7a" stroke-width="0.45"/>
<rect x="270.3" y="427.2" width="9.6" height="28.2" fill="#7accc6" stroke="#2f7f7a" stroke-width="0.45"/>
<rect x="279.9" y="436" width="8.8" height="19.4" fill="#7accc6" stroke="#2f7f7a" stroke-width="0.45"/>
<rect x="288.7" y="438" width="8.9" height="17.4" fill="#7accc6" stroke="#2f7f7a" stroke-width="0.45"/>
<rect x="297.6" y="452.7" width="3" height="2.7" fill="#7accc6" stroke="#2f7f7a" stroke-width="0.45"/>
<rect x="257.7" y="412.6" width="42.9" height="42.8" fill="none" stroke="#b0b0b0" stroke-width="1.0"/>
<text x="279.15" y="422.7" font-size="7.2" text-anchor="middle" fill="#000" stroke="#000" stroke-width="0.257">OS</text>
<rect x="306.2" y="412.6" width="41.9" height="42.8" fill="none" stroke="#b0b0b0" stroke-width="1.0"/>
<text x="327.15" y="435.2" font-size="2.6" text-anchor="middle" fill="#555" stroke="#555" stroke-width="0.093">0.06</text>
<line x1="317.8" y1="412.6" x2="317.8" y2="410.8" stroke="#777" stroke-width="0.4"/>
<text x="317.8" y="408.6" font-size="3.8" font-weight="bold" text-anchor="middle" fill="#333" stroke="#333" stroke-width="0.061">17</text>
<line x1="329" y1="412.6" x2="329" y2="410.8" stroke="#777" stroke-width="0.4"/>
<text x="329" y="408.6" font-size="3.8" font-weight="bold" text-anchor="middle" fill="#333" stroke="#333" stroke-width="0.061">19</text>
<line x1="339.8" y1="412.6" x2="339.8" y2="410.8" stroke="#777" stroke-width="0.4"/>
<text x="339.8" y="408.6" font-size="3.8" font-weight="bold" text-anchor="middle" fill="#333" stroke="#333" stroke-width="0.061">21</text>
<line x1="348.1" y1="415.9" x2="349.9" y2="415.9" stroke="#777" stroke-width="0.4"/>
<text x="354.1" y="415.9" font-size="3.8" font-weight="bold" text-anchor="middle" fill="#333" stroke="#333" stroke-width="0.061" transform="rotate(-90 354.1 415.9)">2.0</text>
<line x1="348.1" y1="424.9" x2="349.9" y2="424.9" stroke="#777" stroke-width="0.4"/>
<text x="354.1" y="424.9" font-size="3.8" font-weight="bold" text-anchor="middle" fill="#333" stroke="#333" stroke-width="0.061" transform="rotate(-90 354.1 424.9)">1.5</text>
<line x1="348.1" y1="434" x2="349.9" y2="434" stroke="#777" stroke-width="0.4"/>
<text x="354.1" y="434" font-size="3.8" font-weight="bold" text-anchor="middle" fill="#333" stroke="#333" stroke-width="0.061" transform="rotate(-90 354.1 434)">1.0</text>
<line x1="348.1" y1="443.7" x2="349.9" y2="443.7" stroke="#777" stroke-width="0.4"/>
<text x="354.1" y="443.7" font-size="3.8" font-weight="bold" text-anchor="middle" fill="#333" stroke="#333" stroke-width="0.061" transform="rotate(-90 354.1 443.7)">0.5</text>
<line x1="348.1" y1="452.9" x2="349.9" y2="452.9" stroke="#777" stroke-width="0.4"/>
<text x="354.1" y="452.9" font-size="3.8" font-weight="bold" text-anchor="middle" fill="#333" stroke="#333" stroke-width="0.061" transform="rotate(-90 354.1 452.9)">0.0</text>
<rect x="257.7" y="460.2" width="42.9" height="42.2" fill="none" stroke="#b0b0b0" stroke-width="1.0"/>
<circle cx="267.8" cy="461.1" r="0.75" fill="none" stroke="#aaa" stroke-width="0.45"/>
<circle cx="272.5" cy="461.1" r="0.75" fill="none" stroke="#999" stroke-width="0.45"/>
<circle cx="276" cy="461.1" r="0.75" fill="none" stroke="#bbb" stroke-width="0.45"/>
<circle cx="281.2" cy="461.1" r="0.75" fill="#222" stroke="#222" stroke-width="0.45"/>
<circle cx="270.1" cy="466.9" r="0.75" fill="none" stroke="#aaa" stroke-width="0.45"/>
<circle cx="272.5" cy="466.9" r="0.75" fill="none" stroke="#aaa" stroke-width="0.45"/>
<circle cx="276" cy="466.9" r="0.75" fill="none" stroke="#ccc" stroke-width="0.45"/>
<circle cx="285" cy="466.9" r="0.75" fill="#222" stroke="#222" stroke-width="0.45"/>
<circle cx="288.2" cy="466.9" r="0.75" fill="none" stroke="#aaa" stroke-width="0.45"/>
<circle cx="273" cy="472.7" r="0.75" fill="none" stroke="#999" stroke-width="0.45"/>
<circle cx="274.2" cy="472.7" r="0.75" fill="#333" stroke="#333" stroke-width="0.45"/>
<circle cx="278.5" cy="472.7" r="0.75" fill="#333" stroke="#333" stroke-width="0.45"/>
<circle cx="292.3" cy="472.7" r="0.75" fill="none" stroke="#ccc" stroke-width="0.45"/>
<circle cx="281.2" cy="478.3" r="0.75" fill="none" stroke="#444" stroke-width="0.45"/>
<circle cx="290.5" cy="478.3" r="0.75" fill="#333" stroke="#333" stroke-width="0.45"/>
<circle cx="292.9" cy="478.3" r="0.75" fill="none" stroke="#444" stroke-width="0.45"/>
<circle cx="281.2" cy="483.9" r="0.75" fill="none" stroke="#999" stroke-width="0.45"/>
<circle cx="285.9" cy="483.9" r="0.75" fill="none" stroke="#999" stroke-width="0.45"/>
<circle cx="294.6" cy="483.9" r="0.75" fill="none" stroke="#999" stroke-width="0.45"/>
<circle cx="299.3" cy="483.9" r="0.75" fill="#333" stroke="#333" stroke-width="0.45"/>
<circle cx="269" cy="489.7" r="0.75" fill="none" stroke="#ddd" stroke-width="0.45"/>
<circle cx="291.7" cy="489.7" r="0.75" fill="#111" stroke="#111" stroke-width="0.45"/>
<circle cx="273" cy="495.2" r="0.75" fill="none" stroke="#bbb" stroke-width="0.45"/>
<circle cx="275.4" cy="495.2" r="0.75" fill="none" stroke="#bbb" stroke-width="0.45"/>
<path d="M257.7,478.6 C 265,477 272,476.3 278,476.6 C 285,477 292,479 300.6,481" stroke="#555" stroke-width="0.8" fill="none"/>
<path d="M268,476.3 C 276,475.5 284,477 300.6,480.3" stroke="#d66" stroke-width="0.5" fill="none" stroke-dasharray="1.2 0.8"/>
<line x1="262.5" y1="502.4" x2="262.5" y2="504.2" stroke="#777" stroke-width="0.4"/>
<text x="262.5" y="510.6" font-size="4.3" font-weight="bold" text-anchor="middle" fill="#000" stroke="#000" stroke-width="0.069">0.0</text>
<line x1="271" y1="502.4" x2="271" y2="504.2" stroke="#777" stroke-width="0.4"/>
<text x="271" y="510.6" font-size="4.3" font-weight="bold" text-anchor="middle" fill="#000" stroke="#000" stroke-width="0.069">0.5</text>
<line x1="280" y1="502.4" x2="280" y2="504.2" stroke="#777" stroke-width="0.4"/>
<text x="280" y="510.6" font-size="4.3" font-weight="bold" text-anchor="middle" fill="#000" stroke="#000" stroke-width="0.069">1.0</text>
<line x1="289" y1="502.4" x2="289" y2="504.2" stroke="#777" stroke-width="0.4"/>
<text x="289" y="510.6" font-size="4.3" font-weight="bold" text-anchor="middle" fill="#000" stroke="#000" stroke-width="0.069">1.5</text>
<line x1="298" y1="502.4" x2="298" y2="504.2" stroke="#777" stroke-width="0.4"/>
<text x="298" y="510.6" font-size="4.3" font-weight="bold" text-anchor="middle" fill="#000" stroke="#000" stroke-width="0.069">2.0</text>
<line x1="257.7" y1="466" x2="255.9" y2="466" stroke="#777" stroke-width="0.4"/>
<text x="251.9" y="466" font-size="4.0" font-weight="bold" text-anchor="middle" fill="#000" stroke="#000" stroke-width="0.064" transform="rotate(-90 251.9 466)">21</text>
<line x1="257.7" y1="476" x2="255.9" y2="476" stroke="#777" stroke-width="0.4"/>
<text x="251.9" y="476" font-size="4.0" font-weight="bold" text-anchor="middle" fill="#000" stroke="#000" stroke-width="0.064" transform="rotate(-90 251.9 476)">19</text>
<line x1="257.7" y1="486" x2="255.9" y2="486" stroke="#777" stroke-width="0.4"/>
<text x="251.9" y="486" font-size="4.0" font-weight="bold" text-anchor="middle" fill="#000" stroke="#000" stroke-width="0.064" transform="rotate(-90 251.9 486)">17</text>
<line x1="257.7" y1="496" x2="255.9" y2="496" stroke="#777" stroke-width="0.4"/>
<text x="251.9" y="496" font-size="4.0" font-weight="bold" text-anchor="middle" fill="#000" stroke="#000" stroke-width="0.064" transform="rotate(-90 251.9 496)">15</text>
<rect x="306.2" y="482.2" width="6.3" height="20.2" fill="#7accc6" stroke="#2f7f7a" stroke-width="0.45"/>
<rect x="312.5" y="486" width="5.8" height="16.4" fill="#7accc6" stroke="#2f7f7a" stroke-width="0.45"/>
<rect x="318.3" y="478.4" width="5" height="24" fill="#7accc6" stroke="#2f7f7a" stroke-width="0.45"/>
<rect x="323.3" y="473.9" width="6.3" height="28.5" fill="#7accc6" stroke="#2f7f7a" stroke-width="0.45"/>
<rect x="329.6" y="478.4" width="5.9" height="24" fill="#7accc6" stroke="#2f7f7a" stroke-width="0.45"/>
<rect x="335.5" y="478.4" width="5.5" height="24" fill="#7accc6" stroke="#2f7f7a" stroke-width="0.45"/>
<rect x="341" y="486" width="6.3" height="16.4" fill="#7accc6" stroke="#2f7f7a" stroke-width="0.45"/>
<rect x="306.2" y="460.2" width="41.9" height="42.2" fill="none" stroke="#b0b0b0" stroke-width="1.0"/>
<text x="327.15" y="468.8" font-size="6.6" text-anchor="middle" fill="#000" stroke="#000" stroke-width="0.236">Length</text>
<rect x="298.5" y="399.5" width="9" height="47.5" fill="#fff" stroke="#777" stroke-width="0.5"/>
<text x="303" y="404" font-size="2.6" font-weight="bold" text-anchor="middle" fill="#555" stroke="#555" stroke-width="0.042">Score</text>
<circle cx="301.1" cy="409" r="0.4" fill="none" stroke="#777" stroke-width="0.35"/>
<text x="305.1" y="410" font-size="2.8" font-weight="bold" text-anchor="middle" fill="#666" stroke="#666" stroke-width="0.045">0</text>
<circle cx="301.1" cy="413.77" r="0.4" fill="none" stroke="#777" stroke-width="0.35"/>
<text x="305.1" y="414.77" font-size="2.8" font-weight="bold" text-anchor="middle" fill="#666" stroke="#666" stroke-width="0.045">1</text>
<circle cx="301.1" cy="418.54" r="0.4" fill="none" stroke="#777" stroke-width="0.35"/>
<text x="305.1" y="419.54" font-size="2.8" font-weight="bold" text-anchor="middle" fill="#666" stroke="#666" stroke-width="0.045">2</text>
<circle cx="301.1" cy="423.31" r="0.6" fill="#333" stroke="#777" stroke-width="0.35"/>
<text x="305.1" y="424.31" font-size="2.8" font-weight="bold" text-anchor="middle" fill="#666" stroke="#666" stroke-width="0.045">3</text>
<circle cx="301.1" cy="428.08" r="0.4" fill="none" stroke="#777" stroke-width="0.35"/>
<text x="305.1" y="429.08" font-size="2.8" font-weight="bold" text-anchor="middle" fill="#666" stroke="#666" stroke-width="0.045">4</text>
<circle cx="301.1" cy="432.85" r="0.4" fill="none" stroke="#777" stroke-width="0.35"/>
<text x="305.1" y="433.85" font-size="2.8" font-weight="bold" text-anchor="middle" fill="#666" stroke="#666" stroke-width="0.045">5</text>
<circle cx="301.1" cy="437.62" r="0.4" fill="none" stroke="#777" stroke-width="0.35"/>
<text x="305.1" y="438.62" font-size="2.8" font-weight="bold" text-anchor="middle" fill="#666" stroke="#666" stroke-width="0.045">6</text>
<circle cx="301.1" cy="442.39" r="0.6" fill="#333" stroke="#777" stroke-width="0.35"/>
<text x="305.1" y="443.39" font-size="2.8" font-weight="bold" text-anchor="middle" fill="#666" stroke="#666" stroke-width="0.045">7</text>
<text x="374.5" y="216.6" font-size="12.5" font-weight="bold" text-anchor="middle" fill="#000" stroke="#000" stroke-width="0.446">D</text>
<text x="409.5" y="229.6" font-size="6.2" font-weight="bold" text-anchor="middle" stroke="#000" stroke-width="0.1" textLength="33.3" lengthAdjust="spacingAndGlyphs"><tspan font-style="italic">cht</tspan> (<tspan font-style="italic">P</tspan> = 0.035)</text>
<line x1="378.3" y1="238.9" x2="378.3" y2="281.8" stroke="#888" stroke-width="0.5"/>
<line x1="376.5" y1="238.9" x2="378.3" y2="238.9" stroke="#888" stroke-width="0.4"/>
<text x="373.5" y="239.8" font-size="2.6" font-weight="bold" text-anchor="middle" fill="#444" stroke="#444" stroke-width="0.042">80</text>
<line x1="376.5" y1="247.5" x2="378.3" y2="247.5" stroke="#888" stroke-width="0.4"/>
<text x="373.5" y="248.4" font-size="2.6" font-weight="bold" text-anchor="middle" fill="#444" stroke="#444" stroke-width="0.042">60</text>
<line x1="376.5" y1="256.2" x2="378.3" y2="256.2" stroke="#888" stroke-width="0.4"/>
<text x="373.5" y="257.1" font-size="2.6" font-weight="bold" text-anchor="middle" fill="#444" stroke="#444" stroke-width="0.042">40</text>
<line x1="376.5" y1="264.5" x2="378.3" y2="264.5" stroke="#888" stroke-width="0.4"/>
<text x="373.5" y="265.4" font-size="2.6" font-weight="bold" text-anchor="middle" fill="#444" stroke="#444" stroke-width="0.042">20</text>
<line x1="376.5" y1="273.1" x2="378.3" y2="273.1" stroke="#888" stroke-width="0.4"/>
<text x="373.5" y="274" font-size="2.6" font-weight="bold" text-anchor="middle" fill="#444" stroke="#444" stroke-width="0.042">0</text>
<line x1="376.5" y1="281.8" x2="378.3" y2="281.8" stroke="#888" stroke-width="0.4"/>
<text x="373.5" y="282.7" font-size="2.6" font-weight="bold" text-anchor="middle" fill="#444" stroke="#444" stroke-width="0.042">-20</text>
<line x1="396" y1="232.6" x2="396" y2="244.1" stroke="#c8c8c8" stroke-width="0.6"/>
<line x1="396" y1="261.5" x2="396" y2="282.6" stroke="#c8c8c8" stroke-width="0.6"/>
<line x1="390.2" y1="232.6" x2="401.8" y2="232.6" stroke="#c8c8c8" stroke-width="0.6"/>
<line x1="390.2" y1="282.6" x2="401.8" y2="282.6" stroke="#c8c8c8" stroke-width="0.6"/>
<rect x="383.9" y="244.1" width="24.2" height="17.4" fill="#fbe900" stroke="#d8c800" stroke-width="0.5"/>
<line x1="383.9" y1="252.6" x2="408.1" y2="252.6" stroke="#7a6c00" stroke-width="1.5"/>
<line x1="426.05" y1="239.4" x2="426.05" y2="258.2" stroke="#c8c8c8" stroke-width="0.6"/>
<line x1="426.05" y1="271.4" x2="426.05" y2="277.4" stroke="#c8c8c8" stroke-width="0.6"/>
<line x1="420.25" y1="239.4" x2="431.85" y2="239.4" stroke="#c8c8c8" stroke-width="0.6"/>
<line x1="420.25" y1="277.4" x2="431.85" y2="277.4" stroke="#c8c8c8" stroke-width="0.6"/>
<rect x="414.2" y="258.2" width="23.7" height="13.2" fill="#3d2a8e" stroke="#2a1a70" stroke-width="0.5"/>
<line x1="414.2" y1="263.7" x2="437.9" y2="263.7" stroke="#2a1a66" stroke-width="1.5"/>
<line x1="396" y1="288.1" x2="426.05" y2="288.1" stroke="#999" stroke-width="0.5"/>
<line x1="396" y1="288.1" x2="396" y2="289.6" stroke="#999" stroke-width="0.4"/>
<line x1="426.05" y1="288.1" x2="426.05" y2="289.6" stroke="#999" stroke-width="0.4"/>
<text x="396" y="295" font-size="2.9" font-weight="bold" text-anchor="middle" fill="#333" stroke="#333" stroke-width="0.047">Adj</text>
<text x="426.05" y="295" font-size="2.9" font-weight="bold" text-anchor="middle" fill="#333" stroke="#333" stroke-width="0.047">Neoadj</text>
<circle cx="396" cy="285.6" r="0.7" fill="none" stroke="#999" stroke-width="0.4"/>
<text x="485.2" y="229.6" font-size="6.2" font-weight="bold" text-anchor="middle" stroke="#000" stroke-width="0.1" textLength="53.3" lengthAdjust="spacingAndGlyphs">FIGO Stage (<tspan font-style="italic">P</tspan> = 0.015)</text>
<line x1="451.4" y1="238.9" x2="451.4" y2="281.8" stroke="#888" stroke-width="0.5"/>
<line x1="449.6" y1="238.9" x2="451.4" y2="238.9" stroke="#888" stroke-width="0.4"/>
<text x="446.6" y="239.8" font-size="2.6" font-weight="bold" text-anchor="middle" fill="#444" stroke="#444" stroke-width="0.042">80</text>
<line x1="449.6" y1="247.5" x2="451.4" y2="247.5" stroke="#888" stroke-width="0.4"/>
<text x="446.6" y="248.4" font-size="2.6" font-weight="bold" text-anchor="middle" fill="#444" stroke="#444" stroke-width="0.042">60</text>
<line x1="449.6" y1="256.2" x2="451.4" y2="256.2" stroke="#888" stroke-width="0.4"/>
<text x="446.6" y="257.1" font-size="2.6" font-weight="bold" text-anchor="middle" fill="#444" stroke="#444" stroke-width="0.042">40</text>
<line x1="449.6" y1="264.5" x2="451.4" y2="264.5" stroke="#888" stroke-width="0.4"/>
<text x="446.6" y="265.4" font-size="2.6" font-weight="bold" text-anchor="middle" fill="#444" stroke="#444" stroke-width="0.042">20</text>
<line x1="449.6" y1="273.1" x2="451.4" y2="273.1" stroke="#888" stroke-width="0.4"/>
<text x="446.6" y="274" font-size="2.6" font-weight="bold" text-anchor="middle" fill="#444" stroke="#444" stroke-width="0.042">0</text>
<line x1="449.6" y1="281.8" x2="451.4" y2="281.8" stroke="#888" stroke-width="0.4"/>
<text x="446.6" y="282.7" font-size="2.6" font-weight="bold" text-anchor="middle" fill="#444" stroke="#444" stroke-width="0.042">-20</text>
<line x1="469.45" y1="232.6" x2="469.45" y2="244.1" stroke="#c8c8c8" stroke-width="0.6"/>
<line x1="469.45" y1="262" x2="469.45" y2="286.3" stroke="#c8c8c8" stroke-width="0.6"/>
<line x1="464.25" y1="232.6" x2="474.65" y2="232.6" stroke="#c8c8c8" stroke-width="0.6"/>
<line x1="464.25" y1="286.3" x2="474.65" y2="286.3" stroke="#c8c8c8" stroke-width="0.6"/>
<rect x="457.3" y="244.1" width="24.3" height="17.9" fill="#fbe900" stroke="#d8c800" stroke-width="0.5"/>
<line x1="457.3" y1="252.6" x2="481.6" y2="252.6" stroke="#7a6c00" stroke-width="1.5"/>
<line x1="499.8" y1="245.2" x2="499.8" y2="256.2" stroke="#c8c8c8" stroke-width="0.6"/>
<line x1="499.8" y1="271.4" x2="499.8" y2="282.3" stroke="#c8c8c8" stroke-width="0.6"/>
<line x1="494" y1="245.2" x2="505.6" y2="245.2" stroke="#c8c8c8" stroke-width="0.6"/>
<line x1="494" y1="282.3" x2="505.6" y2="282.3" stroke="#c8c8c8" stroke-width="0.6"/>
<rect x="487.8" y="256.2" width="24" height="15.2" fill="#3d2a8e" stroke="#2a1a70" stroke-width="0.5"/>
<line x1="487.8" y1="264.2" x2="511.8" y2="264.2" stroke="#2a1a66" stroke-width="1.5"/>
<line x1="469.45" y1="288.1" x2="499.8" y2="288.1" stroke="#999" stroke-width="0.5"/>
<line x1="469.45" y1="288.1" x2="469.45" y2="289.6" stroke="#999" stroke-width="0.4"/>
<line x1="499.8" y1="288.1" x2="499.8" y2="289.6" stroke="#999" stroke-width="0.4"/>
<text x="469.45" y="295" font-size="2.9" font-weight="bold" text-anchor="middle" fill="#333" stroke="#333" stroke-width="0.047">I/II</text>
<text x="499.8" y="295" font-size="2.9" font-weight="bold" text-anchor="middle" fill="#333" stroke="#333" stroke-width="0.047">III/IV</text>
<rect x="378.5" y="327" width="2.8" height="3.2" fill="#7accc6" stroke="#2f7f7a" stroke-width="0.45"/>
<rect x="381.3" y="322.2" width="4" height="8" fill="#7accc6" stroke="#2f7f7a" stroke-width="0.45"/>
<rect x="385.3" y="318.9" width="4.1" height="11.3" fill="#7accc6" stroke="#2f7f7a" stroke-width="0.45"/>
<rect x="389.4" y="314.2" width="4" height="16" fill="#7accc6" stroke="#2f7f7a" stroke-width="0.45"/>
<rect x="393.4" y="313" width="4" height="17.2" fill="#7accc6" stroke="#2f7f7a" stroke-width="0.45"/>
<rect x="397.4" y="311.8" width="4.4" height="18.4" fill="#7accc6" stroke="#2f7f7a" stroke-width="0.45"/>
<rect x="401.8" y="322.4" width="3.8" height="7.8" fill="#7accc6" stroke="#2f7f7a" stroke-width="0.45"/>
<rect x="378.4" y="302.2" width="27.6" height="28" fill="none" stroke="#b4b4b4" stroke-width="0.9"/>
<text x="392.2" y="309.5" font-size="5.1" font-weight="bold" text-anchor="middle" fill="#000" stroke="#000" stroke-width="0.082" textLength="13.2" lengthAdjust="spacingAndGlyphs">GPhL</text>
<rect x="408.6" y="302.2" width="28" height="28" fill="none" stroke="#b4b4b4" stroke-width="0.9"/>
<text x="423" y="318.66" font-size="7.1" font-weight="bold" text-anchor="middle" fill="#000" stroke="#000" stroke-width="0.114">-0.66</text>
<text x="433.6" y="310.7" font-size="4.7" font-weight="bold" text-anchor="end" fill="#d07a85" stroke="#d07a85" stroke-width="0.076">***</text>
<line x1="410.7" y1="302.2" x2="410.7" y2="300.8" stroke="#888" stroke-width="0.35"/>
<text x="410.7" y="299.1" font-size="2.6" font-weight="bold" text-anchor="middle" fill="#666" stroke="#666" stroke-width="0.042">0</text>
<line x1="418.3" y1="302.2" x2="418.3" y2="300.8" stroke="#888" stroke-width="0.35"/>
<text x="418.3" y="299.1" font-size="2.6" font-weight="bold" text-anchor="middle" fill="#666" stroke="#666" stroke-width="0.042">5</text>
<line x1="426" y1="302.2" x2="426" y2="300.8" stroke="#888" stroke-width="0.35"/>
<text x="426" y="299.1" font-size="2.6" font-weight="bold" text-anchor="middle" fill="#666" stroke="#666" stroke-width="0.042">10</text>
<line x1="429.9" y1="302.2" x2="429.9" y2="300.8" stroke="#888" stroke-width="0.35"/>
<text x="429.9" y="299.1" font-size="2.6" font-weight="bold" text-anchor="middle" fill="#666" stroke="#666" stroke-width="0.042">15</text>
<line x1="433.4" y1="302.2" x2="433.4" y2="300.8" stroke="#888" stroke-width="0.35"/>
<text x="433.4" y="299.1" font-size="2.6" font-weight="bold" text-anchor="middle" fill="#666" stroke="#666" stroke-width="0.042">20</text>
<line x1="436.6" y1="306.2" x2="438.1" y2="306.2" stroke="#888" stroke-width="0.35"/>
<text x="441" y="307.1" font-size="2.6" font-weight="bold" text-anchor="middle" fill="#666" stroke="#666" stroke-width="0.042">6</text>
<line x1="436.6" y1="310.7" x2="438.1" y2="310.7" stroke="#888" stroke-width="0.35"/>
<text x="441" y="311.6" font-size="2.6" font-weight="bold" text-anchor="middle" fill="#666" stroke="#666" stroke-width="0.042">5</text>
<line x1="436.6" y1="314.7" x2="438.1" y2="314.7" stroke="#888" stroke-width="0.35"/>
<text x="441" y="315.6" font-size="2.6" font-weight="bold" text-anchor="middle" fill="#666" stroke="#666" stroke-width="0.042">4</text>
<line x1="436.6" y1="318.4" x2="438.1" y2="318.4" stroke="#888" stroke-width="0.35"/>
<text x="441" y="319.3" font-size="2.6" font-weight="bold" text-anchor="middle" fill="#666" stroke="#666" stroke-width="0.042">3</text>
<line x1="436.6" y1="327.1" x2="438.1" y2="327.1" stroke="#888" stroke-width="0.35"/>
<text x="441" y="328" font-size="2.6" font-weight="bold" text-anchor="middle" fill="#666" stroke="#666" stroke-width="0.042">2</text>
<rect x="378.4" y="332.8" width="27.6" height="27.6" fill="none" stroke="#b4b4b4" stroke-width="0.9"/>
<circle cx="392.94" cy="352.72" r="0.55" fill="none" stroke="#222" stroke-width="0.35"/>
<circle cx="393.25" cy="348.87" r="0.55" fill="none" stroke="#222" stroke-width="0.35"/>
<circle cx="394.21" cy="348.72" r="0.55" fill="none" stroke="#222" stroke-width="0.35"/>
<circle cx="394.3" cy="348.11" r="0.55" fill="none" stroke="#222" stroke-width="0.35"/>
<circle cx="396.9" cy="348.75" r="0.55" fill="none" stroke="#222" stroke-width="0.35"/>
<circle cx="389.37" cy="344.48" r="0.55" fill="none" stroke="#222" stroke-width="0.35"/>
<circle cx="383.51" cy="336.61" r="0.55" fill="none" stroke="#222" stroke-width="0.35"/>
<circle cx="381.84" cy="341.66" r="0.55" fill="none" stroke="#222" stroke-width="0.35"/>
<circle cx="404.15" cy="350.38" r="0.55" fill="none" stroke="#222" stroke-width="0.35"/>
<circle cx="396.59" cy="349.9" r="0.55" fill="none" stroke="#222" stroke-width="0.35"/>
<circle cx="385.51" cy="336.11" r="0.55" fill="none" stroke="#222" stroke-width="0.35"/>
<circle cx="382.48" cy="337.22" r="0.55" fill="none" stroke="#222" stroke-width="0.35"/>
<circle cx="386.42" cy="340.71" r="0.55" fill="none" stroke="#222" stroke-width="0.35"/>
<circle cx="393.21" cy="345.39" r="0.55" fill="none" stroke="#222" stroke-width="0.35"/>
<circle cx="392.67" cy="343.62" r="0.55" fill="none" stroke="#222" stroke-width="0.35"/>
<circle cx="397.12" cy="352.54" r="0.55" fill="none" stroke="#222" stroke-width="0.35"/>
<circle cx="394.02" cy="348.68" r="0.55" fill="none" stroke="#222" stroke-width="0.35"/>
<circle cx="388.74" cy="345.62" r="0.55" fill="none" stroke="#222" stroke-width="0.35"/>
<circle cx="404.45" cy="349.05" r="0.55" fill="none" stroke="#222" stroke-width="0.35"/>
<circle cx="398.56" cy="350.62" r="0.55" fill="none" stroke="#222" stroke-width="0.35"/>
<circle cx="389.67" cy="343.01" r="0.55" fill="none" stroke="#222" stroke-width="0.35"/>
<circle cx="382.84" cy="335.53" r="0.55" fill="none" stroke="#222" stroke-width="0.35"/>
<circle cx="399.78" cy="356.45" r="0.55" fill="none" stroke="#222" stroke-width="0.35"/>
<circle cx="391.4" cy="341.1" r="0.55" fill="none" stroke="#222" stroke-width="0.35"/>
<circle cx="403.67" cy="354.49" r="0.55" fill="none" stroke="#222" stroke-width="0.35"/>
<circle cx="386.95" cy="341.26" r="0.55" fill="none" stroke="#222" stroke-width="0.35"/>
<circle cx="402.72" cy="357.67" r="0.55" fill="none" stroke="#222" stroke-width="0.35"/>
<circle cx="391.66" cy="343.26" r="0.55" fill="none" stroke="#222" stroke-width="0.35"/>
<circle cx="382.93" cy="341.77" r="0.55" fill="none" stroke="#222" stroke-width="0.35"/>
<circle cx="388.52" cy="346.46" r="0.55" fill="none" stroke="#222" stroke-width="0.35"/>
<circle cx="383.39" cy="342.41" r="0.55" fill="none" stroke="#222" stroke-width="0.35"/>
<circle cx="399.61" cy="344.14" r="0.55" fill="none" stroke="#222" stroke-width="0.35"/>
<circle cx="384.35" cy="339.06" r="0.55" fill="none" stroke="#222" stroke-width="0.35"/>
<circle cx="382.49" cy="336.12" r="0.55" fill="none" stroke="#222" stroke-width="0.35"/>
<circle cx="400.42" cy="350.15" r="0.55" fill="none" stroke="#222" stroke-width="0.35"/>
<circle cx="392.83" cy="342.19" r="0.55" fill="none" stroke="#222" stroke-width="0.35"/>
<circle cx="386.43" cy="340.95" r="0.55" fill="none" stroke="#222" stroke-width="0.35"/>
<circle cx="397.19" cy="351.05" r="0.55" fill="none" stroke="#222" stroke-width="0.35"/>
<circle cx="384.31" cy="341" r="0.55" fill="none" stroke="#222" stroke-width="0.35"/>
<circle cx="388.53" cy="341.37" r="0.55" fill="none" stroke="#222" stroke-width="0.35"/>
<circle cx="403.93" cy="353.85" r="0.55" fill="none" stroke="#222" stroke-width="0.35"/>
<circle cx="402.21" cy="355.95" r="0.55" fill="none" stroke="#222" stroke-width="0.35"/>
<circle cx="386.98" cy="346.13" r="0.55" fill="none" stroke="#222" stroke-width="0.35"/>
<circle cx="397.15" cy="345.46" r="0.55" fill="none" stroke="#222" stroke-width="0.35"/>
<circle cx="383.81" cy="336.45" r="0.55" fill="none" stroke="#222" stroke-width="0.35"/>
<circle cx="388.23" cy="342.34" r="0.55" fill="none" stroke="#222" stroke-width="0.35"/>
<circle cx="399.91" cy="352.82" r="0.55" fill="none" stroke="#222" stroke-width="0.35"/>
<circle cx="382.94" cy="335.61" r="0.55" fill="none" stroke="#222" stroke-width="0.35"/>
<circle cx="383.49" cy="340.47" r="0.55" fill="none" stroke="#222" stroke-width="0.35"/>
<circle cx="396.28" cy="349.82" r="0.55" fill="none" stroke="#222" stroke-width="0.35"/>
<circle cx="391.05" cy="352.19" r="0.55" fill="none" stroke="#222" stroke-width="0.35"/>
<circle cx="393.66" cy="344.19" r="0.55" fill="none" stroke="#222" stroke-width="0.35"/>
<circle cx="395.69" cy="346.8" r="0.55" fill="none" stroke="#222" stroke-width="0.35"/>
<circle cx="385.41" cy="341.45" r="0.55" fill="none" stroke="#222" stroke-width="0.35"/>
<circle cx="402.68" cy="352.75" r="0.55" fill="none" stroke="#222" stroke-width="0.35"/>
<line x1="378.9" y1="335.53" x2="405.5" y2="355.21" stroke="#333" stroke-width="0.45"/>
<line x1="381.7" y1="360.4" x2="381.7" y2="361.8" stroke="#888" stroke-width="0.35"/>
<text x="381.7" y="365.8" font-size="2.6" font-weight="bold" text-anchor="middle" fill="#666" stroke="#666" stroke-width="0.042">2</text>
<line x1="390.2" y1="360.4" x2="390.2" y2="361.8" stroke="#888" stroke-width="0.35"/>
<text x="390.2" y="365.8" font-size="2.6" font-weight="bold" text-anchor="middle" fill="#666" stroke="#666" stroke-width="0.042">4</text>
<line x1="393.9" y1="360.4" x2="393.9" y2="361.8" stroke="#888" stroke-width="0.35"/>
<text x="393.9" y="365.8" font-size="2.6" font-weight="bold" text-anchor="middle" fill="#666" stroke="#666" stroke-width="0.042">6</text>
<line x1="397.8" y1="360.4" x2="397.8" y2="361.8" stroke="#888" stroke-width="0.35"/>
<text x="397.8" y="365.8" font-size="2.6" font-weight="bold" text-anchor="middle" fill="#666" stroke="#666" stroke-width="0.042">8</text>
<line x1="402" y1="360.4" x2="402" y2="361.8" stroke="#888" stroke-width="0.35"/>
<text x="402" y="365.8" font-size="2.6" font-weight="bold" text-anchor="middle" fill="#666" stroke="#666" stroke-width="0.042">10</text>
<line x1="378.4" y1="335.4" x2="376.9" y2="335.4" stroke="#888" stroke-width="0.35"/>
<text x="373.6" y="336.3" font-size="2.6" font-weight="bold" text-anchor="middle" fill="#666" stroke="#666" stroke-width="0.042">40</text>
<line x1="378.4" y1="339.5" x2="376.9" y2="339.5" stroke="#888" stroke-width="0.35"/>
<text x="373.6" y="340.4" font-size="2.6" font-weight="bold" text-anchor="middle" fill="#666" stroke="#666" stroke-width="0.042">30</text>
<line x1="378.4" y1="343" x2="376.9" y2="343" stroke="#888" stroke-width="0.35"/>
<text x="373.6" y="343.9" font-size="2.6" font-weight="bold" text-anchor="middle" fill="#666" stroke="#666" stroke-width="0.042">20</text>
<line x1="378.4" y1="350.9" x2="376.9" y2="350.9" stroke="#888" stroke-width="0.35"/>
<text x="373.6" y="351.8" font-size="2.6" font-weight="bold" text-anchor="middle" fill="#666" stroke="#666" stroke-width="0.042">10</text>
<line x1="378.4" y1="358.7" x2="376.9" y2="358.7" stroke="#888" stroke-width="0.35"/>
<text x="373.6" y="359.6" font-size="2.6" font-weight="bold" text-anchor="middle" fill="#666" stroke="#666" stroke-width="0.042">0</text>
<rect x="408.7" y="355.4" width="2.6" height="5" fill="#7accc6" stroke="#2f7f7a" stroke-width="0.45"/>
<rect x="411.3" y="356.9" width="3.5" height="3.5" fill="#7accc6" stroke="#2f7f7a" stroke-width="0.45"/>
<rect x="414.8" y="355.9" width="3.4" height="4.5" fill="#7accc6" stroke="#2f7f7a" stroke-width="0.45"/>
<rect x="418.2" y="342.3" width="3.6" height="18.1" fill="#7accc6" stroke="#2f7f7a" stroke-width="0.45"/>
<rect x="421.8" y="351.1" width="4.1" height="9.3" fill="#7accc6" stroke="#2f7f7a" stroke-width="0.45"/>
<rect x="425.9" y="345.7" width="3.9" height="14.7" fill="#7accc6" stroke="#2f7f7a" stroke-width="0.45"/>
<rect x="429.8" y="351.8" width="3.4" height="8.6" fill="#7accc6" stroke="#2f7f7a" stroke-width="0.45"/>
<rect x="433.2" y="354.7" width="3.2" height="5.7" fill="#7accc6" stroke="#2f7f7a" stroke-width="0.45"/>
<rect x="408.6" y="332.8" width="28" height="27.6" fill="none" stroke="#b4b4b4" stroke-width="0.9"/>
<text x="422.6" y="339.2" font-size="5.0" font-weight="bold" text-anchor="middle" fill="#000" stroke="#000" stroke-width="0.080" textLength="11.1" lengthAdjust="spacingAndGlyphs">CRP</text>
<rect x="452.4" y="327.3" width="2.5" height="2.9" fill="#7accc6" stroke="#2f7f7a" stroke-width="0.45"/>
<rect x="454.9" y="323.5" width="4.3" height="6.7" fill="#7accc6" stroke="#2f7f7a" stroke-width="0.45"/>
<rect x="459.2" y="319.6" width="4.2" height="10.6" fill="#7accc6" stroke="#2f7f7a" stroke-width="0.45"/>
<rect x="463.4" y="315.5" width="4.3" height="14.7" fill="#7accc6" stroke="#2f7f7a" stroke-width="0.45"/>
<rect x="467.7" y="311.6" width="4.1" height="18.6" fill="#7accc6" stroke="#2f7f7a" stroke-width="0.45"/>
<rect x="471.8" y="314.2" width="4.4" height="16" fill="#7accc6" stroke="#2f7f7a" stroke-width="0.45"/>
<rect x="476.2" y="323.5" width="4.2" height="6.7" fill="#7accc6" stroke="#2f7f7a" stroke-width="0.45"/>
<rect x="452.3" y="302.2" width="27.6" height="28" fill="none" stroke="#b4b4b4" stroke-width="0.9"/>
<text x="466.1" y="309.5" font-size="5.1" font-weight="bold" text-anchor="middle" fill="#000" stroke="#000" stroke-width="0.082" textLength="13.2" lengthAdjust="spacingAndGlyphs">GPhL</text>
<rect x="482.5" y="302.2" width="28" height="28" fill="none" stroke="#b4b4b4" stroke-width="0.9"/>
<text x="496.9" y="318.51" font-size="6.7" font-weight="bold" text-anchor="middle" fill="#000" stroke="#000" stroke-width="0.108">-0.62</text>
<text x="507.5" y="310.7" font-size="4.7" font-weight="bold" text-anchor="end" fill="#d07a85" stroke="#d07a85" stroke-width="0.076">***</text>
<line x1="484.6" y1="302.2" x2="484.6" y2="300.8" stroke="#888" stroke-width="0.35"/>
<text x="484.6" y="299.1" font-size="2.6" font-weight="bold" text-anchor="middle" fill="#666" stroke="#666" stroke-width="0.042">7.5</text>
<line x1="492.9" y1="302.2" x2="492.9" y2="300.8" stroke="#888" stroke-width="0.35"/>
<text x="492.9" y="299.1" font-size="2.6" font-weight="bold" text-anchor="middle" fill="#666" stroke="#666" stroke-width="0.042">8.0</text>
<line x1="500.7" y1="302.2" x2="500.7" y2="300.8" stroke="#888" stroke-width="0.35"/>
<text x="500.7" y="299.1" font-size="2.6" font-weight="bold" text-anchor="middle" fill="#666" stroke="#666" stroke-width="0.042">8.5</text>
<line x1="508.4" y1="302.2" x2="508.4" y2="300.8" stroke="#888" stroke-width="0.35"/>
<text x="508.4" y="299.1" font-size="2.6" font-weight="bold" text-anchor="middle" fill="#666" stroke="#666" stroke-width="0.042">9.0</text>
<line x1="510.5" y1="306.2" x2="512" y2="306.2" stroke="#888" stroke-width="0.35"/>
<text x="514.9" y="307.1" font-size="2.6" font-weight="bold" text-anchor="middle" fill="#666" stroke="#666" stroke-width="0.042">6</text>
<line x1="510.5" y1="310.7" x2="512" y2="310.7" stroke="#888" stroke-width="0.35"/>
<text x="514.9" y="311.6" font-size="2.6" font-weight="bold" text-anchor="middle" fill="#666" stroke="#666" stroke-width="0.042">5</text>
<line x1="510.5" y1="314.7" x2="512" y2="314.7" stroke="#888" stroke-width="0.35"/>
<text x="514.9" y="315.6" font-size="2.6" font-weight="bold" text-anchor="middle" fill="#666" stroke="#666" stroke-width="0.042">4</text>
<line x1="510.5" y1="318.4" x2="512" y2="318.4" stroke="#888" stroke-width="0.35"/>
<text x="514.9" y="319.3" font-size="2.6" font-weight="bold" text-anchor="middle" fill="#666" stroke="#666" stroke-width="0.042">3</text>
<line x1="510.5" y1="327.1" x2="512" y2="327.1" stroke="#888" stroke-width="0.35"/>
<text x="514.9" y="328" font-size="2.6" font-weight="bold" text-anchor="middle" fill="#666" stroke="#666" stroke-width="0.042">2</text>
<rect x="452.3" y="332.8" width="27.6" height="27.6" fill="none" stroke="#b4b4b4" stroke-width="0.9"/>
<circle cx="467.35" cy="345.42" r="0.55" fill="none" stroke="#222" stroke-width="0.35"/>
<circle cx="458.98" cy="343.64" r="0.55" fill="none" stroke="#222" stroke-width="0.35"/>
<circle cx="454.46" cy="341.13" r="0.55" fill="none" stroke="#222" stroke-width="0.35"/>
<circle cx="474.59" cy="345.22" r="0.55" fill="none" stroke="#222" stroke-width="0.35"/>
<circle cx="472.09" cy="347.22" r="0.55" fill="none" stroke="#222" stroke-width="0.35"/>
<circle cx="471.47" cy="346.57" r="0.55" fill="none" stroke="#222" stroke-width="0.35"/>
<circle cx="459.06" cy="342.49" r="0.55" fill="none" stroke="#222" stroke-width="0.35"/>
<circle cx="476.53" cy="346.4" r="0.55" fill="none" stroke="#222" stroke-width="0.35"/>
<circle cx="456.35" cy="340.44" r="0.55" fill="none" stroke="#222" stroke-width="0.35"/>
<circle cx="472.02" cy="346.04" r="0.55" fill="none" stroke="#222" stroke-width="0.35"/>
<circle cx="464.1" cy="345.78" r="0.55" fill="none" stroke="#222" stroke-width="0.35"/>
<circle cx="454.82" cy="338.4" r="0.55" fill="none" stroke="#222" stroke-width="0.35"/>
<circle cx="456.42" cy="338.98" r="0.55" fill="none" stroke="#222" stroke-width="0.35"/>
<circle cx="457.41" cy="342.09" r="0.55" fill="none" stroke="#222" stroke-width="0.35"/>
<circle cx="478.15" cy="346.47" r="0.55" fill="none" stroke="#222" stroke-width="0.35"/>
<circle cx="466.16" cy="343.94" r="0.55" fill="none" stroke="#222" stroke-width="0.35"/>
<circle cx="458.76" cy="342.36" r="0.55" fill="none" stroke="#222" stroke-width="0.35"/>
<circle cx="459.58" cy="339.47" r="0.55" fill="none" stroke="#222" stroke-width="0.35"/>
<circle cx="472.23" cy="344.49" r="0.55" fill="none" stroke="#222" stroke-width="0.35"/>
<circle cx="474.7" cy="345.89" r="0.55" fill="none" stroke="#222" stroke-width="0.35"/>
<circle cx="465.63" cy="345.53" r="0.55" fill="none" stroke="#222" stroke-width="0.35"/>
<circle cx="467.4" cy="342.91" r="0.55" fill="none" stroke="#222" stroke-width="0.35"/>
<circle cx="465.25" cy="340.67" r="0.55" fill="none" stroke="#222" stroke-width="0.35"/>
<circle cx="477.76" cy="346.62" r="0.55" fill="none" stroke="#222" stroke-width="0.35"/>
<circle cx="477.93" cy="348.03" r="0.55" fill="none" stroke="#222" stroke-width="0.35"/>
<circle cx="464.74" cy="344.62" r="0.55" fill="none" stroke="#222" stroke-width="0.35"/>
<circle cx="472.08" cy="345.83" r="0.55" fill="none" stroke="#222" stroke-width="0.35"/>
<circle cx="461.52" cy="343.03" r="0.55" fill="none" stroke="#222" stroke-width="0.35"/>
<circle cx="464.74" cy="346.37" r="0.55" fill="none" stroke="#222" stroke-width="0.35"/>
<circle cx="467.93" cy="344.42" r="0.55" fill="none" stroke="#222" stroke-width="0.35"/>
<circle cx="455.21" cy="339.58" r="0.55" fill="none" stroke="#222" stroke-width="0.35"/>
<circle cx="468.36" cy="345.96" r="0.55" fill="none" stroke="#222" stroke-width="0.35"/>
<circle cx="461.18" cy="343.71" r="0.55" fill="none" stroke="#222" stroke-width="0.35"/>
<circle cx="473.8" cy="345.2" r="0.55" fill="none" stroke="#222" stroke-width="0.35"/>
<circle cx="457.78" cy="342.18" r="0.55" fill="none" stroke="#222" stroke-width="0.35"/>
<circle cx="472.21" cy="345.81" r="0.55" fill="none" stroke="#222" stroke-width="0.35"/>
<circle cx="455.55" cy="340.75" r="0.55" fill="none" stroke="#222" stroke-width="0.35"/>
<circle cx="470.95" cy="343.54" r="0.55" fill="none" stroke="#222" stroke-width="0.35"/>
<circle cx="456.11" cy="341.79" r="0.55" fill="none" stroke="#222" stroke-width="0.35"/>
<circle cx="462.73" cy="342.34" r="0.55" fill="none" stroke="#222" stroke-width="0.35"/>
<circle cx="467.39" cy="342.13" r="0.55" fill="none" stroke="#222" stroke-width="0.35"/>
<circle cx="477.53" cy="347.58" r="0.55" fill="none" stroke="#222" stroke-width="0.35"/>
<circle cx="459.69" cy="340.27" r="0.55" fill="none" stroke="#222" stroke-width="0.35"/>
<circle cx="460.29" cy="342.66" r="0.55" fill="none" stroke="#222" stroke-width="0.35"/>
<circle cx="473.31" cy="345.64" r="0.55" fill="none" stroke="#222" stroke-width="0.35"/>
<circle cx="462.39" cy="342.64" r="0.55" fill="none" stroke="#222" stroke-width="0.35"/>
<circle cx="473.77" cy="346.65" r="0.55" fill="none" stroke="#222" stroke-width="0.35"/>
<circle cx="454.35" cy="339.05" r="0.55" fill="none" stroke="#222" stroke-width="0.35"/>
<circle cx="455.67" cy="344.14" r="0.55" fill="none" stroke="#222" stroke-width="0.35"/>
<circle cx="478.37" cy="350.69" r="0.55" fill="none" stroke="#222" stroke-width="0.35"/>
<circle cx="468.01" cy="342.72" r="0.55" fill="none" stroke="#222" stroke-width="0.35"/>
<circle cx="474.12" cy="345.83" r="0.55" fill="none" stroke="#222" stroke-width="0.35"/>
<circle cx="475.03" cy="347.12" r="0.55" fill="none" stroke="#222" stroke-width="0.35"/>
<circle cx="468.54" cy="345.34" r="0.55" fill="none" stroke="#222" stroke-width="0.35"/>
<circle cx="467.42" cy="344.98" r="0.55" fill="none" stroke="#222" stroke-width="0.35"/>
<line x1="452.8" y1="339.96" x2="479.4" y2="347.34" stroke="#333" stroke-width="0.45"/>
<line x1="455.6" y1="360.4" x2="455.6" y2="361.8" stroke="#888" stroke-width="0.35"/>
<text x="455.6" y="365.8" font-size="2.6" font-weight="bold" text-anchor="middle" fill="#666" stroke="#666" stroke-width="0.042">2</text>
<line x1="464.1" y1="360.4" x2="464.1" y2="361.8" stroke="#888" stroke-width="0.35"/>
<text x="464.1" y="365.8" font-size="2.6" font-weight="bold" text-anchor="middle" fill="#666" stroke="#666" stroke-width="0.042">4</text>
<line x1="467.8" y1="360.4" x2="467.8" y2="361.8" stroke="#888" stroke-width="0.35"/>
<text x="467.8" y="365.8" font-size="2.6" font-weight="bold" text-anchor="middle" fill="#666" stroke="#666" stroke-width="0.042">6</text>
<line x1="471.7" y1="360.4" x2="471.7" y2="361.8" stroke="#888" stroke-width="0.35"/>
<text x="471.7" y="365.8" font-size="2.6" font-weight="bold" text-anchor="middle" fill="#666" stroke="#666" stroke-width="0.042">8</text>
<line x1="475.9" y1="360.4" x2="475.9" y2="361.8" stroke="#888" stroke-width="0.35"/>
<text x="475.9" y="365.8" font-size="2.6" font-weight="bold" text-anchor="middle" fill="#666" stroke="#666" stroke-width="0.042">10</text>
<line x1="452.3" y1="335.4" x2="450.8" y2="335.4" stroke="#888" stroke-width="0.35"/>
<text x="447.5" y="336.3" font-size="2.6" font-weight="bold" text-anchor="middle" fill="#666" stroke="#666" stroke-width="0.042">40</text>
<line x1="452.3" y1="339.5" x2="450.8" y2="339.5" stroke="#888" stroke-width="0.35"/>
<text x="447.5" y="340.4" font-size="2.6" font-weight="bold" text-anchor="middle" fill="#666" stroke="#666" stroke-width="0.042">30</text>
<line x1="452.3" y1="343" x2="450.8" y2="343" stroke="#888" stroke-width="0.35"/>
<text x="447.5" y="343.9" font-size="2.6" font-weight="bold" text-anchor="middle" fill="#666" stroke="#666" stroke-width="0.042">20</text>
<line x1="452.3" y1="350.9" x2="450.8" y2="350.9" stroke="#888" stroke-width="0.35"/>
<text x="447.5" y="351.8" font-size="2.6" font-weight="bold" text-anchor="middle" fill="#666" stroke="#666" stroke-width="0.042">10</text>
<line x1="452.3" y1="358.7" x2="450.8" y2="358.7" stroke="#888" stroke-width="0.35"/>
<text x="447.5" y="359.6" font-size="2.6" font-weight="bold" text-anchor="middle" fill="#666" stroke="#666" stroke-width="0.042">0</text>
<rect x="492.3" y="354.2" width="3.9" height="6.2" fill="#7accc6" stroke="#2f7f7a" stroke-width="0.45"/>
<rect x="496.2" y="341.9" width="3.8" height="18.5" fill="#7accc6" stroke="#2f7f7a" stroke-width="0.45"/>
<rect x="500" y="344.2" width="3.8" height="16.2" fill="#7accc6" stroke="#2f7f7a" stroke-width="0.45"/>
<rect x="482.5" y="332.8" width="28" height="27.6" fill="none" stroke="#b4b4b4" stroke-width="0.9"/>
<text x="496.5" y="339.2" font-size="5.0" font-weight="bold" text-anchor="middle" fill="#000" stroke="#000" stroke-width="0.080" textLength="23.2" lengthAdjust="spacingAndGlyphs">Fibrinogen</text>
<rect x="378.5" y="400" width="2.5" height="3" fill="#7accc6" stroke="#2f7f7a" stroke-width="0.45"/>
<rect x="381" y="394.9" width="4.1" height="8.1" fill="#7accc6" stroke="#2f7f7a" stroke-width="0.45"/>
<rect x="385.1" y="390.9" width="3.9" height="12.1" fill="#7accc6" stroke="#2f7f7a" stroke-width="0.45"/>
<rect x="389" y="386.6" width="4.4" height="16.4" fill="#7accc6" stroke="#2f7f7a" stroke-width="0.45"/>
<rect x="393.4" y="385.1" width="3.9" height="17.9" fill="#7accc6" stroke="#2f7f7a" stroke-width="0.45"/>
<rect x="397.3" y="383.6" width="4.4" height="19.4" fill="#7accc6" stroke="#2f7f7a" stroke-width="0.45"/>
<rect x="401.7" y="394.9" width="3.9" height="8.1" fill="#7accc6" stroke="#2f7f7a" stroke-width="0.45"/>
<rect x="378.4" y="375" width="27.6" height="28" fill="none" stroke="#b4b4b4" stroke-width="0.9"/>
<text x="392.2" y="382.3" font-size="5.1" font-weight="bold" text-anchor="middle" fill="#000" stroke="#000" stroke-width="0.082" textLength="13.2" lengthAdjust="spacingAndGlyphs">GPhL</text>
<rect x="408.6" y="375" width="28" height="28" fill="none" stroke="#b4b4b4" stroke-width="0.9"/>
<text x="423" y="390.81" font-size="5.3" font-weight="bold" text-anchor="middle" fill="#000" stroke="#000" stroke-width="0.085">0.43</text>
<text x="433.6" y="383.5" font-size="4.7" font-weight="bold" text-anchor="end" fill="#d07a85" stroke="#d07a85" stroke-width="0.076">***</text>
<line x1="413.8" y1="375" x2="413.8" y2="373.6" stroke="#888" stroke-width="0.35"/>
<text x="413.8" y="371.9" font-size="2.6" font-weight="bold" text-anchor="middle" fill="#666" stroke="#666" stroke-width="0.042">30</text>
<line x1="421.1" y1="375" x2="421.1" y2="373.6" stroke="#888" stroke-width="0.35"/>
<text x="421.1" y="371.9" font-size="2.6" font-weight="bold" text-anchor="middle" fill="#666" stroke="#666" stroke-width="0.042">40</text>
<line x1="428.8" y1="375" x2="428.8" y2="373.6" stroke="#888" stroke-width="0.35"/>
<text x="428.8" y="371.9" font-size="2.6" font-weight="bold" text-anchor="middle" fill="#666" stroke="#666" stroke-width="0.042">50</text>
<line x1="436.6" y1="379" x2="438.1" y2="379" stroke="#888" stroke-width="0.35"/>
<text x="441" y="379.9" font-size="2.6" font-weight="bold" text-anchor="middle" fill="#666" stroke="#666" stroke-width="0.042">6</text>
<line x1="436.6" y1="383.5" x2="438.1" y2="383.5" stroke="#888" stroke-width="0.35"/>
<text x="441" y="384.4" font-size="2.6" font-weight="bold" text-anchor="middle" fill="#666" stroke="#666" stroke-width="0.042">5</text>
<line x1="436.6" y1="387.5" x2="438.1" y2="387.5" stroke="#888" stroke-width="0.35"/>
<text x="441" y="388.4" font-size="2.6" font-weight="bold" text-anchor="middle" fill="#666" stroke="#666" stroke-width="0.042">4</text>
<line x1="436.6" y1="391.2" x2="438.1" y2="391.2" stroke="#888" stroke-width="0.35"/>
<text x="441" y="392.1" font-size="2.6" font-weight="bold" text-anchor="middle" fill="#666" stroke="#666" stroke-width="0.042">3</text>
<line x1="436.6" y1="399.9" x2="438.1" y2="399.9" stroke="#888" stroke-width="0.35"/>
<text x="441" y="400.8" font-size="2.6" font-weight="bold" text-anchor="middle" fill="#666" stroke="#666" stroke-width="0.042">2</text>
<rect x="378.4" y="405.6" width="27.6" height="27.6" fill="none" stroke="#b4b4b4" stroke-width="0.9"/>
<circle cx="388.25" cy="422.66" r="0.55" fill="none" stroke="#222" stroke-width="0.35"/>
<circle cx="401.49" cy="419.36" r="0.55" fill="none" stroke="#222" stroke-width="0.35"/>
<circle cx="386.3" cy="420.83" r="0.55" fill="none" stroke="#222" stroke-width="0.35"/>
<circle cx="387.36" cy="418.25" r="0.55" fill="none" stroke="#222" stroke-width="0.35"/>
<circle cx="399.11" cy="411.2" r="0.55" fill="none" stroke="#222" stroke-width="0.35"/>
<circle cx="387.06" cy="416.98" r="0.55" fill="none" stroke="#222" stroke-width="0.35"/>
<circle cx="389.16" cy="426.94" r="0.55" fill="none" stroke="#222" stroke-width="0.35"/>
<circle cx="396.43" cy="412.73" r="0.55" fill="none" stroke="#222" stroke-width="0.35"/>
<circle cx="380.73" cy="424.29" r="0.55" fill="none" stroke="#222" stroke-width="0.35"/>
<circle cx="401.93" cy="410.98" r="0.55" fill="none" stroke="#222" stroke-width="0.35"/>
<circle cx="400.68" cy="411.23" r="0.55" fill="none" stroke="#222" stroke-width="0.35"/>
<circle cx="399.33" cy="421.95" r="0.55" fill="none" stroke="#222" stroke-width="0.35"/>
<circle cx="403.5" cy="411.65" r="0.55" fill="none" stroke="#222" stroke-width="0.35"/>
<circle cx="401.5" cy="416.62" r="0.55" fill="none" stroke="#222" stroke-width="0.35"/>
<circle cx="393.73" cy="417.24" r="0.55" fill="none" stroke="#222" stroke-width="0.35"/>
<circle cx="392.41" cy="423.45" r="0.55" fill="none" stroke="#222" stroke-width="0.35"/>
<circle cx="390.87" cy="422.12" r="0.55" fill="none" stroke="#222" stroke-width="0.35"/>
<circle cx="384.33" cy="420.56" r="0.55" fill="none" stroke="#222" stroke-width="0.35"/>
<circle cx="400.88" cy="410.19" r="0.55" fill="none" stroke="#222" stroke-width="0.35"/>
<circle cx="398.2" cy="426.8" r="0.55" fill="none" stroke="#222" stroke-width="0.35"/>
<circle cx="395.24" cy="416.67" r="0.55" fill="none" stroke="#222" stroke-width="0.35"/>
<circle cx="397.9" cy="417.57" r="0.55" fill="none" stroke="#222" stroke-width="0.35"/>
<circle cx="392.73" cy="416.65" r="0.55" fill="none" stroke="#222" stroke-width="0.35"/>
<circle cx="394.54" cy="414.48" r="0.55" fill="none" stroke="#222" stroke-width="0.35"/>
<circle cx="388.1" cy="425.74" r="0.55" fill="none" stroke="#222" stroke-width="0.35"/>
<circle cx="391.62" cy="417.02" r="0.55" fill="none" stroke="#222" stroke-width="0.35"/>
<circle cx="384.73" cy="424.96" r="0.55" fill="none" stroke="#222" stroke-width="0.35"/>
<circle cx="387.64" cy="420.27" r="0.55" fill="none" stroke="#222" stroke-width="0.35"/>
<circle cx="386.54" cy="422.09" r="0.55" fill="none" stroke="#222" stroke-width="0.35"/>
<circle cx="397.36" cy="414.38" r="0.55" fill="none" stroke="#222" stroke-width="0.35"/>
<circle cx="403.58" cy="417.6" r="0.55" fill="none" stroke="#222" stroke-width="0.35"/>
<circle cx="403.17" cy="408.43" r="0.55" fill="none" stroke="#222" stroke-width="0.35"/>
<circle cx="381.89" cy="418.56" r="0.55" fill="none" stroke="#222" stroke-width="0.35"/>
<circle cx="401.26" cy="408.33" r="0.55" fill="none" stroke="#222" stroke-width="0.35"/>
<circle cx="397.09" cy="413.4" r="0.55" fill="none" stroke="#222" stroke-width="0.35"/>
<circle cx="401.87" cy="409.69" r="0.55" fill="none" stroke="#222" stroke-width="0.35"/>
<circle cx="402.23" cy="412.23" r="0.55" fill="none" stroke="#222" stroke-width="0.35"/>
<circle cx="401.58" cy="416.14" r="0.55" fill="none" stroke="#222" stroke-width="0.35"/>
<circle cx="391.12" cy="419.18" r="0.55" fill="none" stroke="#222" stroke-width="0.35"/>
<circle cx="403.93" cy="414.52" r="0.55" fill="none" stroke="#222" stroke-width="0.35"/>
<circle cx="396.32" cy="416.6" r="0.55" fill="none" stroke="#222" stroke-width="0.35"/>
<circle cx="396.62" cy="418.8" r="0.55" fill="none" stroke="#222" stroke-width="0.35"/>
<circle cx="395.83" cy="419.67" r="0.55" fill="none" stroke="#222" stroke-width="0.35"/>
<circle cx="398.98" cy="416.92" r="0.55" fill="none" stroke="#222" stroke-width="0.35"/>
<circle cx="390.31" cy="419.82" r="0.55" fill="none" stroke="#222" stroke-width="0.35"/>
<circle cx="398.05" cy="412.84" r="0.55" fill="none" stroke="#222" stroke-width="0.35"/>
<circle cx="384.18" cy="421.94" r="0.55" fill="none" stroke="#222" stroke-width="0.35"/>
<circle cx="397.19" cy="414.11" r="0.55" fill="none" stroke="#222" stroke-width="0.35"/>
<circle cx="395.28" cy="417.76" r="0.55" fill="none" stroke="#222" stroke-width="0.35"/>
<circle cx="392.65" cy="418.26" r="0.55" fill="none" stroke="#222" stroke-width="0.35"/>
<circle cx="390.35" cy="418.82" r="0.55" fill="none" stroke="#222" stroke-width="0.35"/>
<circle cx="404.46" cy="411.86" r="0.55" fill="none" stroke="#222" stroke-width="0.35"/>
<circle cx="384.46" cy="423.09" r="0.55" fill="none" stroke="#222" stroke-width="0.35"/>
<circle cx="396.19" cy="413.04" r="0.55" fill="none" stroke="#222" stroke-width="0.35"/>
<circle cx="383.08" cy="426.66" r="0.55" fill="none" stroke="#222" stroke-width="0.35"/>
<line x1="378.9" y1="424.32" x2="405.5" y2="412.02" stroke="#333" stroke-width="0.45"/>
<line x1="381.7" y1="433.2" x2="381.7" y2="434.6" stroke="#888" stroke-width="0.35"/>
<text x="381.7" y="438.6" font-size="2.6" font-weight="bold" text-anchor="middle" fill="#666" stroke="#666" stroke-width="0.042">2</text>
<line x1="390.2" y1="433.2" x2="390.2" y2="434.6" stroke="#888" stroke-width="0.35"/>
<text x="390.2" y="438.6" font-size="2.6" font-weight="bold" text-anchor="middle" fill="#666" stroke="#666" stroke-width="0.042">4</text>
<line x1="393.9" y1="433.2" x2="393.9" y2="434.6" stroke="#888" stroke-width="0.35"/>
<text x="393.9" y="438.6" font-size="2.6" font-weight="bold" text-anchor="middle" fill="#666" stroke="#666" stroke-width="0.042">6</text>
<line x1="397.8" y1="433.2" x2="397.8" y2="434.6" stroke="#888" stroke-width="0.35"/>
<text x="397.8" y="438.6" font-size="2.6" font-weight="bold" text-anchor="middle" fill="#666" stroke="#666" stroke-width="0.042">8</text>
<line x1="402" y1="433.2" x2="402" y2="434.6" stroke="#888" stroke-width="0.35"/>
<text x="402" y="438.6" font-size="2.6" font-weight="bold" text-anchor="middle" fill="#666" stroke="#666" stroke-width="0.042">10</text>
<line x1="378.4" y1="408.2" x2="376.9" y2="408.2" stroke="#888" stroke-width="0.35"/>
<text x="373.6" y="409.1" font-size="2.6" font-weight="bold" text-anchor="middle" fill="#666" stroke="#666" stroke-width="0.042">40</text>
<line x1="378.4" y1="412.3" x2="376.9" y2="412.3" stroke="#888" stroke-width="0.35"/>
<text x="373.6" y="413.2" font-size="2.6" font-weight="bold" text-anchor="middle" fill="#666" stroke="#666" stroke-width="0.042">30</text>
<line x1="378.4" y1="415.8" x2="376.9" y2="415.8" stroke="#888" stroke-width="0.35"/>
<text x="373.6" y="416.7" font-size="2.6" font-weight="bold" text-anchor="middle" fill="#666" stroke="#666" stroke-width="0.042">20</text>
<line x1="378.4" y1="423.7" x2="376.9" y2="423.7" stroke="#888" stroke-width="0.35"/>
<text x="373.6" y="424.6" font-size="2.6" font-weight="bold" text-anchor="middle" fill="#666" stroke="#666" stroke-width="0.042">10</text>
<line x1="378.4" y1="431.5" x2="376.9" y2="431.5" stroke="#888" stroke-width="0.35"/>
<text x="373.6" y="432.4" font-size="2.6" font-weight="bold" text-anchor="middle" fill="#666" stroke="#666" stroke-width="0.042">0</text>
<rect x="408.7" y="431.7" width="7.3" height="1.5" fill="#7accc6" stroke="#2f7f7a" stroke-width="0.45"/>
<rect x="416" y="429.1" width="3.6" height="4.1" fill="#7accc6" stroke="#2f7f7a" stroke-width="0.45"/>
<rect x="419.6" y="420.8" width="3.4" height="12.4" fill="#7accc6" stroke="#2f7f7a" stroke-width="0.45"/>
<rect x="423" y="424.7" width="2.9" height="8.5" fill="#7accc6" stroke="#2f7f7a" stroke-width="0.45"/>
<rect x="425.9" y="416.4" width="3.2" height="16.8" fill="#7accc6" stroke="#2f7f7a" stroke-width="0.45"/>
<rect x="429.1" y="414.2" width="3.2" height="19" fill="#7accc6" stroke="#2f7f7a" stroke-width="0.45"/>
<rect x="432.3" y="423" width="3.8" height="10.2" fill="#7accc6" stroke="#2f7f7a" stroke-width="0.45"/>
<rect x="408.6" y="405.6" width="28" height="27.6" fill="none" stroke="#b4b4b4" stroke-width="0.9"/>
<text x="422.6" y="412" font-size="5.0" font-weight="bold" text-anchor="middle" fill="#000" stroke="#000" stroke-width="0.080" textLength="9.2" lengthAdjust="spacingAndGlyphs">ALB</text>
<rect x="452.4" y="400.1" width="2.5" height="2.9" fill="#7accc6" stroke="#2f7f7a" stroke-width="0.45"/>
<rect x="454.9" y="395" width="4.3" height="8" fill="#7accc6" stroke="#2f7f7a" stroke-width="0.45"/>
<rect x="459.2" y="391.2" width="4.2" height="11.8" fill="#7accc6" stroke="#2f7f7a" stroke-width="0.45"/>
<rect x="463.4" y="386.5" width="4.3" height="16.5" fill="#7accc6" stroke="#2f7f7a" stroke-width="0.45"/>
<rect x="467.7" y="385" width="4.1" height="18" fill="#7accc6" stroke="#2f7f7a" stroke-width="0.45"/>
<rect x="471.8" y="384.2" width="4.4" height="18.8" fill="#7accc6" stroke="#2f7f7a" stroke-width="0.45"/>
<rect x="476.2" y="395" width="4.2" height="8" fill="#7accc6" stroke="#2f7f7a" stroke-width="0.45"/>
<rect x="452.3" y="375" width="27.6" height="28" fill="none" stroke="#b4b4b4" stroke-width="0.9"/>
<text x="466.1" y="382.3" font-size="5.1" font-weight="bold" text-anchor="middle" fill="#000" stroke="#000" stroke-width="0.082" textLength="13.2" lengthAdjust="spacingAndGlyphs">GPhL</text>
<rect x="482.5" y="375" width="28" height="28" fill="none" stroke="#b4b4b4" stroke-width="0.9"/>
<text x="496.9" y="391.1" font-size="6.1" font-weight="bold" text-anchor="middle" fill="#000" stroke="#000" stroke-width="0.098">0.57</text>
<text x="507.5" y="383.5" font-size="4.7" font-weight="bold" text-anchor="end" fill="#d07a85" stroke="#d07a85" stroke-width="0.076">***</text>
<line x1="484.8" y1="375" x2="484.8" y2="373.6" stroke="#888" stroke-width="0.35"/>
<text x="484.8" y="371.9" font-size="2.6" font-weight="bold" text-anchor="middle" fill="#666" stroke="#666" stroke-width="0.042">3</text>
<line x1="493" y1="375" x2="493" y2="373.6" stroke="#888" stroke-width="0.35"/>
<text x="493" y="371.9" font-size="2.6" font-weight="bold" text-anchor="middle" fill="#666" stroke="#666" stroke-width="0.042">4</text>
<line x1="501.4" y1="375" x2="501.4" y2="373.6" stroke="#888" stroke-width="0.35"/>
<text x="501.4" y="371.9" font-size="2.6" font-weight="bold" text-anchor="middle" fill="#666" stroke="#666" stroke-width="0.042">5</text>
<line x1="509.9" y1="375" x2="509.9" y2="373.6" stroke="#888" stroke-width="0.35"/>
<text x="509.9" y="371.9" font-size="2.6" font-weight="bold" text-anchor="middle" fill="#666" stroke="#666" stroke-width="0.042">6</text>
<line x1="510.5" y1="379" x2="512" y2="379" stroke="#888" stroke-width="0.35"/>
<text x="514.9" y="379.9" font-size="2.6" font-weight="bold" text-anchor="middle" fill="#666" stroke="#666" stroke-width="0.042">6</text>
<line x1="510.5" y1="383.5" x2="512" y2="383.5" stroke="#888" stroke-width="0.35"/>
<text x="514.9" y="384.4" font-size="2.6" font-weight="bold" text-anchor="middle" fill="#666" stroke="#666" stroke-width="0.042">5</text>
<line x1="510.5" y1="387.5" x2="512" y2="387.5" stroke="#888" stroke-width="0.35"/>
<text x="514.9" y="388.4" font-size="2.6" font-weight="bold" text-anchor="middle" fill="#666" stroke="#666" stroke-width="0.042">4</text>
<line x1="510.5" y1="391.2" x2="512" y2="391.2" stroke="#888" stroke-width="0.35"/>
<text x="514.9" y="392.1" font-size="2.6" font-weight="bold" text-anchor="middle" fill="#666" stroke="#666" stroke-width="0.042">3</text>
<line x1="510.5" y1="399.9" x2="512" y2="399.9" stroke="#888" stroke-width="0.35"/>
<text x="514.9" y="400.8" font-size="2.6" font-weight="bold" text-anchor="middle" fill="#666" stroke="#666" stroke-width="0.042">2</text>
<rect x="452.3" y="405.6" width="27.6" height="27.6" fill="none" stroke="#b4b4b4" stroke-width="0.9"/>
<circle cx="457.91" cy="424.76" r="0.55" fill="none" stroke="#222" stroke-width="0.35"/>
<circle cx="477.22" cy="416.97" r="0.55" fill="none" stroke="#222" stroke-width="0.35"/>
<circle cx="462.46" cy="420.59" r="0.55" fill="none" stroke="#222" stroke-width="0.35"/>
<circle cx="471.41" cy="408.58" r="0.55" fill="none" stroke="#222" stroke-width="0.35"/>
<circle cx="463.26" cy="421.46" r="0.55" fill="none" stroke="#222" stroke-width="0.35"/>
<circle cx="473.91" cy="417.11" r="0.55" fill="none" stroke="#222" stroke-width="0.35"/>
<circle cx="458.26" cy="421.46" r="0.55" fill="none" stroke="#222" stroke-width="0.35"/>
<circle cx="464.62" cy="410.71" r="0.55" fill="none" stroke="#222" stroke-width="0.35"/>
<circle cx="462.18" cy="418.66" r="0.55" fill="none" stroke="#222" stroke-width="0.35"/>
<circle cx="459.18" cy="427.56" r="0.55" fill="none" stroke="#222" stroke-width="0.35"/>
<circle cx="469.08" cy="417.6" r="0.55" fill="none" stroke="#222" stroke-width="0.35"/>
<circle cx="471.27" cy="417.1" r="0.55" fill="none" stroke="#222" stroke-width="0.35"/>
<circle cx="458.4" cy="423.64" r="0.55" fill="none" stroke="#222" stroke-width="0.35"/>
<circle cx="460.71" cy="420" r="0.55" fill="none" stroke="#222" stroke-width="0.35"/>
<circle cx="477.97" cy="420.92" r="0.55" fill="none" stroke="#222" stroke-width="0.35"/>
<circle cx="466.52" cy="411.09" r="0.55" fill="none" stroke="#222" stroke-width="0.35"/>
<circle cx="470.31" cy="411.47" r="0.55" fill="none" stroke="#222" stroke-width="0.35"/>
<circle cx="458.05" cy="427.3" r="0.55" fill="none" stroke="#222" stroke-width="0.35"/>
<circle cx="469.91" cy="417.55" r="0.55" fill="none" stroke="#222" stroke-width="0.35"/>
<circle cx="457.53" cy="425.16" r="0.55" fill="none" stroke="#222" stroke-width="0.35"/>
<circle cx="475.9" cy="414.86" r="0.55" fill="none" stroke="#222" stroke-width="0.35"/>
<circle cx="466.85" cy="417.95" r="0.55" fill="none" stroke="#222" stroke-width="0.35"/>
<circle cx="461.08" cy="419.8" r="0.55" fill="none" stroke="#222" stroke-width="0.35"/>
<circle cx="457.77" cy="427.59" r="0.55" fill="none" stroke="#222" stroke-width="0.35"/>
<circle cx="474.75" cy="410.28" r="0.55" fill="none" stroke="#222" stroke-width="0.35"/>
<circle cx="455.21" cy="423" r="0.55" fill="none" stroke="#222" stroke-width="0.35"/>
<circle cx="473.14" cy="410.32" r="0.55" fill="none" stroke="#222" stroke-width="0.35"/>
<circle cx="457.48" cy="420.19" r="0.55" fill="none" stroke="#222" stroke-width="0.35"/>
<circle cx="467.48" cy="419.26" r="0.55" fill="none" stroke="#222" stroke-width="0.35"/>
<circle cx="466.91" cy="422.16" r="0.55" fill="none" stroke="#222" stroke-width="0.35"/>
<circle cx="467.59" cy="422.16" r="0.55" fill="none" stroke="#222" stroke-width="0.35"/>
<circle cx="457.54" cy="421.27" r="0.55" fill="none" stroke="#222" stroke-width="0.35"/>
<circle cx="467.35" cy="416.74" r="0.55" fill="none" stroke="#222" stroke-width="0.35"/>
<circle cx="477.19" cy="408.33" r="0.55" fill="none" stroke="#222" stroke-width="0.35"/>
<circle cx="456.61" cy="420.05" r="0.55" fill="none" stroke="#222" stroke-width="0.35"/>
<circle cx="469.52" cy="411.31" r="0.55" fill="none" stroke="#222" stroke-width="0.35"/>
<circle cx="454.84" cy="427.57" r="0.55" fill="none" stroke="#222" stroke-width="0.35"/>
<circle cx="466.16" cy="427.2" r="0.55" fill="none" stroke="#222" stroke-width="0.35"/>
<circle cx="464.36" cy="427.65" r="0.55" fill="none" stroke="#222" stroke-width="0.35"/>
<circle cx="462.26" cy="424.4" r="0.55" fill="none" stroke="#222" stroke-width="0.35"/>
<circle cx="463.25" cy="417.8" r="0.55" fill="none" stroke="#222" stroke-width="0.35"/>
<circle cx="467.23" cy="412.36" r="0.55" fill="none" stroke="#222" stroke-width="0.35"/>
<circle cx="462.07" cy="421.38" r="0.55" fill="none" stroke="#222" stroke-width="0.35"/>
<circle cx="463.5" cy="419.05" r="0.55" fill="none" stroke="#222" stroke-width="0.35"/>
<circle cx="478.06" cy="413.74" r="0.55" fill="none" stroke="#222" stroke-width="0.35"/>
<circle cx="477.13" cy="413.2" r="0.55" fill="none" stroke="#222" stroke-width="0.35"/>
<circle cx="464.62" cy="419.07" r="0.55" fill="none" stroke="#222" stroke-width="0.35"/>
<circle cx="459.08" cy="421.33" r="0.55" fill="none" stroke="#222" stroke-width="0.35"/>
<circle cx="460.56" cy="420.49" r="0.55" fill="none" stroke="#222" stroke-width="0.35"/>
<circle cx="462.29" cy="412.52" r="0.55" fill="none" stroke="#222" stroke-width="0.35"/>
<circle cx="461.88" cy="427.68" r="0.55" fill="none" stroke="#222" stroke-width="0.35"/>
<circle cx="462.97" cy="425.38" r="0.55" fill="none" stroke="#222" stroke-width="0.35"/>
<circle cx="473.58" cy="417.11" r="0.55" fill="none" stroke="#222" stroke-width="0.35"/>
<circle cx="470.06" cy="412.09" r="0.55" fill="none" stroke="#222" stroke-width="0.35"/>
<circle cx="477.26" cy="411.26" r="0.55" fill="none" stroke="#222" stroke-width="0.35"/>
<line x1="452.8" y1="425.55" x2="479.4" y2="410.79" stroke="#333" stroke-width="0.45"/>
<line x1="455.6" y1="433.2" x2="455.6" y2="434.6" stroke="#888" stroke-width="0.35"/>
<text x="455.6" y="438.6" font-size="2.6" font-weight="bold" text-anchor="middle" fill="#666" stroke="#666" stroke-width="0.042">2</text>
<line x1="464.1" y1="433.2" x2="464.1" y2="434.6" stroke="#888" stroke-width="0.35"/>
<text x="464.1" y="438.6" font-size="2.6" font-weight="bold" text-anchor="middle" fill="#666" stroke="#666" stroke-width="0.042">4</text>
<line x1="467.8" y1="433.2" x2="467.8" y2="434.6" stroke="#888" stroke-width="0.35"/>
<text x="467.8" y="438.6" font-size="2.6" font-weight="bold" text-anchor="middle" fill="#666" stroke="#666" stroke-width="0.042">6</text>
<line x1="471.7" y1="433.2" x2="471.7" y2="434.6" stroke="#888" stroke-width="0.35"/>
<text x="471.7" y="438.6" font-size="2.6" font-weight="bold" text-anchor="middle" fill="#666" stroke="#666" stroke-width="0.042">8</text>
<line x1="475.9" y1="433.2" x2="475.9" y2="434.6" stroke="#888" stroke-width="0.35"/>
<text x="475.9" y="438.6" font-size="2.6" font-weight="bold" text-anchor="middle" fill="#666" stroke="#666" stroke-width="0.042">10</text>
<line x1="452.3" y1="408.2" x2="450.8" y2="408.2" stroke="#888" stroke-width="0.35"/>
<text x="447.5" y="409.1" font-size="2.6" font-weight="bold" text-anchor="middle" fill="#666" stroke="#666" stroke-width="0.042">40</text>
<line x1="452.3" y1="412.3" x2="450.8" y2="412.3" stroke="#888" stroke-width="0.35"/>
<text x="447.5" y="413.2" font-size="2.6" font-weight="bold" text-anchor="middle" fill="#666" stroke="#666" stroke-width="0.042">30</text>
<line x1="452.3" y1="415.8" x2="450.8" y2="415.8" stroke="#888" stroke-width="0.35"/>
<text x="447.5" y="416.7" font-size="2.6" font-weight="bold" text-anchor="middle" fill="#666" stroke="#666" stroke-width="0.042">20</text>
<line x1="452.3" y1="423.7" x2="450.8" y2="423.7" stroke="#888" stroke-width="0.35"/>
<text x="447.5" y="424.6" font-size="2.6" font-weight="bold" text-anchor="middle" fill="#666" stroke="#666" stroke-width="0.042">10</text>
<line x1="452.3" y1="431.5" x2="450.8" y2="431.5" stroke="#888" stroke-width="0.35"/>
<text x="447.5" y="432.4" font-size="2.6" font-weight="bold" text-anchor="middle" fill="#666" stroke="#666" stroke-width="0.042">0</text>
<rect x="483.1" y="429.3" width="3.1" height="3.9" fill="#7accc6" stroke="#2f7f7a" stroke-width="0.45"/>
<rect x="486.2" y="427.8" width="3.3" height="5.4" fill="#7accc6" stroke="#2f7f7a" stroke-width="0.45"/>
<rect x="489.5" y="425.8" width="3.6" height="7.4" fill="#7accc6" stroke="#2f7f7a" stroke-width="0.45"/>
<rect x="493.1" y="419.6" width="3.5" height="13.6" fill="#7accc6" stroke="#2f7f7a" stroke-width="0.45"/>
<rect x="496.6" y="414.5" width="3.4" height="18.7" fill="#7accc6" stroke="#2f7f7a" stroke-width="0.45"/>
<rect x="500" y="420.7" width="3.4" height="12.5" fill="#7accc6" stroke="#2f7f7a" stroke-width="0.45"/>
<rect x="503.4" y="430.4" width="3.5" height="2.8" fill="#7accc6" stroke="#2f7f7a" stroke-width="0.45"/>
<rect x="506.9" y="430.8" width="3.6" height="2.4" fill="#7accc6" stroke="#2f7f7a" stroke-width="0.45"/>
<rect x="482.5" y="405.6" width="28" height="27.6" fill="none" stroke="#b4b4b4" stroke-width="0.9"/>
<text x="496.5" y="412" font-size="5.0" font-weight="bold" text-anchor="middle" fill="#000" stroke="#000" stroke-width="0.080" textLength="13.8" lengthAdjust="spacingAndGlyphs">CHOL</text>
<rect x="378.4" y="472" width="2.9" height="3.1" fill="#7accc6" stroke="#2f7f7a" stroke-width="0.45"/>
<rect x="381.3" y="467.3" width="3.9" height="7.8" fill="#7accc6" stroke="#2f7f7a" stroke-width="0.45"/>
<rect x="385.2" y="463.4" width="3.9" height="11.7" fill="#7accc6" stroke="#2f7f7a" stroke-width="0.45"/>
<rect x="389.1" y="458.8" width="4.3" height="16.3" fill="#7accc6" stroke="#2f7f7a" stroke-width="0.45"/>
<rect x="393.4" y="457.5" width="4.2" height="17.6" fill="#7accc6" stroke="#2f7f7a" stroke-width="0.45"/>
<rect x="397.6" y="456" width="4.2" height="19.1" fill="#7accc6" stroke="#2f7f7a" stroke-width="0.45"/>
<rect x="401.8" y="467.3" width="4" height="7.8" fill="#7accc6" stroke="#2f7f7a" stroke-width="0.45"/>
<rect x="378.3" y="447.1" width="27.6" height="28" fill="none" stroke="#b4b4b4" stroke-width="0.9"/>
<text x="392.1" y="454.4" font-size="5.1" font-weight="bold" text-anchor="middle" fill="#000" stroke="#000" stroke-width="0.082" textLength="13.2" lengthAdjust="spacingAndGlyphs">GPhL</text>
<rect x="408.5" y="447.1" width="28" height="28" fill="none" stroke="#b4b4b4" stroke-width="0.9"/>
<text x="422.9" y="463.41" font-size="6.7" font-weight="bold" text-anchor="middle" fill="#000" stroke="#000" stroke-width="0.108">0.60</text>
<text x="433.5" y="455.6" font-size="4.7" font-weight="bold" text-anchor="end" fill="#d07a85" stroke="#d07a85" stroke-width="0.076">***</text>
<line x1="410" y1="447.1" x2="410" y2="445.7" stroke="#888" stroke-width="0.35"/>
<text x="410" y="444" font-size="2.6" font-weight="bold" text-anchor="middle" fill="#666" stroke="#666" stroke-width="0.042">1.0</text>
<line x1="421.6" y1="447.1" x2="421.6" y2="445.7" stroke="#888" stroke-width="0.35"/>
<text x="421.6" y="444" font-size="2.6" font-weight="bold" text-anchor="middle" fill="#666" stroke="#666" stroke-width="0.042">1.5</text>
<line x1="431.7" y1="447.1" x2="431.7" y2="445.7" stroke="#888" stroke-width="0.35"/>
<text x="431.7" y="444" font-size="2.6" font-weight="bold" text-anchor="middle" fill="#666" stroke="#666" stroke-width="0.042">2.0</text>
<line x1="436.5" y1="451.1" x2="438" y2="451.1" stroke="#888" stroke-width="0.35"/>
<text x="440.9" y="452" font-size="2.6" font-weight="bold" text-anchor="middle" fill="#666" stroke="#666" stroke-width="0.042">6</text>
<line x1="436.5" y1="455.6" x2="438" y2="455.6" stroke="#888" stroke-width="0.35"/>
<text x="440.9" y="456.5" font-size="2.6" font-weight="bold" text-anchor="middle" fill="#666" stroke="#666" stroke-width="0.042">5</text>
<line x1="436.5" y1="459.6" x2="438" y2="459.6" stroke="#888" stroke-width="0.35"/>
<text x="440.9" y="460.5" font-size="2.6" font-weight="bold" text-anchor="middle" fill="#666" stroke="#666" stroke-width="0.042">4</text>
<line x1="436.5" y1="463.3" x2="438" y2="463.3" stroke="#888" stroke-width="0.35"/>
<text x="440.9" y="464.2" font-size="2.6" font-weight="bold" text-anchor="middle" fill="#666" stroke="#666" stroke-width="0.042">3</text>
<line x1="436.5" y1="472" x2="438" y2="472" stroke="#888" stroke-width="0.35"/>
<text x="440.9" y="472.9" font-size="2.6" font-weight="bold" text-anchor="middle" fill="#666" stroke="#666" stroke-width="0.042">2</text>
<rect x="378.3" y="477.7" width="27.6" height="27.6" fill="none" stroke="#b4b4b4" stroke-width="0.9"/>
<circle cx="403.71" cy="480.43" r="0.55" fill="none" stroke="#222" stroke-width="0.35"/>
<circle cx="385.42" cy="494.17" r="0.55" fill="none" stroke="#222" stroke-width="0.35"/>
<circle cx="404.13" cy="480.43" r="0.55" fill="none" stroke="#222" stroke-width="0.35"/>
<circle cx="397.9" cy="485.7" r="0.55" fill="none" stroke="#222" stroke-width="0.35"/>
<circle cx="401.55" cy="481.4" r="0.55" fill="none" stroke="#222" stroke-width="0.35"/>
<circle cx="390.13" cy="491.55" r="0.55" fill="none" stroke="#222" stroke-width="0.35"/>
<circle cx="398.47" cy="486.68" r="0.55" fill="none" stroke="#222" stroke-width="0.35"/>
<circle cx="387.35" cy="490.52" r="0.55" fill="none" stroke="#222" stroke-width="0.35"/>
<circle cx="401.56" cy="480.43" r="0.55" fill="none" stroke="#222" stroke-width="0.35"/>
<circle cx="387.22" cy="498.12" r="0.55" fill="none" stroke="#222" stroke-width="0.35"/>
<circle cx="402.91" cy="485.91" r="0.55" fill="none" stroke="#222" stroke-width="0.35"/>
<circle cx="392.91" cy="489.93" r="0.55" fill="none" stroke="#222" stroke-width="0.35"/>
<circle cx="392.09" cy="486.09" r="0.55" fill="none" stroke="#222" stroke-width="0.35"/>
<circle cx="390.66" cy="488.94" r="0.55" fill="none" stroke="#222" stroke-width="0.35"/>
<circle cx="395.48" cy="483.26" r="0.55" fill="none" stroke="#222" stroke-width="0.35"/>
<circle cx="391.74" cy="492.76" r="0.55" fill="none" stroke="#222" stroke-width="0.35"/>
<circle cx="401.68" cy="480.43" r="0.55" fill="none" stroke="#222" stroke-width="0.35"/>
<circle cx="403.31" cy="483.11" r="0.55" fill="none" stroke="#222" stroke-width="0.35"/>
<circle cx="380.82" cy="496.16" r="0.55" fill="none" stroke="#222" stroke-width="0.35"/>
<circle cx="403.17" cy="481.32" r="0.55" fill="none" stroke="#222" stroke-width="0.35"/>
<circle cx="398.09" cy="486.96" r="0.55" fill="none" stroke="#222" stroke-width="0.35"/>
<circle cx="393.82" cy="492.13" r="0.55" fill="none" stroke="#222" stroke-width="0.35"/>
<circle cx="402.15" cy="482.25" r="0.55" fill="none" stroke="#222" stroke-width="0.35"/>
<circle cx="381.95" cy="495.79" r="0.55" fill="none" stroke="#222" stroke-width="0.35"/>
<circle cx="393.22" cy="487.02" r="0.55" fill="none" stroke="#222" stroke-width="0.35"/>
<circle cx="391.65" cy="494.52" r="0.55" fill="none" stroke="#222" stroke-width="0.35"/>
<circle cx="393.98" cy="485.19" r="0.55" fill="none" stroke="#222" stroke-width="0.35"/>
<circle cx="390.51" cy="483.2" r="0.55" fill="none" stroke="#222" stroke-width="0.35"/>
<circle cx="387.53" cy="495.83" r="0.55" fill="none" stroke="#222" stroke-width="0.35"/>
<circle cx="389.64" cy="485.48" r="0.55" fill="none" stroke="#222" stroke-width="0.35"/>
<circle cx="402.51" cy="485.56" r="0.55" fill="none" stroke="#222" stroke-width="0.35"/>
<circle cx="382.87" cy="492.86" r="0.55" fill="none" stroke="#222" stroke-width="0.35"/>
<circle cx="402.56" cy="482.27" r="0.55" fill="none" stroke="#222" stroke-width="0.35"/>
<circle cx="384.17" cy="499.43" r="0.55" fill="none" stroke="#222" stroke-width="0.35"/>
<circle cx="393.76" cy="494.22" r="0.55" fill="none" stroke="#222" stroke-width="0.35"/>
<circle cx="402.97" cy="480.43" r="0.55" fill="none" stroke="#222" stroke-width="0.35"/>
<circle cx="399.16" cy="485.93" r="0.55" fill="none" stroke="#222" stroke-width="0.35"/>
<circle cx="402.29" cy="482.6" r="0.55" fill="none" stroke="#222" stroke-width="0.35"/>
<circle cx="403.3" cy="480.62" r="0.55" fill="none" stroke="#222" stroke-width="0.35"/>
<circle cx="393.5" cy="485.72" r="0.55" fill="none" stroke="#222" stroke-width="0.35"/>
<circle cx="403.94" cy="481.31" r="0.55" fill="none" stroke="#222" stroke-width="0.35"/>
<circle cx="401.27" cy="483.96" r="0.55" fill="none" stroke="#222" stroke-width="0.35"/>
<circle cx="395.48" cy="494.29" r="0.55" fill="none" stroke="#222" stroke-width="0.35"/>
<circle cx="396" cy="486.23" r="0.55" fill="none" stroke="#222" stroke-width="0.35"/>
<circle cx="398.13" cy="486.4" r="0.55" fill="none" stroke="#222" stroke-width="0.35"/>
<circle cx="380.36" cy="496.34" r="0.55" fill="none" stroke="#222" stroke-width="0.35"/>
<circle cx="390.01" cy="493.78" r="0.55" fill="none" stroke="#222" stroke-width="0.35"/>
<circle cx="390.36" cy="494.3" r="0.55" fill="none" stroke="#222" stroke-width="0.35"/>
<circle cx="396.55" cy="488.76" r="0.55" fill="none" stroke="#222" stroke-width="0.35"/>
<circle cx="389.48" cy="496.74" r="0.55" fill="none" stroke="#222" stroke-width="0.35"/>
<circle cx="400.82" cy="482.15" r="0.55" fill="none" stroke="#222" stroke-width="0.35"/>
<circle cx="402.26" cy="491.08" r="0.55" fill="none" stroke="#222" stroke-width="0.35"/>
<circle cx="380.66" cy="499.37" r="0.55" fill="none" stroke="#222" stroke-width="0.35"/>
<circle cx="391.35" cy="493.74" r="0.55" fill="none" stroke="#222" stroke-width="0.35"/>
<circle cx="394.34" cy="487.09" r="0.55" fill="none" stroke="#222" stroke-width="0.35"/>
<line x1="378.8" y1="498.27" x2="405.4" y2="482.28" stroke="#333" stroke-width="0.45"/>
<line x1="381.6" y1="505.3" x2="381.6" y2="506.7" stroke="#888" stroke-width="0.35"/>
<text x="381.6" y="510.7" font-size="2.6" font-weight="bold" text-anchor="middle" fill="#666" stroke="#666" stroke-width="0.042">2</text>
<line x1="390.1" y1="505.3" x2="390.1" y2="506.7" stroke="#888" stroke-width="0.35"/>
<text x="390.1" y="510.7" font-size="2.6" font-weight="bold" text-anchor="middle" fill="#666" stroke="#666" stroke-width="0.042">4</text>
<line x1="393.8" y1="505.3" x2="393.8" y2="506.7" stroke="#888" stroke-width="0.35"/>
<text x="393.8" y="510.7" font-size="2.6" font-weight="bold" text-anchor="middle" fill="#666" stroke="#666" stroke-width="0.042">6</text>
<line x1="397.7" y1="505.3" x2="397.7" y2="506.7" stroke="#888" stroke-width="0.35"/>
<text x="397.7" y="510.7" font-size="2.6" font-weight="bold" text-anchor="middle" fill="#666" stroke="#666" stroke-width="0.042">8</text>
<line x1="401.9" y1="505.3" x2="401.9" y2="506.7" stroke="#888" stroke-width="0.35"/>
<text x="401.9" y="510.7" font-size="2.6" font-weight="bold" text-anchor="middle" fill="#666" stroke="#666" stroke-width="0.042">10</text>
<line x1="378.3" y1="480.3" x2="376.8" y2="480.3" stroke="#888" stroke-width="0.35"/>
<text x="373.5" y="481.2" font-size="2.6" font-weight="bold" text-anchor="middle" fill="#666" stroke="#666" stroke-width="0.042">40</text>
<line x1="378.3" y1="484.4" x2="376.8" y2="484.4" stroke="#888" stroke-width="0.35"/>
<text x="373.5" y="485.3" font-size="2.6" font-weight="bold" text-anchor="middle" fill="#666" stroke="#666" stroke-width="0.042">30</text>
<line x1="378.3" y1="487.9" x2="376.8" y2="487.9" stroke="#888" stroke-width="0.35"/>
<text x="373.5" y="488.8" font-size="2.6" font-weight="bold" text-anchor="middle" fill="#666" stroke="#666" stroke-width="0.042">20</text>
<line x1="378.3" y1="495.8" x2="376.8" y2="495.8" stroke="#888" stroke-width="0.35"/>
<text x="373.5" y="496.7" font-size="2.6" font-weight="bold" text-anchor="middle" fill="#666" stroke="#666" stroke-width="0.042">10</text>
<line x1="378.3" y1="503.6" x2="376.8" y2="503.6" stroke="#888" stroke-width="0.35"/>
<text x="373.5" y="504.5" font-size="2.6" font-weight="bold" text-anchor="middle" fill="#666" stroke="#666" stroke-width="0.042">0</text>
<rect x="409.3" y="502.1" width="5.7" height="3.2" fill="#7accc6" stroke="#2f7f7a" stroke-width="0.45"/>
<rect x="415" y="488.1" width="5.9" height="17.2" fill="#7accc6" stroke="#2f7f7a" stroke-width="0.45"/>
<rect x="420.9" y="486.2" width="5.9" height="19.1" fill="#7accc6" stroke="#2f7f7a" stroke-width="0.45"/>
<rect x="426.8" y="494.8" width="5.7" height="10.5" fill="#7accc6" stroke="#2f7f7a" stroke-width="0.45"/>
<rect x="408.5" y="477.7" width="28" height="27.6" fill="none" stroke="#b4b4b4" stroke-width="0.9"/>
<text x="422.5" y="484.1" font-size="5.0" font-weight="bold" text-anchor="middle" fill="#000" stroke="#000" stroke-width="0.080" textLength="10.4" lengthAdjust="spacingAndGlyphs">HDL</text>
<rect x="452.2" y="472" width="2.9" height="3.1" fill="#7accc6" stroke="#2f7f7a" stroke-width="0.45"/>
<rect x="455.1" y="466.8" width="4" height="8.3" fill="#7accc6" stroke="#2f7f7a" stroke-width="0.45"/>
<rect x="459.1" y="463.3" width="4.2" height="11.8" fill="#7accc6" stroke="#2f7f7a" stroke-width="0.45"/>
<rect x="463.3" y="458.6" width="4.2" height="16.5" fill="#7accc6" stroke="#2f7f7a" stroke-width="0.45"/>
<rect x="467.5" y="457.2" width="4" height="17.9" fill="#7accc6" stroke="#2f7f7a" stroke-width="0.45"/>
<rect x="471.5" y="456" width="4.2" height="19.1" fill="#7accc6" stroke="#2f7f7a" stroke-width="0.45"/>
<rect x="475.7" y="466.8" width="3.9" height="8.3" fill="#7accc6" stroke="#2f7f7a" stroke-width="0.45"/>
<rect x="452.1" y="447.1" width="27.6" height="28" fill="none" stroke="#b4b4b4" stroke-width="0.9"/>
<text x="465.9" y="454.4" font-size="5.1" font-weight="bold" text-anchor="middle" fill="#000" stroke="#000" stroke-width="0.082" textLength="13.2" lengthAdjust="spacingAndGlyphs">GPhL</text>
<rect x="482.3" y="447.1" width="28" height="28" fill="none" stroke="#b4b4b4" stroke-width="0.9"/>
<text x="496.7" y="462.58" font-size="4.4" font-weight="bold" text-anchor="middle" fill="#000" stroke="#000" stroke-width="0.071">0.38</text>
<text x="507.3" y="455.6" font-size="4.7" font-weight="bold" text-anchor="end" fill="#d07a85" stroke="#d07a85" stroke-width="0.076">**</text>
<line x1="484.2" y1="447.1" x2="484.2" y2="445.7" stroke="#888" stroke-width="0.35"/>
<text x="484.2" y="444" font-size="2.6" font-weight="bold" text-anchor="middle" fill="#666" stroke="#666" stroke-width="0.042">2.0</text>
<line x1="495" y1="447.1" x2="495" y2="445.7" stroke="#888" stroke-width="0.35"/>
<text x="495" y="444" font-size="2.6" font-weight="bold" text-anchor="middle" fill="#666" stroke="#666" stroke-width="0.042">4.0</text>
<line x1="505.9" y1="447.1" x2="505.9" y2="445.7" stroke="#888" stroke-width="0.35"/>
<text x="505.9" y="444" font-size="2.6" font-weight="bold" text-anchor="middle" fill="#666" stroke="#666" stroke-width="0.042">6.0</text>
<line x1="510.3" y1="451.1" x2="511.8" y2="451.1" stroke="#888" stroke-width="0.35"/>
<text x="514.7" y="452" font-size="2.6" font-weight="bold" text-anchor="middle" fill="#666" stroke="#666" stroke-width="0.042">6</text>
<line x1="510.3" y1="455.6" x2="511.8" y2="455.6" stroke="#888" stroke-width="0.35"/>
<text x="514.7" y="456.5" font-size="2.6" font-weight="bold" text-anchor="middle" fill="#666" stroke="#666" stroke-width="0.042">5</text>
<line x1="510.3" y1="459.6" x2="511.8" y2="459.6" stroke="#888" stroke-width="0.35"/>
<text x="514.7" y="460.5" font-size="2.6" font-weight="bold" text-anchor="middle" fill="#666" stroke="#666" stroke-width="0.042">4</text>
<line x1="510.3" y1="463.3" x2="511.8" y2="463.3" stroke="#888" stroke-width="0.35"/>
<text x="514.7" y="464.2" font-size="2.6" font-weight="bold" text-anchor="middle" fill="#666" stroke="#666" stroke-width="0.042">3</text>
<line x1="510.3" y1="472" x2="511.8" y2="472" stroke="#888" stroke-width="0.35"/>
<text x="514.7" y="472.9" font-size="2.6" font-weight="bold" text-anchor="middle" fill="#666" stroke="#666" stroke-width="0.042">2</text>
<rect x="452.1" y="477.7" width="27.6" height="27.6" fill="none" stroke="#b4b4b4" stroke-width="0.9"/>
<circle cx="464.5" cy="494.96" r="0.55" fill="none" stroke="#222" stroke-width="0.35"/>
<circle cx="466.51" cy="489.49" r="0.55" fill="none" stroke="#222" stroke-width="0.35"/>
<circle cx="465.64" cy="492.05" r="0.55" fill="none" stroke="#222" stroke-width="0.35"/>
<circle cx="470.71" cy="490.66" r="0.55" fill="none" stroke="#222" stroke-width="0.35"/>
<circle cx="454.22" cy="496.67" r="0.55" fill="none" stroke="#222" stroke-width="0.35"/>
<circle cx="458.76" cy="490.12" r="0.55" fill="none" stroke="#222" stroke-width="0.35"/>
<circle cx="473.01" cy="489.63" r="0.55" fill="none" stroke="#222" stroke-width="0.35"/>
<circle cx="477.33" cy="480.43" r="0.55" fill="none" stroke="#222" stroke-width="0.35"/>
<circle cx="461.81" cy="486.51" r="0.55" fill="none" stroke="#222" stroke-width="0.35"/>
<circle cx="471.4" cy="492.23" r="0.55" fill="none" stroke="#222" stroke-width="0.35"/>
<circle cx="454.98" cy="500.51" r="0.55" fill="none" stroke="#222" stroke-width="0.35"/>
<circle cx="462.89" cy="490.14" r="0.55" fill="none" stroke="#222" stroke-width="0.35"/>
<circle cx="461.04" cy="493.57" r="0.55" fill="none" stroke="#222" stroke-width="0.35"/>
<circle cx="473.93" cy="483.83" r="0.55" fill="none" stroke="#222" stroke-width="0.35"/>
<circle cx="464.17" cy="496.05" r="0.55" fill="none" stroke="#222" stroke-width="0.35"/>
<circle cx="477.18" cy="482.57" r="0.55" fill="none" stroke="#222" stroke-width="0.35"/>
<circle cx="462.81" cy="481.43" r="0.55" fill="none" stroke="#222" stroke-width="0.35"/>
<circle cx="474.85" cy="483.34" r="0.55" fill="none" stroke="#222" stroke-width="0.35"/>
<circle cx="473.98" cy="489.48" r="0.55" fill="none" stroke="#222" stroke-width="0.35"/>
<circle cx="459.12" cy="493.74" r="0.55" fill="none" stroke="#222" stroke-width="0.35"/>
<circle cx="463.1" cy="492.94" r="0.55" fill="none" stroke="#222" stroke-width="0.35"/>
<circle cx="472.08" cy="487.14" r="0.55" fill="none" stroke="#222" stroke-width="0.35"/>
<circle cx="472.68" cy="480.43" r="0.55" fill="none" stroke="#222" stroke-width="0.35"/>
<circle cx="467.54" cy="488.91" r="0.55" fill="none" stroke="#222" stroke-width="0.35"/>
<circle cx="476.59" cy="492.39" r="0.55" fill="none" stroke="#222" stroke-width="0.35"/>
<circle cx="466.69" cy="488.82" r="0.55" fill="none" stroke="#222" stroke-width="0.35"/>
<circle cx="470.23" cy="489.17" r="0.55" fill="none" stroke="#222" stroke-width="0.35"/>
<circle cx="458.82" cy="493.45" r="0.55" fill="none" stroke="#222" stroke-width="0.35"/>
<circle cx="461.25" cy="495.5" r="0.55" fill="none" stroke="#222" stroke-width="0.35"/>
<circle cx="468.61" cy="486.95" r="0.55" fill="none" stroke="#222" stroke-width="0.35"/>
<circle cx="471.23" cy="490.67" r="0.55" fill="none" stroke="#222" stroke-width="0.35"/>
<circle cx="467.98" cy="487.3" r="0.55" fill="none" stroke="#222" stroke-width="0.35"/>
<circle cx="477.27" cy="483.98" r="0.55" fill="none" stroke="#222" stroke-width="0.35"/>
<circle cx="474.53" cy="492.01" r="0.55" fill="none" stroke="#222" stroke-width="0.35"/>
<circle cx="461.13" cy="491.01" r="0.55" fill="none" stroke="#222" stroke-width="0.35"/>
<circle cx="458.16" cy="492.72" r="0.55" fill="none" stroke="#222" stroke-width="0.35"/>
<circle cx="454.17" cy="501.76" r="0.55" fill="none" stroke="#222" stroke-width="0.35"/>
<circle cx="457.92" cy="500.12" r="0.55" fill="none" stroke="#222" stroke-width="0.35"/>
<circle cx="471.81" cy="481.37" r="0.55" fill="none" stroke="#222" stroke-width="0.35"/>
<circle cx="459.08" cy="495.78" r="0.55" fill="none" stroke="#222" stroke-width="0.35"/>
<circle cx="470.78" cy="488.16" r="0.55" fill="none" stroke="#222" stroke-width="0.35"/>
<circle cx="454.27" cy="493.04" r="0.55" fill="none" stroke="#222" stroke-width="0.35"/>
<circle cx="468.3" cy="487.58" r="0.55" fill="none" stroke="#222" stroke-width="0.35"/>
<circle cx="458.91" cy="494.31" r="0.55" fill="none" stroke="#222" stroke-width="0.35"/>
<circle cx="465.14" cy="486.34" r="0.55" fill="none" stroke="#222" stroke-width="0.35"/>
<circle cx="472.73" cy="486.14" r="0.55" fill="none" stroke="#222" stroke-width="0.35"/>
<circle cx="466.83" cy="488.9" r="0.55" fill="none" stroke="#222" stroke-width="0.35"/>
<circle cx="460.34" cy="492.54" r="0.55" fill="none" stroke="#222" stroke-width="0.35"/>
<circle cx="471.4" cy="483.65" r="0.55" fill="none" stroke="#222" stroke-width="0.35"/>
<circle cx="457.6" cy="496.12" r="0.55" fill="none" stroke="#222" stroke-width="0.35"/>
<circle cx="460.82" cy="494.18" r="0.55" fill="none" stroke="#222" stroke-width="0.35"/>
<circle cx="457.99" cy="492.88" r="0.55" fill="none" stroke="#222" stroke-width="0.35"/>
<circle cx="466.22" cy="488.57" r="0.55" fill="none" stroke="#222" stroke-width="0.35"/>
<circle cx="475.87" cy="488.23" r="0.55" fill="none" stroke="#222" stroke-width="0.35"/>
<circle cx="475.73" cy="488.41" r="0.55" fill="none" stroke="#222" stroke-width="0.35"/>
<line x1="452.6" y1="495.81" x2="479.2" y2="484.74" stroke="#333" stroke-width="0.45"/>
<line x1="455.4" y1="505.3" x2="455.4" y2="506.7" stroke="#888" stroke-width="0.35"/>
<text x="455.4" y="510.7" font-size="2.6" font-weight="bold" text-anchor="middle" fill="#666" stroke="#666" stroke-width="0.042">2</text>
<line x1="463.9" y1="505.3" x2="463.9" y2="506.7" stroke="#888" stroke-width="0.35"/>
<text x="463.9" y="510.7" font-size="2.6" font-weight="bold" text-anchor="middle" fill="#666" stroke="#666" stroke-width="0.042">4</text>
<line x1="467.6" y1="505.3" x2="467.6" y2="506.7" stroke="#888" stroke-width="0.35"/>
<text x="467.6" y="510.7" font-size="2.6" font-weight="bold" text-anchor="middle" fill="#666" stroke="#666" stroke-width="0.042">6</text>
<line x1="471.5" y1="505.3" x2="471.5" y2="506.7" stroke="#888" stroke-width="0.35"/>
<text x="471.5" y="510.7" font-size="2.6" font-weight="bold" text-anchor="middle" fill="#666" stroke="#666" stroke-width="0.042">8</text>
<line x1="475.7" y1="505.3" x2="475.7" y2="506.7" stroke="#888" stroke-width="0.35"/>
<text x="475.7" y="510.7" font-size="2.6" font-weight="bold" text-anchor="middle" fill="#666" stroke="#666" stroke-width="0.042">10</text>
<line x1="452.1" y1="480.3" x2="450.6" y2="480.3" stroke="#888" stroke-width="0.35"/>
<text x="447.3" y="481.2" font-size="2.6" font-weight="bold" text-anchor="middle" fill="#666" stroke="#666" stroke-width="0.042">40</text>
<line x1="452.1" y1="484.4" x2="450.6" y2="484.4" stroke="#888" stroke-width="0.35"/>
<text x="447.3" y="485.3" font-size="2.6" font-weight="bold" text-anchor="middle" fill="#666" stroke="#666" stroke-width="0.042">30</text>
<line x1="452.1" y1="487.9" x2="450.6" y2="487.9" stroke="#888" stroke-width="0.35"/>
<text x="447.3" y="488.8" font-size="2.6" font-weight="bold" text-anchor="middle" fill="#666" stroke="#666" stroke-width="0.042">20</text>
<line x1="452.1" y1="495.8" x2="450.6" y2="495.8" stroke="#888" stroke-width="0.35"/>
<text x="447.3" y="496.7" font-size="2.6" font-weight="bold" text-anchor="middle" fill="#666" stroke="#666" stroke-width="0.042">10</text>
<line x1="452.1" y1="503.6" x2="450.6" y2="503.6" stroke="#888" stroke-width="0.35"/>
<text x="447.3" y="504.5" font-size="2.6" font-weight="bold" text-anchor="middle" fill="#666" stroke="#666" stroke-width="0.042">0</text>
<rect x="489.4" y="497.4" width="5.7" height="7.9" fill="#7accc6" stroke="#2f7f7a" stroke-width="0.45"/>
<rect x="495.1" y="491.2" width="5.5" height="14.1" fill="#7accc6" stroke="#2f7f7a" stroke-width="0.45"/>
<rect x="500.6" y="486.2" width="4.9" height="19.1" fill="#7accc6" stroke="#2f7f7a" stroke-width="0.45"/>
<rect x="505.5" y="498.4" width="4.1" height="6.9" fill="#7accc6" stroke="#2f7f7a" stroke-width="0.45"/>
<rect x="482.3" y="477.7" width="28" height="27.6" fill="none" stroke="#b4b4b4" stroke-width="0.9"/>
<text x="496.3" y="484.1" font-size="5.0" font-weight="bold" text-anchor="middle" fill="#000" stroke="#000" stroke-width="0.080" textLength="9.6" lengthAdjust="spacingAndGlyphs">LDL</text>
</svg>
</body></html>
